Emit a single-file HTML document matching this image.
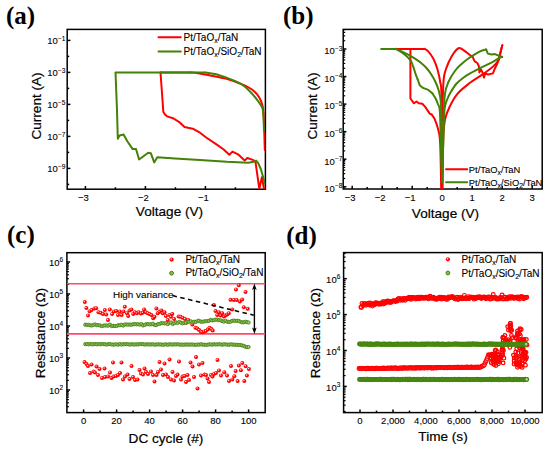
<!DOCTYPE html>
<html><head><meta charset="utf-8"><style>
html,body{margin:0;padding:0;background:#fff;overflow:hidden}
svg{display:block}
text{font-family:"Liberation Sans",sans-serif;stroke:#000;stroke-width:0.1px}
.t{stroke-width:0.2px}
.p{stroke:none}
</style></head><body>
<svg width="550" height="451" viewBox="0 0 550 451">
<defs>
<clipPath id="clipa"><rect x="67.2" y="29.4" width="198.2" height="159.8"/></clipPath>
<clipPath id="clipb"><rect x="343.2" y="29.4" width="199" height="159.6"/></clipPath>
</defs>
<rect width="550" height="451" fill="#fff"/>
<rect x="67.20" y="29.40" width="198.20" height="159.80" fill="none" stroke="#000" stroke-width="1.5"/>
<line x1="85.40" y1="189.20" x2="85.40" y2="186.00" stroke="#000" stroke-width="1.5" />
<text x="83.40" y="200.50" font-size="9.5" text-anchor="middle" fill="#000" >−3</text>
<line x1="145.40" y1="189.20" x2="145.40" y2="186.00" stroke="#000" stroke-width="1.5" />
<text x="143.40" y="200.50" font-size="9.5" text-anchor="middle" fill="#000" >−2</text>
<line x1="205.40" y1="189.20" x2="205.40" y2="186.00" stroke="#000" stroke-width="1.5" />
<text x="203.40" y="200.50" font-size="9.5" text-anchor="middle" fill="#000" >−1</text>
<line x1="115.40" y1="189.20" x2="115.40" y2="187.20" stroke="#000" stroke-width="1.5" />
<line x1="175.40" y1="189.20" x2="175.40" y2="187.20" stroke="#000" stroke-width="1.5" />
<line x1="235.40" y1="189.20" x2="235.40" y2="187.20" stroke="#000" stroke-width="1.5" />
<line x1="67.20" y1="40.40" x2="70.40" y2="40.40" stroke="#000" stroke-width="1.5" />
<text x="65.30" y="44.30" font-size="9.5" text-anchor="end" fill="#000"><tspan>10</tspan><tspan font-size="6.5" dy="-3.8">−1</tspan></text>
<line x1="67.20" y1="72.40" x2="70.40" y2="72.40" stroke="#000" stroke-width="1.5" />
<text x="65.30" y="76.30" font-size="9.5" text-anchor="end" fill="#000"><tspan>10</tspan><tspan font-size="6.5" dy="-3.8">−3</tspan></text>
<line x1="67.20" y1="104.40" x2="70.40" y2="104.40" stroke="#000" stroke-width="1.5" />
<text x="65.30" y="108.30" font-size="9.5" text-anchor="end" fill="#000"><tspan>10</tspan><tspan font-size="6.5" dy="-3.8">−5</tspan></text>
<line x1="67.20" y1="136.40" x2="70.40" y2="136.40" stroke="#000" stroke-width="1.5" />
<text x="65.30" y="140.30" font-size="9.5" text-anchor="end" fill="#000"><tspan>10</tspan><tspan font-size="6.5" dy="-3.8">−7</tspan></text>
<line x1="67.20" y1="168.40" x2="70.40" y2="168.40" stroke="#000" stroke-width="1.5" />
<text x="65.30" y="172.30" font-size="9.5" text-anchor="end" fill="#000"><tspan>10</tspan><tspan font-size="6.5" dy="-3.8">−9</tspan></text>
<line x1="67.20" y1="56.40" x2="69.20" y2="56.40" stroke="#000" stroke-width="1.5" />
<line x1="67.20" y1="88.40" x2="69.20" y2="88.40" stroke="#000" stroke-width="1.5" />
<line x1="67.20" y1="120.40" x2="69.20" y2="120.40" stroke="#000" stroke-width="1.5" />
<line x1="67.20" y1="152.40" x2="69.20" y2="152.40" stroke="#000" stroke-width="1.5" />
<line x1="67.20" y1="184.40" x2="69.20" y2="184.40" stroke="#000" stroke-width="1.5" />
<text x="169.50" y="216.30" font-size="13.6" text-anchor="middle" fill="#000" class="t">Voltage (V)</text>
<text transform="translate(40.9,106) rotate(-90)" class="t" x="0" y="0" font-size="13.6" text-anchor="middle" fill="#000">Current (A)</text>
<text x="6" y="24" class="p" style="font-family:Liberation Serif,serif;font-weight:bold" font-size="25" fill="#000">(a)</text>
<line x1="158.50" y1="37.20" x2="180.80" y2="37.20" stroke="#ff0000" stroke-width="2.0" stroke-linecap="round"/>
<line x1="158.50" y1="51.50" x2="180.80" y2="51.50" stroke="#438206" stroke-width="2.0" stroke-linecap="round"/>
<text x="183.6" y="41.1" font-size="10" fill="#000">Pt/TaO<tspan font-size="7" dy="2">x</tspan><tspan dy="-2">/TaN</tspan></text>
<text x="183.6" y="55.2" font-size="10" fill="#000">Pt/TaO<tspan font-size="7" dy="2">x</tspan><tspan dy="-2">/SiO</tspan><tspan font-size="7" dy="2">2</tspan><tspan dy="-2">/TaN</tspan></text>
<g clip-path="url(#clipa)">
<path d="M264.80,150.00 C264.63,144.67 264.17,125.33 263.80,118.00 C263.43,110.67 263.40,109.50 262.60,106.00 C261.80,102.50 260.77,99.75 259.00,97.00 C257.23,94.25 254.73,91.57 252.00,89.50 C249.27,87.43 246.83,86.38 242.60,84.60 C238.37,82.82 232.03,80.33 226.60,78.80 C221.17,77.27 214.77,76.33 210.00,75.40 C205.23,74.47 201.33,73.68 198.00,73.20 C194.67,72.72 191.33,72.62 190.00,72.50" fill="none" stroke="#ff0000" stroke-width="2.0" stroke-linejoin="round" stroke-linecap="round" />
<polyline points="190.0,72.5 160.5,72.5" fill="none" stroke="#ff0000" stroke-width="2.0" stroke-linejoin="round" stroke-linecap="round" />
<polyline points="160.5,72.5 162.5,100.0 163.3,111.8 165.0,114.5 167.3,116.4 173.6,118.5 180.0,122.7 184.5,127.0 188.0,127.8 192.7,128.7 200.0,132.7 206.2,137.5 215.7,143.9 223.7,149.5 229.3,154.8 232.5,151.6 238.0,154.3 244.7,160.6 247.3,158.0 253.5,160.1 255.6,162.7 259.3,188.8 261.9,177.3 264.0,188.8" fill="none" stroke="#ff0000" stroke-width="2.0" stroke-linejoin="round" stroke-linecap="round" />
<path d="M264.00,131.00 C263.90,128.50 263.70,119.90 263.40,116.00 C263.10,112.10 263.43,110.55 262.20,107.60 C260.97,104.65 258.20,101.15 256.00,98.30 C253.80,95.45 251.23,92.72 249.00,90.50 C246.77,88.28 245.10,86.65 242.60,85.00 C240.10,83.35 236.67,81.83 234.00,80.60 C231.33,79.37 229.77,78.70 226.60,77.60 C223.43,76.50 218.60,74.87 215.00,74.00 C211.40,73.13 206.67,72.67 205.00,72.40" fill="none" stroke="#438206" stroke-width="2.0" stroke-linejoin="round" stroke-linecap="round" />
<polyline points="205.0,72.4 115.5,72.4 117.0,110.0 117.8,138.7 119.6,135.5 123.6,134.5 127.3,141.3 132.7,149.1 136.0,149.0 139.1,159.5 148.2,152.7 150.9,153.3 154.2,162.4 157.3,157.3 175.0,158.6 200.0,160.0 226.9,161.8 248.3,162.7 253.5,161.7 256.1,160.6 258.2,163.2 260.8,169.0 265.0,183.5" fill="none" stroke="#438206" stroke-width="2.0" stroke-linejoin="round" stroke-linecap="round" />
</g>
<rect x="343.20" y="29.40" width="199.00" height="159.60" fill="none" stroke="#000" stroke-width="1.5"/>
<line x1="352.20" y1="189.00" x2="352.20" y2="185.80" stroke="#000" stroke-width="1.5" />
<text x="350.20" y="200.50" font-size="9.5" text-anchor="middle" fill="#000" >−3</text>
<line x1="382.20" y1="189.00" x2="382.20" y2="185.80" stroke="#000" stroke-width="1.5" />
<text x="380.20" y="200.50" font-size="9.5" text-anchor="middle" fill="#000" >−2</text>
<line x1="412.20" y1="189.00" x2="412.20" y2="185.80" stroke="#000" stroke-width="1.5" />
<text x="410.20" y="200.50" font-size="9.5" text-anchor="middle" fill="#000" >−1</text>
<line x1="442.20" y1="189.00" x2="442.20" y2="185.80" stroke="#000" stroke-width="1.5" />
<text x="442.20" y="200.50" font-size="9.5" text-anchor="middle" fill="#000" >0</text>
<line x1="472.20" y1="189.00" x2="472.20" y2="185.80" stroke="#000" stroke-width="1.5" />
<text x="472.20" y="200.50" font-size="9.5" text-anchor="middle" fill="#000" >1</text>
<line x1="502.20" y1="189.00" x2="502.20" y2="185.80" stroke="#000" stroke-width="1.5" />
<text x="502.20" y="200.50" font-size="9.5" text-anchor="middle" fill="#000" >2</text>
<line x1="532.20" y1="189.00" x2="532.20" y2="185.80" stroke="#000" stroke-width="1.5" />
<text x="532.20" y="200.50" font-size="9.5" text-anchor="middle" fill="#000" >3</text>
<line x1="367.20" y1="189.00" x2="367.20" y2="187.00" stroke="#000" stroke-width="1.5" />
<line x1="397.20" y1="189.00" x2="397.20" y2="187.00" stroke="#000" stroke-width="1.5" />
<line x1="427.20" y1="189.00" x2="427.20" y2="187.00" stroke="#000" stroke-width="1.5" />
<line x1="457.20" y1="189.00" x2="457.20" y2="187.00" stroke="#000" stroke-width="1.5" />
<line x1="487.20" y1="189.00" x2="487.20" y2="187.00" stroke="#000" stroke-width="1.5" />
<line x1="517.20" y1="189.00" x2="517.20" y2="187.00" stroke="#000" stroke-width="1.5" />
<line x1="343.20" y1="49.00" x2="346.40" y2="49.00" stroke="#000" stroke-width="1.5" />
<text x="342.30" y="54.30" font-size="9.5" text-anchor="end" fill="#000"><tspan>10</tspan><tspan font-size="6.5" dy="-3.8">−3</tspan></text>
<line x1="343.20" y1="76.55" x2="346.40" y2="76.55" stroke="#000" stroke-width="1.5" />
<text x="342.30" y="81.85" font-size="9.5" text-anchor="end" fill="#000"><tspan>10</tspan><tspan font-size="6.5" dy="-3.8">−4</tspan></text>
<line x1="343.20" y1="104.10" x2="346.40" y2="104.10" stroke="#000" stroke-width="1.5" />
<text x="342.30" y="109.40" font-size="9.5" text-anchor="end" fill="#000"><tspan>10</tspan><tspan font-size="6.5" dy="-3.8">−5</tspan></text>
<line x1="343.20" y1="131.65" x2="346.40" y2="131.65" stroke="#000" stroke-width="1.5" />
<text x="342.30" y="136.95" font-size="9.5" text-anchor="end" fill="#000"><tspan>10</tspan><tspan font-size="6.5" dy="-3.8">−6</tspan></text>
<line x1="343.20" y1="159.20" x2="346.40" y2="159.20" stroke="#000" stroke-width="1.5" />
<text x="342.30" y="164.50" font-size="9.5" text-anchor="end" fill="#000"><tspan>10</tspan><tspan font-size="6.5" dy="-3.8">−7</tspan></text>
<line x1="343.20" y1="186.75" x2="346.40" y2="186.75" stroke="#000" stroke-width="1.5" />
<text x="342.30" y="192.05" font-size="9.5" text-anchor="end" fill="#000"><tspan>10</tspan><tspan font-size="6.5" dy="-3.8">−8</tspan></text>
<line x1="343.20" y1="188.01" x2="345.20" y2="188.01" stroke="#000" stroke-width="1.2" />
<line x1="343.20" y1="178.46" x2="345.20" y2="178.46" stroke="#000" stroke-width="1.2" />
<line x1="343.20" y1="173.61" x2="345.20" y2="173.61" stroke="#000" stroke-width="1.2" />
<line x1="343.20" y1="170.16" x2="345.20" y2="170.16" stroke="#000" stroke-width="1.2" />
<line x1="343.20" y1="167.49" x2="345.20" y2="167.49" stroke="#000" stroke-width="1.2" />
<line x1="343.20" y1="165.31" x2="345.20" y2="165.31" stroke="#000" stroke-width="1.2" />
<line x1="343.20" y1="163.47" x2="345.20" y2="163.47" stroke="#000" stroke-width="1.2" />
<line x1="343.20" y1="161.87" x2="345.20" y2="161.87" stroke="#000" stroke-width="1.2" />
<line x1="343.20" y1="160.46" x2="345.20" y2="160.46" stroke="#000" stroke-width="1.2" />
<line x1="343.20" y1="150.91" x2="345.20" y2="150.91" stroke="#000" stroke-width="1.2" />
<line x1="343.20" y1="146.06" x2="345.20" y2="146.06" stroke="#000" stroke-width="1.2" />
<line x1="343.20" y1="142.61" x2="345.20" y2="142.61" stroke="#000" stroke-width="1.2" />
<line x1="343.20" y1="139.94" x2="345.20" y2="139.94" stroke="#000" stroke-width="1.2" />
<line x1="343.20" y1="137.76" x2="345.20" y2="137.76" stroke="#000" stroke-width="1.2" />
<line x1="343.20" y1="135.92" x2="345.20" y2="135.92" stroke="#000" stroke-width="1.2" />
<line x1="343.20" y1="134.32" x2="345.20" y2="134.32" stroke="#000" stroke-width="1.2" />
<line x1="343.20" y1="132.91" x2="345.20" y2="132.91" stroke="#000" stroke-width="1.2" />
<line x1="343.20" y1="123.36" x2="345.20" y2="123.36" stroke="#000" stroke-width="1.2" />
<line x1="343.20" y1="118.51" x2="345.20" y2="118.51" stroke="#000" stroke-width="1.2" />
<line x1="343.20" y1="115.06" x2="345.20" y2="115.06" stroke="#000" stroke-width="1.2" />
<line x1="343.20" y1="112.39" x2="345.20" y2="112.39" stroke="#000" stroke-width="1.2" />
<line x1="343.20" y1="110.21" x2="345.20" y2="110.21" stroke="#000" stroke-width="1.2" />
<line x1="343.20" y1="108.37" x2="345.20" y2="108.37" stroke="#000" stroke-width="1.2" />
<line x1="343.20" y1="106.77" x2="345.20" y2="106.77" stroke="#000" stroke-width="1.2" />
<line x1="343.20" y1="105.36" x2="345.20" y2="105.36" stroke="#000" stroke-width="1.2" />
<line x1="343.20" y1="95.81" x2="345.20" y2="95.81" stroke="#000" stroke-width="1.2" />
<line x1="343.20" y1="90.96" x2="345.20" y2="90.96" stroke="#000" stroke-width="1.2" />
<line x1="343.20" y1="87.51" x2="345.20" y2="87.51" stroke="#000" stroke-width="1.2" />
<line x1="343.20" y1="84.84" x2="345.20" y2="84.84" stroke="#000" stroke-width="1.2" />
<line x1="343.20" y1="82.66" x2="345.20" y2="82.66" stroke="#000" stroke-width="1.2" />
<line x1="343.20" y1="80.82" x2="345.20" y2="80.82" stroke="#000" stroke-width="1.2" />
<line x1="343.20" y1="79.22" x2="345.20" y2="79.22" stroke="#000" stroke-width="1.2" />
<line x1="343.20" y1="77.81" x2="345.20" y2="77.81" stroke="#000" stroke-width="1.2" />
<line x1="343.20" y1="68.26" x2="345.20" y2="68.26" stroke="#000" stroke-width="1.2" />
<line x1="343.20" y1="63.41" x2="345.20" y2="63.41" stroke="#000" stroke-width="1.2" />
<line x1="343.20" y1="59.96" x2="345.20" y2="59.96" stroke="#000" stroke-width="1.2" />
<line x1="343.20" y1="57.29" x2="345.20" y2="57.29" stroke="#000" stroke-width="1.2" />
<line x1="343.20" y1="55.11" x2="345.20" y2="55.11" stroke="#000" stroke-width="1.2" />
<line x1="343.20" y1="53.27" x2="345.20" y2="53.27" stroke="#000" stroke-width="1.2" />
<line x1="343.20" y1="51.67" x2="345.20" y2="51.67" stroke="#000" stroke-width="1.2" />
<line x1="343.20" y1="50.26" x2="345.20" y2="50.26" stroke="#000" stroke-width="1.2" />
<line x1="343.20" y1="40.71" x2="345.20" y2="40.71" stroke="#000" stroke-width="1.2" />
<line x1="343.20" y1="35.86" x2="345.20" y2="35.86" stroke="#000" stroke-width="1.2" />
<line x1="343.20" y1="32.41" x2="345.20" y2="32.41" stroke="#000" stroke-width="1.2" />
<line x1="343.20" y1="29.74" x2="345.20" y2="29.74" stroke="#000" stroke-width="1.2" />
<text x="445.50" y="217.50" font-size="13.6" text-anchor="middle" fill="#000" class="t">Voltage (V)</text>
<text transform="translate(316.9,106) rotate(-90)" class="t" x="0" y="0" font-size="13.6" text-anchor="middle" fill="#000">Current (A)</text>
<text x="283" y="24" class="p" style="font-family:Liberation Serif,serif;font-weight:bold" font-size="25" fill="#000">(b)</text>
<line x1="446.00" y1="169.20" x2="467.20" y2="169.20" stroke="#ff0000" stroke-width="2.0" stroke-linecap="round"/>
<line x1="446.00" y1="182.30" x2="467.20" y2="182.30" stroke="#438206" stroke-width="2.0" stroke-linecap="round"/>
<text x="468.8" y="172.8" font-size="9.4" fill="#000">Pt/TaO<tspan font-size="7" dy="2">x</tspan><tspan dy="-2">/TaN</tspan></text>
<text x="468.8" y="185.9" font-size="9.4" fill="#000">Pt/TaO<tspan font-size="7" dy="2">x</tspan><tspan dy="-2">/SiO</tspan><tspan font-size="7" dy="2">2</tspan><tspan dy="-2">/TaN</tspan></text>
<g clip-path="url(#clipb)">
<polyline points="396.0,48.9 424.5,48.9" fill="none" stroke="#ff0000" stroke-width="2.0" stroke-linejoin="round" stroke-linecap="round" />
<path d="M424.50,48.90 C425.08,49.28 426.50,49.52 428.00,51.20 C429.50,52.88 431.92,55.95 433.50,59.00 C435.08,62.05 436.38,65.67 437.50,69.50 C438.62,73.33 439.53,77.25 440.20,82.00 C440.87,86.75 441.20,80.17 441.50,98.00 C441.80,115.83 441.92,173.83 442.00,189.00" fill="none" stroke="#ff0000" stroke-width="2.0" stroke-linejoin="round" stroke-linecap="round" />
<polyline points="410.4,48.9 410.4,98.5 414.0,103.3 416.5,101.5 418.8,103.3 422.3,103.8 425.0,106.6 429.9,113.9 431.7,114.5" fill="none" stroke="#ff0000" stroke-width="2.0" stroke-linejoin="round" stroke-linecap="round" />
<path d="M431.70,114.50 C432.22,115.32 433.68,116.75 434.80,119.40 C435.92,122.05 437.50,126.33 438.40,130.40 C439.30,134.47 439.73,134.03 440.20,143.80 C440.67,153.57 441.03,181.47 441.20,189.00" fill="none" stroke="#ff0000" stroke-width="2.0" stroke-linejoin="round" stroke-linecap="round" />
<path d="M442.60,189.00 C442.72,180.45 442.88,149.30 443.30,137.70 C443.72,126.10 444.08,124.48 445.10,119.40 C446.12,114.32 447.32,111.50 449.40,107.20 C451.48,102.90 454.17,97.67 457.60,93.60 C461.03,89.53 466.20,85.77 470.00,82.80 C473.80,79.83 477.45,77.80 480.40,75.80 C483.35,73.80 485.43,72.50 487.70,70.80 C489.97,69.10 492.27,67.33 494.00,65.60 C495.73,63.87 496.72,63.78 498.10,60.40 C499.48,57.02 501.60,47.82 502.30,45.30" fill="none" stroke="#ff0000" stroke-width="2.0" stroke-linejoin="round" stroke-linecap="round" />
<path d="M442.20,120.00 C442.43,113.32 442.82,88.80 443.60,79.90 C444.38,71.00 445.57,70.48 446.90,66.60 C448.23,62.72 450.05,59.37 451.60,56.60 C453.15,53.83 454.88,51.43 456.20,50.00 C457.52,48.57 458.17,47.90 459.50,48.00 C460.83,48.10 462.57,49.52 464.20,50.60 C465.83,51.68 467.90,53.47 469.30,54.50 C470.70,55.53 472.05,56.42 472.60,56.80" fill="none" stroke="#ff0000" stroke-width="2.0" stroke-linejoin="round" stroke-linecap="round" />
<polyline points="472.6,56.8 474.7,61.4 477.3,63.0 478.9,66.1 479.4,72.4 480.9,69.3 482.5,72.4 484.1,77.6 485.1,73.4 488.2,74.5 492.9,73.4 494.5,69.3 497.1,64.0 499.2,58.8 500.7,51.5 502.3,45.3" fill="none" stroke="#ff0000" stroke-width="2.0" stroke-linejoin="round" stroke-linecap="round" />
<polyline points="381.2,48.9 395.9,48.9" fill="none" stroke="#438206" stroke-width="2.0" stroke-linejoin="round" stroke-linecap="round" />
<path d="M395.90,48.90 C396.85,49.30 399.47,50.32 401.60,51.30 C403.73,52.28 406.47,53.58 408.70,54.80 C410.93,56.02 413.03,57.32 415.00,58.60 C416.97,59.88 418.67,61.02 420.50,62.50 C422.33,63.98 424.25,65.58 426.00,67.50 C427.75,69.42 429.42,71.58 431.00,74.00 C432.58,76.42 434.22,79.25 435.50,82.00 C436.78,84.75 437.85,87.50 438.70,90.50 C439.55,93.50 440.17,95.92 440.60,100.00 C441.03,104.08 441.15,106.67 441.30,115.00 C441.45,123.33 441.35,138.83 441.50,150.00 C441.65,161.17 442.08,176.67 442.20,182.00" fill="none" stroke="#438206" stroke-width="2.0" stroke-linejoin="round" stroke-linecap="round" />
<path d="M395.90,48.90 C397.30,49.78 401.87,52.28 404.30,54.20 C406.73,56.12 409.02,58.33 410.50,60.40 C411.98,62.47 412.32,64.23 413.20,66.60 C414.08,68.97 415.05,72.45 415.80,74.60 C416.55,76.75 417.38,78.68 417.70,79.50" fill="none" stroke="#438206" stroke-width="2.0" stroke-linejoin="round" stroke-linecap="round" />
<polyline points="417.7,79.5 419.7,85.2 423.0,87.9 428.3,89.9 432.3,93.2" fill="none" stroke="#438206" stroke-width="2.0" stroke-linejoin="round" stroke-linecap="round" />
<path d="M432.30,93.20 C432.85,94.08 434.67,96.70 435.60,98.50 C436.53,100.30 437.18,101.75 437.90,104.00 C438.62,106.25 439.38,104.33 439.90,112.00 C440.42,119.67 440.62,138.33 441.00,150.00 C441.38,161.67 442.00,176.67 442.20,182.00" fill="none" stroke="#438206" stroke-width="2.0" stroke-linejoin="round" stroke-linecap="round" />
<path d="M442.20,182.00 C442.33,176.67 442.78,160.43 443.00,150.00 C443.22,139.57 443.18,128.73 443.50,119.40 C443.82,110.07 444.08,100.23 444.90,94.00 C445.72,87.77 446.73,85.83 448.40,82.00 C450.07,78.17 452.80,73.92 454.90,71.00 C457.00,68.08 458.75,66.58 461.00,64.50 C463.25,62.42 465.40,60.62 468.40,58.50 C471.40,56.38 476.05,53.30 479.00,51.80 C481.95,50.30 484.92,49.88 486.10,49.50" fill="none" stroke="#438206" stroke-width="2.0" stroke-linejoin="round" stroke-linecap="round" />
<polyline points="486.1,49.5 487.9,53.6 491.4,54.5 495.0,54.1 502.0,57.0" fill="none" stroke="#438206" stroke-width="2.0" stroke-linejoin="round" stroke-linecap="round" />
<path d="M442.20,182.00 C442.33,176.67 442.62,162.00 443.00,150.00 C443.38,138.00 443.73,118.58 444.50,110.00 C445.27,101.42 446.53,101.52 447.60,98.50 C448.67,95.48 449.47,94.32 450.90,91.90 C452.33,89.48 454.18,86.32 456.20,84.00 C458.22,81.68 460.68,79.77 463.00,78.00 C465.32,76.23 466.85,75.25 470.10,73.40 C473.35,71.55 478.70,68.83 482.50,66.90 C486.30,64.97 490.22,63.23 492.90,61.80 C495.58,60.37 497.03,59.13 498.60,58.30 C500.17,57.47 501.68,57.05 502.30,56.80" fill="none" stroke="#438206" stroke-width="2.0" stroke-linejoin="round" stroke-linecap="round" />
</g>
<rect x="66.90" y="252.70" width="198.30" height="159.90" fill="none" stroke="#000" stroke-width="1.5"/>
<line x1="83.60" y1="412.60" x2="83.60" y2="409.40" stroke="#000" stroke-width="1.5" />
<text x="83.60" y="424.30" font-size="9.5" text-anchor="middle" fill="#000" >0</text>
<line x1="116.60" y1="412.60" x2="116.60" y2="409.40" stroke="#000" stroke-width="1.5" />
<text x="116.60" y="424.30" font-size="9.5" text-anchor="middle" fill="#000" >20</text>
<line x1="149.60" y1="412.60" x2="149.60" y2="409.40" stroke="#000" stroke-width="1.5" />
<text x="149.60" y="424.30" font-size="9.5" text-anchor="middle" fill="#000" >40</text>
<line x1="182.60" y1="412.60" x2="182.60" y2="409.40" stroke="#000" stroke-width="1.5" />
<text x="182.60" y="424.30" font-size="9.5" text-anchor="middle" fill="#000" >60</text>
<line x1="215.60" y1="412.60" x2="215.60" y2="409.40" stroke="#000" stroke-width="1.5" />
<text x="215.60" y="424.30" font-size="9.5" text-anchor="middle" fill="#000" >80</text>
<line x1="248.60" y1="412.60" x2="248.60" y2="409.40" stroke="#000" stroke-width="1.5" />
<text x="248.60" y="424.30" font-size="9.5" text-anchor="middle" fill="#000" >100</text>
<line x1="100.10" y1="412.60" x2="100.10" y2="410.60" stroke="#000" stroke-width="1.5" />
<line x1="133.10" y1="412.60" x2="133.10" y2="410.60" stroke="#000" stroke-width="1.5" />
<line x1="166.10" y1="412.60" x2="166.10" y2="410.60" stroke="#000" stroke-width="1.5" />
<line x1="199.10" y1="412.60" x2="199.10" y2="410.60" stroke="#000" stroke-width="1.5" />
<line x1="232.10" y1="412.60" x2="232.10" y2="410.60" stroke="#000" stroke-width="1.5" />
<line x1="66.90" y1="390.00" x2="70.10" y2="390.00" stroke="#000" stroke-width="1.5" />
<text x="63.20" y="394.10" font-size="9.5" text-anchor="end" fill="#000"><tspan>10</tspan><tspan font-size="6.5" dy="-3.8">2</tspan></text>
<line x1="66.90" y1="358.00" x2="70.10" y2="358.00" stroke="#000" stroke-width="1.5" />
<text x="63.20" y="362.10" font-size="9.5" text-anchor="end" fill="#000"><tspan>10</tspan><tspan font-size="6.5" dy="-3.8">3</tspan></text>
<line x1="66.90" y1="326.00" x2="70.10" y2="326.00" stroke="#000" stroke-width="1.5" />
<text x="63.20" y="330.10" font-size="9.5" text-anchor="end" fill="#000"><tspan>10</tspan><tspan font-size="6.5" dy="-3.8">4</tspan></text>
<line x1="66.90" y1="294.00" x2="70.10" y2="294.00" stroke="#000" stroke-width="1.5" />
<text x="63.20" y="298.10" font-size="9.5" text-anchor="end" fill="#000"><tspan>10</tspan><tspan font-size="6.5" dy="-3.8">5</tspan></text>
<line x1="66.90" y1="262.00" x2="70.10" y2="262.00" stroke="#000" stroke-width="1.5" />
<text x="63.20" y="266.10" font-size="9.5" text-anchor="end" fill="#000"><tspan>10</tspan><tspan font-size="6.5" dy="-3.8">6</tspan></text>
<line x1="66.90" y1="406.73" x2="68.90" y2="406.73" stroke="#000" stroke-width="1.2" />
<line x1="66.90" y1="402.73" x2="68.90" y2="402.73" stroke="#000" stroke-width="1.2" />
<line x1="66.90" y1="399.63" x2="68.90" y2="399.63" stroke="#000" stroke-width="1.2" />
<line x1="66.90" y1="397.10" x2="68.90" y2="397.10" stroke="#000" stroke-width="1.2" />
<line x1="66.90" y1="394.96" x2="68.90" y2="394.96" stroke="#000" stroke-width="1.2" />
<line x1="66.90" y1="393.10" x2="68.90" y2="393.10" stroke="#000" stroke-width="1.2" />
<line x1="66.90" y1="391.46" x2="68.90" y2="391.46" stroke="#000" stroke-width="1.2" />
<line x1="66.90" y1="380.37" x2="68.90" y2="380.37" stroke="#000" stroke-width="1.2" />
<line x1="66.90" y1="374.73" x2="68.90" y2="374.73" stroke="#000" stroke-width="1.2" />
<line x1="66.90" y1="370.73" x2="68.90" y2="370.73" stroke="#000" stroke-width="1.2" />
<line x1="66.90" y1="367.63" x2="68.90" y2="367.63" stroke="#000" stroke-width="1.2" />
<line x1="66.90" y1="365.10" x2="68.90" y2="365.10" stroke="#000" stroke-width="1.2" />
<line x1="66.90" y1="362.96" x2="68.90" y2="362.96" stroke="#000" stroke-width="1.2" />
<line x1="66.90" y1="361.10" x2="68.90" y2="361.10" stroke="#000" stroke-width="1.2" />
<line x1="66.90" y1="359.46" x2="68.90" y2="359.46" stroke="#000" stroke-width="1.2" />
<line x1="66.90" y1="348.37" x2="68.90" y2="348.37" stroke="#000" stroke-width="1.2" />
<line x1="66.90" y1="342.73" x2="68.90" y2="342.73" stroke="#000" stroke-width="1.2" />
<line x1="66.90" y1="338.73" x2="68.90" y2="338.73" stroke="#000" stroke-width="1.2" />
<line x1="66.90" y1="335.63" x2="68.90" y2="335.63" stroke="#000" stroke-width="1.2" />
<line x1="66.90" y1="333.10" x2="68.90" y2="333.10" stroke="#000" stroke-width="1.2" />
<line x1="66.90" y1="330.96" x2="68.90" y2="330.96" stroke="#000" stroke-width="1.2" />
<line x1="66.90" y1="329.10" x2="68.90" y2="329.10" stroke="#000" stroke-width="1.2" />
<line x1="66.90" y1="327.46" x2="68.90" y2="327.46" stroke="#000" stroke-width="1.2" />
<line x1="66.90" y1="316.37" x2="68.90" y2="316.37" stroke="#000" stroke-width="1.2" />
<line x1="66.90" y1="310.73" x2="68.90" y2="310.73" stroke="#000" stroke-width="1.2" />
<line x1="66.90" y1="306.73" x2="68.90" y2="306.73" stroke="#000" stroke-width="1.2" />
<line x1="66.90" y1="303.63" x2="68.90" y2="303.63" stroke="#000" stroke-width="1.2" />
<line x1="66.90" y1="301.10" x2="68.90" y2="301.10" stroke="#000" stroke-width="1.2" />
<line x1="66.90" y1="298.96" x2="68.90" y2="298.96" stroke="#000" stroke-width="1.2" />
<line x1="66.90" y1="297.10" x2="68.90" y2="297.10" stroke="#000" stroke-width="1.2" />
<line x1="66.90" y1="295.46" x2="68.90" y2="295.46" stroke="#000" stroke-width="1.2" />
<line x1="66.90" y1="284.37" x2="68.90" y2="284.37" stroke="#000" stroke-width="1.2" />
<line x1="66.90" y1="278.73" x2="68.90" y2="278.73" stroke="#000" stroke-width="1.2" />
<line x1="66.90" y1="274.73" x2="68.90" y2="274.73" stroke="#000" stroke-width="1.2" />
<line x1="66.90" y1="271.63" x2="68.90" y2="271.63" stroke="#000" stroke-width="1.2" />
<line x1="66.90" y1="269.10" x2="68.90" y2="269.10" stroke="#000" stroke-width="1.2" />
<line x1="66.90" y1="266.96" x2="68.90" y2="266.96" stroke="#000" stroke-width="1.2" />
<line x1="66.90" y1="265.10" x2="68.90" y2="265.10" stroke="#000" stroke-width="1.2" />
<line x1="66.90" y1="263.46" x2="68.90" y2="263.46" stroke="#000" stroke-width="1.2" />
<text x="166.00" y="443.30" font-size="13.6" text-anchor="middle" fill="#000" class="t">DC cycle (#)</text>
<text transform="translate(44.9,333) rotate(-90)" class="t" x="0" y="0" font-size="13.6" text-anchor="middle" fill="#000">Resistance (Ω)</text>
<text x="7" y="242.8" class="p" style="font-family:Liberation Serif,serif;font-weight:bold" font-size="25" fill="#000">(c)</text>
<circle cx="171.60" cy="259.60" r="2.1" fill="#ff0000"/>
<circle cx="171.20" cy="259.10" r="0.80" fill="#fff" opacity="0.85"/>
<circle cx="171.6" cy="273.2" r="1.9" fill="#8dbb55" stroke="#40800a" stroke-width="1.0"/>
<text x="185.4" y="262.8" font-size="10" fill="#000">Pt/TaO<tspan font-size="7" dy="2">x</tspan><tspan dy="-2">/TaN</tspan></text>
<text x="185.4" y="276.3" font-size="10" fill="#000">Pt/TaO<tspan font-size="7" dy="2">x</tspan><tspan dy="-2">/SiO</tspan><tspan font-size="7" dy="2">2</tspan><tspan dy="-2">/TaN</tspan></text>
<line x1="66.90" y1="283.80" x2="265.20" y2="283.80" stroke="#ff4a6a" stroke-width="1.6" />
<line x1="66.90" y1="333.90" x2="265.20" y2="333.90" stroke="#ff4a6a" stroke-width="1.6" />
<circle cx="84.50" cy="362.00" r="2.0" fill="#ff0000"/>
<circle cx="84.10" cy="361.50" r="0.76" fill="#fff" opacity="0.85"/>
<circle cx="86.50" cy="364.00" r="2.0" fill="#ff0000"/>
<circle cx="86.10" cy="363.50" r="0.76" fill="#fff" opacity="0.85"/>
<circle cx="88.00" cy="366.00" r="2.0" fill="#ff0000"/>
<circle cx="87.60" cy="365.50" r="0.76" fill="#fff" opacity="0.85"/>
<circle cx="90.00" cy="373.00" r="2.0" fill="#ff0000"/>
<circle cx="89.60" cy="372.50" r="0.76" fill="#fff" opacity="0.85"/>
<circle cx="91.50" cy="364.50" r="2.0" fill="#ff0000"/>
<circle cx="91.10" cy="364.00" r="0.76" fill="#fff" opacity="0.85"/>
<circle cx="93.50" cy="371.50" r="2.0" fill="#ff0000"/>
<circle cx="93.10" cy="371.00" r="0.76" fill="#fff" opacity="0.85"/>
<circle cx="95.00" cy="372.50" r="2.0" fill="#ff0000"/>
<circle cx="94.60" cy="372.00" r="0.76" fill="#fff" opacity="0.85"/>
<circle cx="96.50" cy="366.50" r="2.0" fill="#ff0000"/>
<circle cx="96.10" cy="366.00" r="0.76" fill="#fff" opacity="0.85"/>
<circle cx="98.00" cy="375.00" r="2.0" fill="#ff0000"/>
<circle cx="97.60" cy="374.50" r="0.76" fill="#fff" opacity="0.85"/>
<circle cx="99.50" cy="369.00" r="2.0" fill="#ff0000"/>
<circle cx="99.10" cy="368.50" r="0.76" fill="#fff" opacity="0.85"/>
<circle cx="102.00" cy="378.00" r="2.0" fill="#ff0000"/>
<circle cx="101.60" cy="377.50" r="0.76" fill="#fff" opacity="0.85"/>
<circle cx="104.50" cy="368.50" r="2.0" fill="#ff0000"/>
<circle cx="104.10" cy="368.00" r="0.76" fill="#fff" opacity="0.85"/>
<circle cx="105.00" cy="377.00" r="2.0" fill="#ff0000"/>
<circle cx="104.60" cy="376.50" r="0.76" fill="#fff" opacity="0.85"/>
<circle cx="108.00" cy="376.50" r="2.0" fill="#ff0000"/>
<circle cx="107.60" cy="376.00" r="0.76" fill="#fff" opacity="0.85"/>
<circle cx="110.00" cy="372.50" r="2.0" fill="#ff0000"/>
<circle cx="109.60" cy="372.00" r="0.76" fill="#fff" opacity="0.85"/>
<circle cx="111.50" cy="378.00" r="2.0" fill="#ff0000"/>
<circle cx="111.10" cy="377.50" r="0.76" fill="#fff" opacity="0.85"/>
<circle cx="113.00" cy="362.50" r="2.0" fill="#ff0000"/>
<circle cx="112.60" cy="362.00" r="0.76" fill="#fff" opacity="0.85"/>
<circle cx="113.50" cy="376.50" r="2.0" fill="#ff0000"/>
<circle cx="113.10" cy="376.00" r="0.76" fill="#fff" opacity="0.85"/>
<circle cx="116.00" cy="376.00" r="2.0" fill="#ff0000"/>
<circle cx="115.60" cy="375.50" r="0.76" fill="#fff" opacity="0.85"/>
<circle cx="118.00" cy="375.00" r="2.0" fill="#ff0000"/>
<circle cx="117.60" cy="374.50" r="0.76" fill="#fff" opacity="0.85"/>
<circle cx="120.00" cy="373.00" r="2.0" fill="#ff0000"/>
<circle cx="119.60" cy="372.50" r="0.76" fill="#fff" opacity="0.85"/>
<circle cx="121.50" cy="362.50" r="2.0" fill="#ff0000"/>
<circle cx="121.10" cy="362.00" r="0.76" fill="#fff" opacity="0.85"/>
<circle cx="123.00" cy="379.50" r="2.0" fill="#ff0000"/>
<circle cx="122.60" cy="379.00" r="0.76" fill="#fff" opacity="0.85"/>
<circle cx="125.00" cy="376.50" r="2.0" fill="#ff0000"/>
<circle cx="124.60" cy="376.00" r="0.76" fill="#fff" opacity="0.85"/>
<circle cx="127.50" cy="374.50" r="2.0" fill="#ff0000"/>
<circle cx="127.10" cy="374.00" r="0.76" fill="#fff" opacity="0.85"/>
<circle cx="129.50" cy="379.00" r="2.0" fill="#ff0000"/>
<circle cx="129.10" cy="378.50" r="0.76" fill="#fff" opacity="0.85"/>
<circle cx="131.50" cy="366.00" r="2.0" fill="#ff0000"/>
<circle cx="131.10" cy="365.50" r="0.76" fill="#fff" opacity="0.85"/>
<circle cx="133.00" cy="377.00" r="2.0" fill="#ff0000"/>
<circle cx="132.60" cy="376.50" r="0.76" fill="#fff" opacity="0.85"/>
<circle cx="135.00" cy="380.00" r="2.0" fill="#ff0000"/>
<circle cx="134.60" cy="379.50" r="0.76" fill="#fff" opacity="0.85"/>
<circle cx="137.50" cy="379.50" r="2.0" fill="#ff0000"/>
<circle cx="137.10" cy="379.00" r="0.76" fill="#fff" opacity="0.85"/>
<circle cx="139.50" cy="370.00" r="2.0" fill="#ff0000"/>
<circle cx="139.10" cy="369.50" r="0.76" fill="#fff" opacity="0.85"/>
<circle cx="141.00" cy="373.50" r="2.0" fill="#ff0000"/>
<circle cx="140.60" cy="373.00" r="0.76" fill="#fff" opacity="0.85"/>
<circle cx="143.00" cy="374.50" r="2.0" fill="#ff0000"/>
<circle cx="142.60" cy="374.00" r="0.76" fill="#fff" opacity="0.85"/>
<circle cx="144.50" cy="368.50" r="2.0" fill="#ff0000"/>
<circle cx="144.10" cy="368.00" r="0.76" fill="#fff" opacity="0.85"/>
<circle cx="146.00" cy="372.00" r="2.0" fill="#ff0000"/>
<circle cx="145.60" cy="371.50" r="0.76" fill="#fff" opacity="0.85"/>
<circle cx="148.00" cy="374.00" r="2.0" fill="#ff0000"/>
<circle cx="147.60" cy="373.50" r="0.76" fill="#fff" opacity="0.85"/>
<circle cx="151.00" cy="371.50" r="2.0" fill="#ff0000"/>
<circle cx="150.60" cy="371.00" r="0.76" fill="#fff" opacity="0.85"/>
<circle cx="153.00" cy="375.00" r="2.0" fill="#ff0000"/>
<circle cx="152.60" cy="374.50" r="0.76" fill="#fff" opacity="0.85"/>
<circle cx="154.50" cy="381.50" r="2.0" fill="#ff0000"/>
<circle cx="154.10" cy="381.00" r="0.76" fill="#fff" opacity="0.85"/>
<circle cx="156.50" cy="375.00" r="2.0" fill="#ff0000"/>
<circle cx="156.10" cy="374.50" r="0.76" fill="#fff" opacity="0.85"/>
<circle cx="158.00" cy="372.00" r="2.0" fill="#ff0000"/>
<circle cx="157.60" cy="371.50" r="0.76" fill="#fff" opacity="0.85"/>
<circle cx="159.50" cy="362.00" r="2.0" fill="#ff0000"/>
<circle cx="159.10" cy="361.50" r="0.76" fill="#fff" opacity="0.85"/>
<circle cx="161.00" cy="369.50" r="2.0" fill="#ff0000"/>
<circle cx="160.60" cy="369.00" r="0.76" fill="#fff" opacity="0.85"/>
<circle cx="163.00" cy="375.00" r="2.0" fill="#ff0000"/>
<circle cx="162.60" cy="374.50" r="0.76" fill="#fff" opacity="0.85"/>
<circle cx="164.50" cy="363.50" r="2.0" fill="#ff0000"/>
<circle cx="164.10" cy="363.00" r="0.76" fill="#fff" opacity="0.85"/>
<circle cx="166.00" cy="374.50" r="2.0" fill="#ff0000"/>
<circle cx="165.60" cy="374.00" r="0.76" fill="#fff" opacity="0.85"/>
<circle cx="168.00" cy="377.00" r="2.0" fill="#ff0000"/>
<circle cx="167.60" cy="376.50" r="0.76" fill="#fff" opacity="0.85"/>
<circle cx="169.50" cy="359.50" r="2.0" fill="#ff0000"/>
<circle cx="169.10" cy="359.00" r="0.76" fill="#fff" opacity="0.85"/>
<circle cx="171.00" cy="379.50" r="2.0" fill="#ff0000"/>
<circle cx="170.60" cy="379.00" r="0.76" fill="#fff" opacity="0.85"/>
<circle cx="172.50" cy="372.00" r="2.0" fill="#ff0000"/>
<circle cx="172.10" cy="371.50" r="0.76" fill="#fff" opacity="0.85"/>
<circle cx="174.00" cy="380.50" r="2.0" fill="#ff0000"/>
<circle cx="173.60" cy="380.00" r="0.76" fill="#fff" opacity="0.85"/>
<circle cx="176.00" cy="376.00" r="2.0" fill="#ff0000"/>
<circle cx="175.60" cy="375.50" r="0.76" fill="#fff" opacity="0.85"/>
<circle cx="177.50" cy="374.50" r="2.0" fill="#ff0000"/>
<circle cx="177.10" cy="374.00" r="0.76" fill="#fff" opacity="0.85"/>
<circle cx="179.00" cy="361.50" r="2.0" fill="#ff0000"/>
<circle cx="178.60" cy="361.00" r="0.76" fill="#fff" opacity="0.85"/>
<circle cx="181.00" cy="379.50" r="2.0" fill="#ff0000"/>
<circle cx="180.60" cy="379.00" r="0.76" fill="#fff" opacity="0.85"/>
<circle cx="182.50" cy="376.50" r="2.0" fill="#ff0000"/>
<circle cx="182.10" cy="376.00" r="0.76" fill="#fff" opacity="0.85"/>
<circle cx="184.50" cy="376.00" r="2.0" fill="#ff0000"/>
<circle cx="184.10" cy="375.50" r="0.76" fill="#fff" opacity="0.85"/>
<circle cx="186.00" cy="382.00" r="2.0" fill="#ff0000"/>
<circle cx="185.60" cy="381.50" r="0.76" fill="#fff" opacity="0.85"/>
<circle cx="187.50" cy="375.00" r="2.0" fill="#ff0000"/>
<circle cx="187.10" cy="374.50" r="0.76" fill="#fff" opacity="0.85"/>
<circle cx="189.00" cy="380.00" r="2.0" fill="#ff0000"/>
<circle cx="188.60" cy="379.50" r="0.76" fill="#fff" opacity="0.85"/>
<circle cx="190.50" cy="362.50" r="2.0" fill="#ff0000"/>
<circle cx="190.10" cy="362.00" r="0.76" fill="#fff" opacity="0.85"/>
<circle cx="192.50" cy="366.50" r="2.0" fill="#ff0000"/>
<circle cx="192.10" cy="366.00" r="0.76" fill="#fff" opacity="0.85"/>
<circle cx="194.00" cy="377.00" r="2.0" fill="#ff0000"/>
<circle cx="193.60" cy="376.50" r="0.76" fill="#fff" opacity="0.85"/>
<circle cx="196.00" cy="357.00" r="2.0" fill="#ff0000"/>
<circle cx="195.60" cy="356.50" r="0.76" fill="#fff" opacity="0.85"/>
<circle cx="197.50" cy="388.50" r="2.0" fill="#ff0000"/>
<circle cx="197.10" cy="388.00" r="0.76" fill="#fff" opacity="0.85"/>
<circle cx="199.00" cy="364.50" r="2.0" fill="#ff0000"/>
<circle cx="198.60" cy="364.00" r="0.76" fill="#fff" opacity="0.85"/>
<circle cx="201.00" cy="375.50" r="2.0" fill="#ff0000"/>
<circle cx="200.60" cy="375.00" r="0.76" fill="#fff" opacity="0.85"/>
<circle cx="202.50" cy="363.00" r="2.0" fill="#ff0000"/>
<circle cx="202.10" cy="362.50" r="0.76" fill="#fff" opacity="0.85"/>
<circle cx="204.50" cy="374.50" r="2.0" fill="#ff0000"/>
<circle cx="204.10" cy="374.00" r="0.76" fill="#fff" opacity="0.85"/>
<circle cx="206.00" cy="375.00" r="2.0" fill="#ff0000"/>
<circle cx="205.60" cy="374.50" r="0.76" fill="#fff" opacity="0.85"/>
<circle cx="207.50" cy="378.50" r="2.0" fill="#ff0000"/>
<circle cx="207.10" cy="378.00" r="0.76" fill="#fff" opacity="0.85"/>
<circle cx="209.00" cy="382.00" r="2.0" fill="#ff0000"/>
<circle cx="208.60" cy="381.50" r="0.76" fill="#fff" opacity="0.85"/>
<circle cx="211.00" cy="375.00" r="2.0" fill="#ff0000"/>
<circle cx="210.60" cy="374.50" r="0.76" fill="#fff" opacity="0.85"/>
<circle cx="212.50" cy="376.50" r="2.0" fill="#ff0000"/>
<circle cx="212.10" cy="376.00" r="0.76" fill="#fff" opacity="0.85"/>
<circle cx="214.00" cy="374.00" r="2.0" fill="#ff0000"/>
<circle cx="213.60" cy="373.50" r="0.76" fill="#fff" opacity="0.85"/>
<circle cx="216.00" cy="373.00" r="2.0" fill="#ff0000"/>
<circle cx="215.60" cy="372.50" r="0.76" fill="#fff" opacity="0.85"/>
<circle cx="217.50" cy="360.00" r="2.0" fill="#ff0000"/>
<circle cx="217.10" cy="359.50" r="0.76" fill="#fff" opacity="0.85"/>
<circle cx="219.00" cy="370.50" r="2.0" fill="#ff0000"/>
<circle cx="218.60" cy="370.00" r="0.76" fill="#fff" opacity="0.85"/>
<circle cx="221.00" cy="375.50" r="2.0" fill="#ff0000"/>
<circle cx="220.60" cy="375.00" r="0.76" fill="#fff" opacity="0.85"/>
<circle cx="224.30" cy="372.20" r="2.0" fill="#ff0000"/>
<circle cx="223.90" cy="371.70" r="0.76" fill="#fff" opacity="0.85"/>
<circle cx="227.00" cy="375.60" r="2.0" fill="#ff0000"/>
<circle cx="226.60" cy="375.10" r="0.76" fill="#fff" opacity="0.85"/>
<circle cx="229.00" cy="380.90" r="2.0" fill="#ff0000"/>
<circle cx="228.60" cy="380.40" r="0.76" fill="#fff" opacity="0.85"/>
<circle cx="231.00" cy="365.90" r="2.0" fill="#ff0000"/>
<circle cx="230.60" cy="365.40" r="0.76" fill="#fff" opacity="0.85"/>
<circle cx="232.30" cy="379.50" r="2.0" fill="#ff0000"/>
<circle cx="231.90" cy="379.00" r="0.76" fill="#fff" opacity="0.85"/>
<circle cx="234.30" cy="376.20" r="2.0" fill="#ff0000"/>
<circle cx="233.90" cy="375.70" r="0.76" fill="#fff" opacity="0.85"/>
<circle cx="235.60" cy="370.90" r="2.0" fill="#ff0000"/>
<circle cx="235.20" cy="370.40" r="0.76" fill="#fff" opacity="0.85"/>
<circle cx="237.60" cy="380.90" r="2.0" fill="#ff0000"/>
<circle cx="237.20" cy="380.40" r="0.76" fill="#fff" opacity="0.85"/>
<circle cx="238.90" cy="365.60" r="2.0" fill="#ff0000"/>
<circle cx="238.50" cy="365.10" r="0.76" fill="#fff" opacity="0.85"/>
<circle cx="240.90" cy="370.20" r="2.0" fill="#ff0000"/>
<circle cx="240.50" cy="369.70" r="0.76" fill="#fff" opacity="0.85"/>
<circle cx="242.30" cy="362.90" r="2.0" fill="#ff0000"/>
<circle cx="241.90" cy="362.40" r="0.76" fill="#fff" opacity="0.85"/>
<circle cx="244.30" cy="380.90" r="2.0" fill="#ff0000"/>
<circle cx="243.90" cy="380.40" r="0.76" fill="#fff" opacity="0.85"/>
<circle cx="245.60" cy="366.30" r="2.0" fill="#ff0000"/>
<circle cx="245.20" cy="365.80" r="0.76" fill="#fff" opacity="0.85"/>
<circle cx="246.90" cy="375.60" r="2.0" fill="#ff0000"/>
<circle cx="246.50" cy="375.10" r="0.76" fill="#fff" opacity="0.85"/>
<circle cx="248.90" cy="368.90" r="2.0" fill="#ff0000"/>
<circle cx="248.50" cy="368.40" r="0.76" fill="#fff" opacity="0.85"/>
<circle cx="84.80" cy="302.10" r="2.0" fill="#ff0000"/>
<circle cx="84.40" cy="301.60" r="0.76" fill="#fff" opacity="0.85"/>
<circle cx="86.40" cy="308.00" r="2.0" fill="#ff0000"/>
<circle cx="86.00" cy="307.50" r="0.76" fill="#fff" opacity="0.85"/>
<circle cx="88.00" cy="315.50" r="2.0" fill="#ff0000"/>
<circle cx="87.60" cy="315.00" r="0.76" fill="#fff" opacity="0.85"/>
<circle cx="89.60" cy="311.20" r="2.0" fill="#ff0000"/>
<circle cx="89.20" cy="310.70" r="0.76" fill="#fff" opacity="0.85"/>
<circle cx="91.60" cy="310.00" r="2.0" fill="#ff0000"/>
<circle cx="91.20" cy="309.50" r="0.76" fill="#fff" opacity="0.85"/>
<circle cx="94.40" cy="308.60" r="2.0" fill="#ff0000"/>
<circle cx="94.00" cy="308.10" r="0.76" fill="#fff" opacity="0.85"/>
<circle cx="96.20" cy="308.20" r="2.0" fill="#ff0000"/>
<circle cx="95.80" cy="307.70" r="0.76" fill="#fff" opacity="0.85"/>
<circle cx="98.50" cy="312.30" r="2.0" fill="#ff0000"/>
<circle cx="98.10" cy="311.80" r="0.76" fill="#fff" opacity="0.85"/>
<circle cx="100.70" cy="312.70" r="2.0" fill="#ff0000"/>
<circle cx="100.30" cy="312.20" r="0.76" fill="#fff" opacity="0.85"/>
<circle cx="103.00" cy="314.10" r="2.0" fill="#ff0000"/>
<circle cx="102.60" cy="313.60" r="0.76" fill="#fff" opacity="0.85"/>
<circle cx="104.80" cy="310.00" r="2.0" fill="#ff0000"/>
<circle cx="104.40" cy="309.50" r="0.76" fill="#fff" opacity="0.85"/>
<circle cx="106.20" cy="314.50" r="2.0" fill="#ff0000"/>
<circle cx="105.80" cy="314.00" r="0.76" fill="#fff" opacity="0.85"/>
<circle cx="108.00" cy="320.00" r="2.0" fill="#ff0000"/>
<circle cx="107.60" cy="319.50" r="0.76" fill="#fff" opacity="0.85"/>
<circle cx="109.80" cy="309.50" r="2.0" fill="#ff0000"/>
<circle cx="109.40" cy="309.00" r="0.76" fill="#fff" opacity="0.85"/>
<circle cx="112.10" cy="314.10" r="2.0" fill="#ff0000"/>
<circle cx="111.70" cy="313.60" r="0.76" fill="#fff" opacity="0.85"/>
<circle cx="113.90" cy="311.40" r="2.0" fill="#ff0000"/>
<circle cx="113.50" cy="310.90" r="0.76" fill="#fff" opacity="0.85"/>
<circle cx="116.20" cy="310.90" r="2.0" fill="#ff0000"/>
<circle cx="115.80" cy="310.40" r="0.76" fill="#fff" opacity="0.85"/>
<circle cx="118.00" cy="315.00" r="2.0" fill="#ff0000"/>
<circle cx="117.60" cy="314.50" r="0.76" fill="#fff" opacity="0.85"/>
<circle cx="119.80" cy="311.40" r="2.0" fill="#ff0000"/>
<circle cx="119.40" cy="310.90" r="0.76" fill="#fff" opacity="0.85"/>
<circle cx="121.60" cy="315.00" r="2.0" fill="#ff0000"/>
<circle cx="121.20" cy="314.50" r="0.76" fill="#fff" opacity="0.85"/>
<circle cx="123.50" cy="311.40" r="2.0" fill="#ff0000"/>
<circle cx="123.10" cy="310.90" r="0.76" fill="#fff" opacity="0.85"/>
<circle cx="124.80" cy="306.80" r="2.0" fill="#ff0000"/>
<circle cx="124.40" cy="306.30" r="0.76" fill="#fff" opacity="0.85"/>
<circle cx="127.00" cy="313.20" r="2.0" fill="#ff0000"/>
<circle cx="126.60" cy="312.70" r="0.76" fill="#fff" opacity="0.85"/>
<circle cx="128.20" cy="315.90" r="2.0" fill="#ff0000"/>
<circle cx="127.80" cy="315.40" r="0.76" fill="#fff" opacity="0.85"/>
<circle cx="129.50" cy="310.50" r="2.0" fill="#ff0000"/>
<circle cx="129.10" cy="310.00" r="0.76" fill="#fff" opacity="0.85"/>
<circle cx="131.40" cy="309.50" r="2.0" fill="#ff0000"/>
<circle cx="131.00" cy="309.00" r="0.76" fill="#fff" opacity="0.85"/>
<circle cx="133.20" cy="314.10" r="2.0" fill="#ff0000"/>
<circle cx="132.80" cy="313.60" r="0.76" fill="#fff" opacity="0.85"/>
<circle cx="135.00" cy="312.30" r="2.0" fill="#ff0000"/>
<circle cx="134.60" cy="311.80" r="0.76" fill="#fff" opacity="0.85"/>
<circle cx="136.80" cy="313.20" r="2.0" fill="#ff0000"/>
<circle cx="136.40" cy="312.70" r="0.76" fill="#fff" opacity="0.85"/>
<circle cx="138.60" cy="312.30" r="2.0" fill="#ff0000"/>
<circle cx="138.20" cy="311.80" r="0.76" fill="#fff" opacity="0.85"/>
<circle cx="140.90" cy="313.60" r="2.0" fill="#ff0000"/>
<circle cx="140.50" cy="313.10" r="0.76" fill="#fff" opacity="0.85"/>
<circle cx="142.70" cy="312.70" r="2.0" fill="#ff0000"/>
<circle cx="142.30" cy="312.20" r="0.76" fill="#fff" opacity="0.85"/>
<circle cx="144.10" cy="309.50" r="2.0" fill="#ff0000"/>
<circle cx="143.70" cy="309.00" r="0.76" fill="#fff" opacity="0.85"/>
<circle cx="145.90" cy="312.30" r="2.0" fill="#ff0000"/>
<circle cx="145.50" cy="311.80" r="0.76" fill="#fff" opacity="0.85"/>
<circle cx="147.70" cy="313.20" r="2.0" fill="#ff0000"/>
<circle cx="147.30" cy="312.70" r="0.76" fill="#fff" opacity="0.85"/>
<circle cx="149.50" cy="314.10" r="2.0" fill="#ff0000"/>
<circle cx="149.10" cy="313.60" r="0.76" fill="#fff" opacity="0.85"/>
<circle cx="151.40" cy="315.00" r="2.0" fill="#ff0000"/>
<circle cx="151.00" cy="314.50" r="0.76" fill="#fff" opacity="0.85"/>
<circle cx="153.20" cy="318.20" r="2.0" fill="#ff0000"/>
<circle cx="152.80" cy="317.70" r="0.76" fill="#fff" opacity="0.85"/>
<circle cx="154.50" cy="316.80" r="2.0" fill="#ff0000"/>
<circle cx="154.10" cy="316.30" r="0.76" fill="#fff" opacity="0.85"/>
<circle cx="156.40" cy="308.60" r="2.0" fill="#ff0000"/>
<circle cx="156.00" cy="308.10" r="0.76" fill="#fff" opacity="0.85"/>
<circle cx="157.70" cy="313.20" r="2.0" fill="#ff0000"/>
<circle cx="157.30" cy="312.70" r="0.76" fill="#fff" opacity="0.85"/>
<circle cx="159.50" cy="311.80" r="2.0" fill="#ff0000"/>
<circle cx="159.10" cy="311.30" r="0.76" fill="#fff" opacity="0.85"/>
<circle cx="161.40" cy="310.50" r="2.0" fill="#ff0000"/>
<circle cx="161.00" cy="310.00" r="0.76" fill="#fff" opacity="0.85"/>
<circle cx="162.70" cy="313.20" r="2.0" fill="#ff0000"/>
<circle cx="162.30" cy="312.70" r="0.76" fill="#fff" opacity="0.85"/>
<circle cx="164.50" cy="312.30" r="2.0" fill="#ff0000"/>
<circle cx="164.10" cy="311.80" r="0.76" fill="#fff" opacity="0.85"/>
<circle cx="165.90" cy="315.90" r="2.0" fill="#ff0000"/>
<circle cx="165.50" cy="315.40" r="0.76" fill="#fff" opacity="0.85"/>
<circle cx="167.70" cy="320.00" r="2.0" fill="#ff0000"/>
<circle cx="167.30" cy="319.50" r="0.76" fill="#fff" opacity="0.85"/>
<circle cx="169.50" cy="315.00" r="2.0" fill="#ff0000"/>
<circle cx="169.10" cy="314.50" r="0.76" fill="#fff" opacity="0.85"/>
<circle cx="170.90" cy="316.80" r="2.0" fill="#ff0000"/>
<circle cx="170.50" cy="316.30" r="0.76" fill="#fff" opacity="0.85"/>
<circle cx="172.30" cy="314.10" r="2.0" fill="#ff0000"/>
<circle cx="171.90" cy="313.60" r="0.76" fill="#fff" opacity="0.85"/>
<circle cx="174.10" cy="319.10" r="2.0" fill="#ff0000"/>
<circle cx="173.70" cy="318.60" r="0.76" fill="#fff" opacity="0.85"/>
<circle cx="178.60" cy="316.40" r="2.0" fill="#ff0000"/>
<circle cx="178.20" cy="315.90" r="0.76" fill="#fff" opacity="0.85"/>
<circle cx="180.50" cy="316.80" r="2.0" fill="#ff0000"/>
<circle cx="180.10" cy="316.30" r="0.76" fill="#fff" opacity="0.85"/>
<circle cx="182.70" cy="317.70" r="2.0" fill="#ff0000"/>
<circle cx="182.30" cy="317.20" r="0.76" fill="#fff" opacity="0.85"/>
<circle cx="185.00" cy="319.10" r="2.0" fill="#ff0000"/>
<circle cx="184.60" cy="318.60" r="0.76" fill="#fff" opacity="0.85"/>
<circle cx="186.40" cy="322.70" r="2.0" fill="#ff0000"/>
<circle cx="186.00" cy="322.20" r="0.76" fill="#fff" opacity="0.85"/>
<circle cx="188.20" cy="320.00" r="2.0" fill="#ff0000"/>
<circle cx="187.80" cy="319.50" r="0.76" fill="#fff" opacity="0.85"/>
<circle cx="192.30" cy="324.50" r="2.0" fill="#ff0000"/>
<circle cx="191.90" cy="324.00" r="0.76" fill="#fff" opacity="0.85"/>
<circle cx="195.50" cy="327.70" r="2.0" fill="#ff0000"/>
<circle cx="195.10" cy="327.20" r="0.76" fill="#fff" opacity="0.85"/>
<circle cx="197.30" cy="328.60" r="2.0" fill="#ff0000"/>
<circle cx="196.90" cy="328.10" r="0.76" fill="#fff" opacity="0.85"/>
<circle cx="199.10" cy="330.00" r="2.0" fill="#ff0000"/>
<circle cx="198.70" cy="329.50" r="0.76" fill="#fff" opacity="0.85"/>
<circle cx="200.90" cy="331.80" r="2.0" fill="#ff0000"/>
<circle cx="200.50" cy="331.30" r="0.76" fill="#fff" opacity="0.85"/>
<circle cx="202.30" cy="332.30" r="2.0" fill="#ff0000"/>
<circle cx="201.90" cy="331.80" r="0.76" fill="#fff" opacity="0.85"/>
<circle cx="204.10" cy="331.40" r="2.0" fill="#ff0000"/>
<circle cx="203.70" cy="330.90" r="0.76" fill="#fff" opacity="0.85"/>
<circle cx="205.90" cy="330.90" r="2.0" fill="#ff0000"/>
<circle cx="205.50" cy="330.40" r="0.76" fill="#fff" opacity="0.85"/>
<circle cx="207.70" cy="329.50" r="2.0" fill="#ff0000"/>
<circle cx="207.30" cy="329.00" r="0.76" fill="#fff" opacity="0.85"/>
<circle cx="209.50" cy="327.70" r="2.0" fill="#ff0000"/>
<circle cx="209.10" cy="327.20" r="0.76" fill="#fff" opacity="0.85"/>
<circle cx="211.40" cy="329.10" r="2.0" fill="#ff0000"/>
<circle cx="211.00" cy="328.60" r="0.76" fill="#fff" opacity="0.85"/>
<circle cx="212.70" cy="330.50" r="2.0" fill="#ff0000"/>
<circle cx="212.30" cy="330.00" r="0.76" fill="#fff" opacity="0.85"/>
<circle cx="213.90" cy="304.90" r="2.0" fill="#ff0000"/>
<circle cx="213.50" cy="304.40" r="0.76" fill="#fff" opacity="0.85"/>
<circle cx="215.50" cy="311.00" r="2.0" fill="#ff0000"/>
<circle cx="215.10" cy="310.50" r="0.76" fill="#fff" opacity="0.85"/>
<circle cx="217.20" cy="314.90" r="2.0" fill="#ff0000"/>
<circle cx="216.80" cy="314.40" r="0.76" fill="#fff" opacity="0.85"/>
<circle cx="218.90" cy="312.20" r="2.0" fill="#ff0000"/>
<circle cx="218.50" cy="311.70" r="0.76" fill="#fff" opacity="0.85"/>
<circle cx="220.50" cy="315.50" r="2.0" fill="#ff0000"/>
<circle cx="220.10" cy="315.00" r="0.76" fill="#fff" opacity="0.85"/>
<circle cx="222.20" cy="313.30" r="2.0" fill="#ff0000"/>
<circle cx="221.80" cy="312.80" r="0.76" fill="#fff" opacity="0.85"/>
<circle cx="223.90" cy="316.60" r="2.0" fill="#ff0000"/>
<circle cx="223.50" cy="316.10" r="0.76" fill="#fff" opacity="0.85"/>
<circle cx="225.50" cy="315.50" r="2.0" fill="#ff0000"/>
<circle cx="225.10" cy="315.00" r="0.76" fill="#fff" opacity="0.85"/>
<circle cx="227.20" cy="314.40" r="2.0" fill="#ff0000"/>
<circle cx="226.80" cy="313.90" r="0.76" fill="#fff" opacity="0.85"/>
<circle cx="228.80" cy="313.30" r="2.0" fill="#ff0000"/>
<circle cx="228.40" cy="312.80" r="0.76" fill="#fff" opacity="0.85"/>
<circle cx="230.50" cy="299.70" r="2.0" fill="#ff0000"/>
<circle cx="230.10" cy="299.20" r="0.76" fill="#fff" opacity="0.85"/>
<circle cx="232.20" cy="309.40" r="2.0" fill="#ff0000"/>
<circle cx="231.80" cy="308.90" r="0.76" fill="#fff" opacity="0.85"/>
<circle cx="233.80" cy="300.00" r="2.0" fill="#ff0000"/>
<circle cx="233.40" cy="299.50" r="0.76" fill="#fff" opacity="0.85"/>
<circle cx="236.00" cy="289.40" r="2.0" fill="#ff0000"/>
<circle cx="235.60" cy="288.90" r="0.76" fill="#fff" opacity="0.85"/>
<circle cx="236.60" cy="300.00" r="2.0" fill="#ff0000"/>
<circle cx="236.20" cy="299.50" r="0.76" fill="#fff" opacity="0.85"/>
<circle cx="238.80" cy="285.30" r="2.0" fill="#ff0000"/>
<circle cx="238.40" cy="284.80" r="0.76" fill="#fff" opacity="0.85"/>
<circle cx="239.90" cy="301.60" r="2.0" fill="#ff0000"/>
<circle cx="239.50" cy="301.10" r="0.76" fill="#fff" opacity="0.85"/>
<circle cx="242.20" cy="299.40" r="2.0" fill="#ff0000"/>
<circle cx="241.80" cy="298.90" r="0.76" fill="#fff" opacity="0.85"/>
<circle cx="243.80" cy="307.20" r="2.0" fill="#ff0000"/>
<circle cx="243.40" cy="306.70" r="0.76" fill="#fff" opacity="0.85"/>
<circle cx="245.50" cy="292.00" r="2.0" fill="#ff0000"/>
<circle cx="245.10" cy="291.50" r="0.76" fill="#fff" opacity="0.85"/>
<circle cx="247.70" cy="308.80" r="2.0" fill="#ff0000"/>
<circle cx="247.30" cy="308.30" r="0.76" fill="#fff" opacity="0.85"/>
<circle cx="85.25" cy="344.18" r="1.6" fill="#a3c878" stroke="#44840c" stroke-width="0.9"/>
<circle cx="86.90" cy="344.06" r="1.6" fill="#a3c878" stroke="#44840c" stroke-width="0.9"/>
<circle cx="88.55" cy="344.41" r="1.6" fill="#a3c878" stroke="#44840c" stroke-width="0.9"/>
<circle cx="90.20" cy="344.01" r="1.6" fill="#a3c878" stroke="#44840c" stroke-width="0.9"/>
<circle cx="91.85" cy="344.34" r="1.6" fill="#a3c878" stroke="#44840c" stroke-width="0.9"/>
<circle cx="93.50" cy="344.22" r="1.6" fill="#a3c878" stroke="#44840c" stroke-width="0.9"/>
<circle cx="95.15" cy="344.01" r="1.6" fill="#a3c878" stroke="#44840c" stroke-width="0.9"/>
<circle cx="96.80" cy="344.33" r="1.6" fill="#a3c878" stroke="#44840c" stroke-width="0.9"/>
<circle cx="98.45" cy="344.00" r="1.6" fill="#a3c878" stroke="#44840c" stroke-width="0.9"/>
<circle cx="100.10" cy="344.28" r="1.6" fill="#a3c878" stroke="#44840c" stroke-width="0.9"/>
<circle cx="101.75" cy="344.03" r="1.6" fill="#a3c878" stroke="#44840c" stroke-width="0.9"/>
<circle cx="103.40" cy="344.05" r="1.6" fill="#a3c878" stroke="#44840c" stroke-width="0.9"/>
<circle cx="105.05" cy="344.29" r="1.6" fill="#a3c878" stroke="#44840c" stroke-width="0.9"/>
<circle cx="106.70" cy="344.57" r="1.6" fill="#a3c878" stroke="#44840c" stroke-width="0.9"/>
<circle cx="108.35" cy="344.08" r="1.6" fill="#a3c878" stroke="#44840c" stroke-width="0.9"/>
<circle cx="110.00" cy="344.16" r="1.6" fill="#a3c878" stroke="#44840c" stroke-width="0.9"/>
<circle cx="111.65" cy="344.44" r="1.6" fill="#a3c878" stroke="#44840c" stroke-width="0.9"/>
<circle cx="113.30" cy="344.67" r="1.6" fill="#a3c878" stroke="#44840c" stroke-width="0.9"/>
<circle cx="114.95" cy="344.41" r="1.6" fill="#a3c878" stroke="#44840c" stroke-width="0.9"/>
<circle cx="116.60" cy="344.29" r="1.6" fill="#a3c878" stroke="#44840c" stroke-width="0.9"/>
<circle cx="118.25" cy="344.70" r="1.6" fill="#a3c878" stroke="#44840c" stroke-width="0.9"/>
<circle cx="119.90" cy="344.05" r="1.6" fill="#a3c878" stroke="#44840c" stroke-width="0.9"/>
<circle cx="121.55" cy="344.62" r="1.6" fill="#a3c878" stroke="#44840c" stroke-width="0.9"/>
<circle cx="123.20" cy="344.23" r="1.6" fill="#a3c878" stroke="#44840c" stroke-width="0.9"/>
<circle cx="124.85" cy="344.13" r="1.6" fill="#a3c878" stroke="#44840c" stroke-width="0.9"/>
<circle cx="126.50" cy="344.11" r="1.6" fill="#a3c878" stroke="#44840c" stroke-width="0.9"/>
<circle cx="128.15" cy="344.25" r="1.6" fill="#a3c878" stroke="#44840c" stroke-width="0.9"/>
<circle cx="129.80" cy="344.61" r="1.6" fill="#a3c878" stroke="#44840c" stroke-width="0.9"/>
<circle cx="131.45" cy="344.17" r="1.6" fill="#a3c878" stroke="#44840c" stroke-width="0.9"/>
<circle cx="133.10" cy="344.45" r="1.6" fill="#a3c878" stroke="#44840c" stroke-width="0.9"/>
<circle cx="134.75" cy="344.50" r="1.6" fill="#a3c878" stroke="#44840c" stroke-width="0.9"/>
<circle cx="136.40" cy="344.31" r="1.6" fill="#a3c878" stroke="#44840c" stroke-width="0.9"/>
<circle cx="138.05" cy="344.44" r="1.6" fill="#a3c878" stroke="#44840c" stroke-width="0.9"/>
<circle cx="139.70" cy="344.10" r="1.6" fill="#a3c878" stroke="#44840c" stroke-width="0.9"/>
<circle cx="141.35" cy="344.10" r="1.6" fill="#a3c878" stroke="#44840c" stroke-width="0.9"/>
<circle cx="143.00" cy="344.21" r="1.6" fill="#a3c878" stroke="#44840c" stroke-width="0.9"/>
<circle cx="144.65" cy="344.54" r="1.6" fill="#a3c878" stroke="#44840c" stroke-width="0.9"/>
<circle cx="146.30" cy="344.37" r="1.6" fill="#a3c878" stroke="#44840c" stroke-width="0.9"/>
<circle cx="147.95" cy="344.29" r="1.6" fill="#a3c878" stroke="#44840c" stroke-width="0.9"/>
<circle cx="149.60" cy="344.49" r="1.6" fill="#a3c878" stroke="#44840c" stroke-width="0.9"/>
<circle cx="151.25" cy="344.40" r="1.6" fill="#a3c878" stroke="#44840c" stroke-width="0.9"/>
<circle cx="152.90" cy="344.29" r="1.6" fill="#a3c878" stroke="#44840c" stroke-width="0.9"/>
<circle cx="154.55" cy="344.64" r="1.6" fill="#a3c878" stroke="#44840c" stroke-width="0.9"/>
<circle cx="156.20" cy="344.58" r="1.6" fill="#a3c878" stroke="#44840c" stroke-width="0.9"/>
<circle cx="157.85" cy="344.26" r="1.6" fill="#a3c878" stroke="#44840c" stroke-width="0.9"/>
<circle cx="159.50" cy="344.50" r="1.6" fill="#a3c878" stroke="#44840c" stroke-width="0.9"/>
<circle cx="161.15" cy="344.47" r="1.6" fill="#a3c878" stroke="#44840c" stroke-width="0.9"/>
<circle cx="162.80" cy="344.72" r="1.6" fill="#a3c878" stroke="#44840c" stroke-width="0.9"/>
<circle cx="164.45" cy="344.62" r="1.6" fill="#a3c878" stroke="#44840c" stroke-width="0.9"/>
<circle cx="166.10" cy="344.31" r="1.6" fill="#a3c878" stroke="#44840c" stroke-width="0.9"/>
<circle cx="167.75" cy="344.80" r="1.6" fill="#a3c878" stroke="#44840c" stroke-width="0.9"/>
<circle cx="169.40" cy="344.20" r="1.6" fill="#a3c878" stroke="#44840c" stroke-width="0.9"/>
<circle cx="171.05" cy="344.41" r="1.6" fill="#a3c878" stroke="#44840c" stroke-width="0.9"/>
<circle cx="172.70" cy="344.65" r="1.6" fill="#a3c878" stroke="#44840c" stroke-width="0.9"/>
<circle cx="174.35" cy="344.23" r="1.6" fill="#a3c878" stroke="#44840c" stroke-width="0.9"/>
<circle cx="176.00" cy="344.47" r="1.6" fill="#a3c878" stroke="#44840c" stroke-width="0.9"/>
<circle cx="177.65" cy="344.16" r="1.6" fill="#a3c878" stroke="#44840c" stroke-width="0.9"/>
<circle cx="179.30" cy="344.60" r="1.6" fill="#a3c878" stroke="#44840c" stroke-width="0.9"/>
<circle cx="180.95" cy="344.67" r="1.6" fill="#a3c878" stroke="#44840c" stroke-width="0.9"/>
<circle cx="182.60" cy="344.54" r="1.6" fill="#a3c878" stroke="#44840c" stroke-width="0.9"/>
<circle cx="184.25" cy="344.76" r="1.6" fill="#a3c878" stroke="#44840c" stroke-width="0.9"/>
<circle cx="185.90" cy="344.37" r="1.6" fill="#a3c878" stroke="#44840c" stroke-width="0.9"/>
<circle cx="187.55" cy="344.64" r="1.6" fill="#a3c878" stroke="#44840c" stroke-width="0.9"/>
<circle cx="189.20" cy="344.57" r="1.6" fill="#a3c878" stroke="#44840c" stroke-width="0.9"/>
<circle cx="190.85" cy="344.56" r="1.6" fill="#a3c878" stroke="#44840c" stroke-width="0.9"/>
<circle cx="192.50" cy="344.48" r="1.6" fill="#a3c878" stroke="#44840c" stroke-width="0.9"/>
<circle cx="194.15" cy="344.75" r="1.6" fill="#a3c878" stroke="#44840c" stroke-width="0.9"/>
<circle cx="195.80" cy="344.83" r="1.6" fill="#a3c878" stroke="#44840c" stroke-width="0.9"/>
<circle cx="197.45" cy="344.50" r="1.6" fill="#a3c878" stroke="#44840c" stroke-width="0.9"/>
<circle cx="199.10" cy="344.64" r="1.6" fill="#a3c878" stroke="#44840c" stroke-width="0.9"/>
<circle cx="200.75" cy="344.22" r="1.6" fill="#a3c878" stroke="#44840c" stroke-width="0.9"/>
<circle cx="202.40" cy="344.67" r="1.6" fill="#a3c878" stroke="#44840c" stroke-width="0.9"/>
<circle cx="204.05" cy="344.64" r="1.6" fill="#a3c878" stroke="#44840c" stroke-width="0.9"/>
<circle cx="205.70" cy="344.88" r="1.6" fill="#a3c878" stroke="#44840c" stroke-width="0.9"/>
<circle cx="207.35" cy="344.76" r="1.6" fill="#a3c878" stroke="#44840c" stroke-width="0.9"/>
<circle cx="209.00" cy="344.39" r="1.6" fill="#a3c878" stroke="#44840c" stroke-width="0.9"/>
<circle cx="210.65" cy="344.47" r="1.6" fill="#a3c878" stroke="#44840c" stroke-width="0.9"/>
<circle cx="212.30" cy="344.67" r="1.6" fill="#a3c878" stroke="#44840c" stroke-width="0.9"/>
<circle cx="213.95" cy="344.22" r="1.6" fill="#a3c878" stroke="#44840c" stroke-width="0.9"/>
<circle cx="215.60" cy="344.53" r="1.6" fill="#a3c878" stroke="#44840c" stroke-width="0.9"/>
<circle cx="217.25" cy="344.33" r="1.6" fill="#a3c878" stroke="#44840c" stroke-width="0.9"/>
<circle cx="218.90" cy="344.29" r="1.6" fill="#a3c878" stroke="#44840c" stroke-width="0.9"/>
<circle cx="220.55" cy="344.26" r="1.6" fill="#a3c878" stroke="#44840c" stroke-width="0.9"/>
<circle cx="222.20" cy="344.76" r="1.6" fill="#a3c878" stroke="#44840c" stroke-width="0.9"/>
<circle cx="223.85" cy="344.31" r="1.6" fill="#a3c878" stroke="#44840c" stroke-width="0.9"/>
<circle cx="225.50" cy="344.40" r="1.6" fill="#a3c878" stroke="#44840c" stroke-width="0.9"/>
<circle cx="227.15" cy="344.50" r="1.6" fill="#a3c878" stroke="#44840c" stroke-width="0.9"/>
<circle cx="228.80" cy="344.84" r="1.6" fill="#a3c878" stroke="#44840c" stroke-width="0.9"/>
<circle cx="230.45" cy="344.29" r="1.6" fill="#a3c878" stroke="#44840c" stroke-width="0.9"/>
<circle cx="232.10" cy="344.55" r="1.6" fill="#a3c878" stroke="#44840c" stroke-width="0.9"/>
<circle cx="233.75" cy="344.63" r="1.6" fill="#a3c878" stroke="#44840c" stroke-width="0.9"/>
<circle cx="235.40" cy="344.86" r="1.6" fill="#a3c878" stroke="#44840c" stroke-width="0.9"/>
<circle cx="237.05" cy="344.82" r="1.6" fill="#a3c878" stroke="#44840c" stroke-width="0.9"/>
<circle cx="238.70" cy="344.91" r="1.6" fill="#a3c878" stroke="#44840c" stroke-width="0.9"/>
<circle cx="240.35" cy="344.93" r="1.6" fill="#a3c878" stroke="#44840c" stroke-width="0.9"/>
<circle cx="242.00" cy="345.45" r="1.6" fill="#a3c878" stroke="#44840c" stroke-width="0.9"/>
<circle cx="243.65" cy="345.84" r="1.6" fill="#a3c878" stroke="#44840c" stroke-width="0.9"/>
<circle cx="245.30" cy="346.64" r="1.6" fill="#a3c878" stroke="#44840c" stroke-width="0.9"/>
<circle cx="246.95" cy="347.12" r="1.6" fill="#a3c878" stroke="#44840c" stroke-width="0.9"/>
<circle cx="248.60" cy="346.99" r="1.6" fill="#a3c878" stroke="#44840c" stroke-width="0.9"/>
<circle cx="85.25" cy="324.72" r="1.6" fill="#a3c878" stroke="#44840c" stroke-width="0.9"/>
<circle cx="86.90" cy="324.83" r="1.6" fill="#a3c878" stroke="#44840c" stroke-width="0.9"/>
<circle cx="88.55" cy="324.83" r="1.6" fill="#a3c878" stroke="#44840c" stroke-width="0.9"/>
<circle cx="90.20" cy="325.29" r="1.6" fill="#a3c878" stroke="#44840c" stroke-width="0.9"/>
<circle cx="91.85" cy="325.48" r="1.6" fill="#a3c878" stroke="#44840c" stroke-width="0.9"/>
<circle cx="93.50" cy="324.90" r="1.6" fill="#a3c878" stroke="#44840c" stroke-width="0.9"/>
<circle cx="95.15" cy="324.44" r="1.6" fill="#a3c878" stroke="#44840c" stroke-width="0.9"/>
<circle cx="96.80" cy="325.19" r="1.6" fill="#a3c878" stroke="#44840c" stroke-width="0.9"/>
<circle cx="98.45" cy="325.10" r="1.6" fill="#a3c878" stroke="#44840c" stroke-width="0.9"/>
<circle cx="100.10" cy="325.46" r="1.6" fill="#a3c878" stroke="#44840c" stroke-width="0.9"/>
<circle cx="101.75" cy="326.16" r="1.6" fill="#a3c878" stroke="#44840c" stroke-width="0.9"/>
<circle cx="103.40" cy="325.70" r="1.6" fill="#a3c878" stroke="#44840c" stroke-width="0.9"/>
<circle cx="105.05" cy="325.39" r="1.6" fill="#a3c878" stroke="#44840c" stroke-width="0.9"/>
<circle cx="106.70" cy="325.57" r="1.6" fill="#a3c878" stroke="#44840c" stroke-width="0.9"/>
<circle cx="108.35" cy="325.68" r="1.6" fill="#a3c878" stroke="#44840c" stroke-width="0.9"/>
<circle cx="110.00" cy="324.57" r="1.6" fill="#a3c878" stroke="#44840c" stroke-width="0.9"/>
<circle cx="111.65" cy="326.10" r="1.6" fill="#a3c878" stroke="#44840c" stroke-width="0.9"/>
<circle cx="113.30" cy="325.89" r="1.6" fill="#a3c878" stroke="#44840c" stroke-width="0.9"/>
<circle cx="114.95" cy="326.06" r="1.6" fill="#a3c878" stroke="#44840c" stroke-width="0.9"/>
<circle cx="116.60" cy="325.93" r="1.6" fill="#a3c878" stroke="#44840c" stroke-width="0.9"/>
<circle cx="118.25" cy="325.20" r="1.6" fill="#a3c878" stroke="#44840c" stroke-width="0.9"/>
<circle cx="119.90" cy="325.22" r="1.6" fill="#a3c878" stroke="#44840c" stroke-width="0.9"/>
<circle cx="121.55" cy="324.65" r="1.6" fill="#a3c878" stroke="#44840c" stroke-width="0.9"/>
<circle cx="123.20" cy="325.56" r="1.6" fill="#a3c878" stroke="#44840c" stroke-width="0.9"/>
<circle cx="124.85" cy="324.48" r="1.6" fill="#a3c878" stroke="#44840c" stroke-width="0.9"/>
<circle cx="126.50" cy="324.45" r="1.6" fill="#a3c878" stroke="#44840c" stroke-width="0.9"/>
<circle cx="128.15" cy="324.66" r="1.6" fill="#a3c878" stroke="#44840c" stroke-width="0.9"/>
<circle cx="129.80" cy="324.53" r="1.6" fill="#a3c878" stroke="#44840c" stroke-width="0.9"/>
<circle cx="131.45" cy="324.81" r="1.6" fill="#a3c878" stroke="#44840c" stroke-width="0.9"/>
<circle cx="133.10" cy="324.25" r="1.6" fill="#a3c878" stroke="#44840c" stroke-width="0.9"/>
<circle cx="134.75" cy="324.11" r="1.6" fill="#a3c878" stroke="#44840c" stroke-width="0.9"/>
<circle cx="136.40" cy="324.33" r="1.6" fill="#a3c878" stroke="#44840c" stroke-width="0.9"/>
<circle cx="138.05" cy="324.20" r="1.6" fill="#a3c878" stroke="#44840c" stroke-width="0.9"/>
<circle cx="139.70" cy="324.63" r="1.6" fill="#a3c878" stroke="#44840c" stroke-width="0.9"/>
<circle cx="141.35" cy="323.98" r="1.6" fill="#a3c878" stroke="#44840c" stroke-width="0.9"/>
<circle cx="143.00" cy="325.46" r="1.6" fill="#a3c878" stroke="#44840c" stroke-width="0.9"/>
<circle cx="144.65" cy="324.95" r="1.6" fill="#a3c878" stroke="#44840c" stroke-width="0.9"/>
<circle cx="146.30" cy="324.07" r="1.6" fill="#a3c878" stroke="#44840c" stroke-width="0.9"/>
<circle cx="147.95" cy="324.21" r="1.6" fill="#a3c878" stroke="#44840c" stroke-width="0.9"/>
<circle cx="149.60" cy="324.34" r="1.6" fill="#a3c878" stroke="#44840c" stroke-width="0.9"/>
<circle cx="151.25" cy="324.28" r="1.6" fill="#a3c878" stroke="#44840c" stroke-width="0.9"/>
<circle cx="152.90" cy="323.75" r="1.6" fill="#a3c878" stroke="#44840c" stroke-width="0.9"/>
<circle cx="154.55" cy="324.96" r="1.6" fill="#a3c878" stroke="#44840c" stroke-width="0.9"/>
<circle cx="156.20" cy="325.12" r="1.6" fill="#a3c878" stroke="#44840c" stroke-width="0.9"/>
<circle cx="157.85" cy="324.07" r="1.6" fill="#a3c878" stroke="#44840c" stroke-width="0.9"/>
<circle cx="159.50" cy="324.00" r="1.6" fill="#a3c878" stroke="#44840c" stroke-width="0.9"/>
<circle cx="161.15" cy="323.19" r="1.6" fill="#a3c878" stroke="#44840c" stroke-width="0.9"/>
<circle cx="162.80" cy="323.12" r="1.6" fill="#a3c878" stroke="#44840c" stroke-width="0.9"/>
<circle cx="164.45" cy="323.45" r="1.6" fill="#a3c878" stroke="#44840c" stroke-width="0.9"/>
<circle cx="166.10" cy="323.21" r="1.6" fill="#a3c878" stroke="#44840c" stroke-width="0.9"/>
<circle cx="167.75" cy="324.13" r="1.6" fill="#a3c878" stroke="#44840c" stroke-width="0.9"/>
<circle cx="169.40" cy="322.83" r="1.6" fill="#a3c878" stroke="#44840c" stroke-width="0.9"/>
<circle cx="171.05" cy="322.47" r="1.6" fill="#a3c878" stroke="#44840c" stroke-width="0.9"/>
<circle cx="172.70" cy="324.02" r="1.6" fill="#a3c878" stroke="#44840c" stroke-width="0.9"/>
<circle cx="174.35" cy="323.15" r="1.6" fill="#a3c878" stroke="#44840c" stroke-width="0.9"/>
<circle cx="176.00" cy="322.34" r="1.6" fill="#a3c878" stroke="#44840c" stroke-width="0.9"/>
<circle cx="177.65" cy="322.94" r="1.6" fill="#a3c878" stroke="#44840c" stroke-width="0.9"/>
<circle cx="179.30" cy="321.90" r="1.6" fill="#a3c878" stroke="#44840c" stroke-width="0.9"/>
<circle cx="180.95" cy="322.68" r="1.6" fill="#a3c878" stroke="#44840c" stroke-width="0.9"/>
<circle cx="182.60" cy="323.38" r="1.6" fill="#a3c878" stroke="#44840c" stroke-width="0.9"/>
<circle cx="184.25" cy="323.06" r="1.6" fill="#a3c878" stroke="#44840c" stroke-width="0.9"/>
<circle cx="185.90" cy="322.64" r="1.6" fill="#a3c878" stroke="#44840c" stroke-width="0.9"/>
<circle cx="187.55" cy="321.74" r="1.6" fill="#a3c878" stroke="#44840c" stroke-width="0.9"/>
<circle cx="189.20" cy="321.82" r="1.6" fill="#a3c878" stroke="#44840c" stroke-width="0.9"/>
<circle cx="190.85" cy="321.33" r="1.6" fill="#a3c878" stroke="#44840c" stroke-width="0.9"/>
<circle cx="192.50" cy="322.28" r="1.6" fill="#a3c878" stroke="#44840c" stroke-width="0.9"/>
<circle cx="194.15" cy="321.71" r="1.6" fill="#a3c878" stroke="#44840c" stroke-width="0.9"/>
<circle cx="195.80" cy="322.01" r="1.6" fill="#a3c878" stroke="#44840c" stroke-width="0.9"/>
<circle cx="197.45" cy="321.06" r="1.6" fill="#a3c878" stroke="#44840c" stroke-width="0.9"/>
<circle cx="199.10" cy="320.73" r="1.6" fill="#a3c878" stroke="#44840c" stroke-width="0.9"/>
<circle cx="200.75" cy="321.65" r="1.6" fill="#a3c878" stroke="#44840c" stroke-width="0.9"/>
<circle cx="202.40" cy="321.82" r="1.6" fill="#a3c878" stroke="#44840c" stroke-width="0.9"/>
<circle cx="204.05" cy="321.44" r="1.6" fill="#a3c878" stroke="#44840c" stroke-width="0.9"/>
<circle cx="205.70" cy="321.22" r="1.6" fill="#a3c878" stroke="#44840c" stroke-width="0.9"/>
<circle cx="207.35" cy="321.10" r="1.6" fill="#a3c878" stroke="#44840c" stroke-width="0.9"/>
<circle cx="209.00" cy="320.82" r="1.6" fill="#a3c878" stroke="#44840c" stroke-width="0.9"/>
<circle cx="210.65" cy="319.83" r="1.6" fill="#a3c878" stroke="#44840c" stroke-width="0.9"/>
<circle cx="212.30" cy="320.41" r="1.6" fill="#a3c878" stroke="#44840c" stroke-width="0.9"/>
<circle cx="213.95" cy="320.18" r="1.6" fill="#a3c878" stroke="#44840c" stroke-width="0.9"/>
<circle cx="215.60" cy="319.65" r="1.6" fill="#a3c878" stroke="#44840c" stroke-width="0.9"/>
<circle cx="217.25" cy="319.70" r="1.6" fill="#a3c878" stroke="#44840c" stroke-width="0.9"/>
<circle cx="218.90" cy="320.21" r="1.6" fill="#a3c878" stroke="#44840c" stroke-width="0.9"/>
<circle cx="220.55" cy="320.24" r="1.6" fill="#a3c878" stroke="#44840c" stroke-width="0.9"/>
<circle cx="222.20" cy="321.07" r="1.6" fill="#a3c878" stroke="#44840c" stroke-width="0.9"/>
<circle cx="223.85" cy="321.61" r="1.6" fill="#a3c878" stroke="#44840c" stroke-width="0.9"/>
<circle cx="225.50" cy="320.75" r="1.6" fill="#a3c878" stroke="#44840c" stroke-width="0.9"/>
<circle cx="227.15" cy="321.69" r="1.6" fill="#a3c878" stroke="#44840c" stroke-width="0.9"/>
<circle cx="228.80" cy="321.84" r="1.6" fill="#a3c878" stroke="#44840c" stroke-width="0.9"/>
<circle cx="230.45" cy="321.84" r="1.6" fill="#a3c878" stroke="#44840c" stroke-width="0.9"/>
<circle cx="232.10" cy="320.86" r="1.6" fill="#a3c878" stroke="#44840c" stroke-width="0.9"/>
<circle cx="233.75" cy="320.68" r="1.6" fill="#a3c878" stroke="#44840c" stroke-width="0.9"/>
<circle cx="235.40" cy="320.78" r="1.6" fill="#a3c878" stroke="#44840c" stroke-width="0.9"/>
<circle cx="237.05" cy="320.81" r="1.6" fill="#a3c878" stroke="#44840c" stroke-width="0.9"/>
<circle cx="238.70" cy="320.90" r="1.6" fill="#a3c878" stroke="#44840c" stroke-width="0.9"/>
<circle cx="240.35" cy="321.74" r="1.6" fill="#a3c878" stroke="#44840c" stroke-width="0.9"/>
<circle cx="242.00" cy="322.32" r="1.6" fill="#a3c878" stroke="#44840c" stroke-width="0.9"/>
<circle cx="243.65" cy="322.30" r="1.6" fill="#a3c878" stroke="#44840c" stroke-width="0.9"/>
<circle cx="245.30" cy="321.73" r="1.6" fill="#a3c878" stroke="#44840c" stroke-width="0.9"/>
<circle cx="246.95" cy="322.12" r="1.6" fill="#a3c878" stroke="#44840c" stroke-width="0.9"/>
<circle cx="248.60" cy="322.47" r="1.6" fill="#a3c878" stroke="#44840c" stroke-width="0.9"/>
<text x="113.00" y="297.80" font-size="9.9" text-anchor="start" fill="#000" >High variance</text>
<line x1="172.50" y1="295.60" x2="253.80" y2="315.20" stroke="#000" stroke-width="1.5" stroke-dasharray="4.5,3.5"/>
<line x1="254.40" y1="287.00" x2="254.40" y2="330.50" stroke="#000" stroke-width="1.4" />
<path d="M254.4,283.6 L252.1,290 L254.4,288.6 L256.7,290 Z" fill="#000"/>
<path d="M254.4,334 L252.1,327.6 L254.4,329 L256.7,327.6 Z" fill="#000"/>
<rect x="343.60" y="252.60" width="198.60" height="160.00" fill="none" stroke="#000" stroke-width="1.5"/>
<line x1="360.00" y1="412.60" x2="360.00" y2="409.40" stroke="#000" stroke-width="1.5" />
<text x="360.00" y="424.30" font-size="9.5" text-anchor="middle" fill="#000" >0</text>
<line x1="393.00" y1="412.60" x2="393.00" y2="409.40" stroke="#000" stroke-width="1.5" />
<text x="393.00" y="424.30" font-size="9.5" text-anchor="middle" fill="#000" >2,000</text>
<line x1="426.00" y1="412.60" x2="426.00" y2="409.40" stroke="#000" stroke-width="1.5" />
<text x="426.00" y="424.30" font-size="9.5" text-anchor="middle" fill="#000" >4,000</text>
<line x1="459.00" y1="412.60" x2="459.00" y2="409.40" stroke="#000" stroke-width="1.5" />
<text x="459.00" y="424.30" font-size="9.5" text-anchor="middle" fill="#000" >6,000</text>
<line x1="492.00" y1="412.60" x2="492.00" y2="409.40" stroke="#000" stroke-width="1.5" />
<text x="492.00" y="424.30" font-size="9.5" text-anchor="middle" fill="#000" >8,000</text>
<line x1="525.00" y1="412.60" x2="525.00" y2="409.40" stroke="#000" stroke-width="1.5" />
<text x="525.00" y="424.30" font-size="9.5" text-anchor="middle" fill="#000" >10,000</text>
<line x1="376.50" y1="412.60" x2="376.50" y2="410.60" stroke="#000" stroke-width="1.5" />
<line x1="409.50" y1="412.60" x2="409.50" y2="410.60" stroke="#000" stroke-width="1.5" />
<line x1="442.50" y1="412.60" x2="442.50" y2="410.60" stroke="#000" stroke-width="1.5" />
<line x1="475.50" y1="412.60" x2="475.50" y2="410.60" stroke="#000" stroke-width="1.5" />
<line x1="508.50" y1="412.60" x2="508.50" y2="410.60" stroke="#000" stroke-width="1.5" />
<line x1="343.60" y1="386.40" x2="346.80" y2="386.40" stroke="#000" stroke-width="1.5" />
<text x="340.30" y="390.50" font-size="9.5" text-anchor="end" fill="#000"><tspan>10</tspan><tspan font-size="6.5" dy="-3.8">3</tspan></text>
<line x1="343.60" y1="350.50" x2="346.80" y2="350.50" stroke="#000" stroke-width="1.5" />
<text x="340.30" y="354.60" font-size="9.5" text-anchor="end" fill="#000"><tspan>10</tspan><tspan font-size="6.5" dy="-3.8">4</tspan></text>
<line x1="343.60" y1="314.60" x2="346.80" y2="314.60" stroke="#000" stroke-width="1.5" />
<text x="340.30" y="318.70" font-size="9.5" text-anchor="end" fill="#000"><tspan>10</tspan><tspan font-size="6.5" dy="-3.8">5</tspan></text>
<line x1="343.60" y1="278.70" x2="346.80" y2="278.70" stroke="#000" stroke-width="1.5" />
<text x="340.30" y="282.80" font-size="9.5" text-anchor="end" fill="#000"><tspan>10</tspan><tspan font-size="6.5" dy="-3.8">6</tspan></text>
<line x1="343.60" y1="411.49" x2="345.60" y2="411.49" stroke="#000" stroke-width="1.2" />
<line x1="343.60" y1="405.17" x2="345.60" y2="405.17" stroke="#000" stroke-width="1.2" />
<line x1="343.60" y1="400.69" x2="345.60" y2="400.69" stroke="#000" stroke-width="1.2" />
<line x1="343.60" y1="397.21" x2="345.60" y2="397.21" stroke="#000" stroke-width="1.2" />
<line x1="343.60" y1="394.36" x2="345.60" y2="394.36" stroke="#000" stroke-width="1.2" />
<line x1="343.60" y1="391.96" x2="345.60" y2="391.96" stroke="#000" stroke-width="1.2" />
<line x1="343.60" y1="389.88" x2="345.60" y2="389.88" stroke="#000" stroke-width="1.2" />
<line x1="343.60" y1="388.04" x2="345.60" y2="388.04" stroke="#000" stroke-width="1.2" />
<line x1="343.60" y1="375.59" x2="345.60" y2="375.59" stroke="#000" stroke-width="1.2" />
<line x1="343.60" y1="369.27" x2="345.60" y2="369.27" stroke="#000" stroke-width="1.2" />
<line x1="343.60" y1="364.79" x2="345.60" y2="364.79" stroke="#000" stroke-width="1.2" />
<line x1="343.60" y1="361.31" x2="345.60" y2="361.31" stroke="#000" stroke-width="1.2" />
<line x1="343.60" y1="358.46" x2="345.60" y2="358.46" stroke="#000" stroke-width="1.2" />
<line x1="343.60" y1="356.06" x2="345.60" y2="356.06" stroke="#000" stroke-width="1.2" />
<line x1="343.60" y1="353.98" x2="345.60" y2="353.98" stroke="#000" stroke-width="1.2" />
<line x1="343.60" y1="352.14" x2="345.60" y2="352.14" stroke="#000" stroke-width="1.2" />
<line x1="343.60" y1="339.69" x2="345.60" y2="339.69" stroke="#000" stroke-width="1.2" />
<line x1="343.60" y1="333.37" x2="345.60" y2="333.37" stroke="#000" stroke-width="1.2" />
<line x1="343.60" y1="328.89" x2="345.60" y2="328.89" stroke="#000" stroke-width="1.2" />
<line x1="343.60" y1="325.41" x2="345.60" y2="325.41" stroke="#000" stroke-width="1.2" />
<line x1="343.60" y1="322.56" x2="345.60" y2="322.56" stroke="#000" stroke-width="1.2" />
<line x1="343.60" y1="320.16" x2="345.60" y2="320.16" stroke="#000" stroke-width="1.2" />
<line x1="343.60" y1="318.08" x2="345.60" y2="318.08" stroke="#000" stroke-width="1.2" />
<line x1="343.60" y1="316.24" x2="345.60" y2="316.24" stroke="#000" stroke-width="1.2" />
<line x1="343.60" y1="303.79" x2="345.60" y2="303.79" stroke="#000" stroke-width="1.2" />
<line x1="343.60" y1="297.47" x2="345.60" y2="297.47" stroke="#000" stroke-width="1.2" />
<line x1="343.60" y1="292.99" x2="345.60" y2="292.99" stroke="#000" stroke-width="1.2" />
<line x1="343.60" y1="289.51" x2="345.60" y2="289.51" stroke="#000" stroke-width="1.2" />
<line x1="343.60" y1="286.66" x2="345.60" y2="286.66" stroke="#000" stroke-width="1.2" />
<line x1="343.60" y1="284.26" x2="345.60" y2="284.26" stroke="#000" stroke-width="1.2" />
<line x1="343.60" y1="282.18" x2="345.60" y2="282.18" stroke="#000" stroke-width="1.2" />
<line x1="343.60" y1="280.34" x2="345.60" y2="280.34" stroke="#000" stroke-width="1.2" />
<line x1="343.60" y1="267.89" x2="345.60" y2="267.89" stroke="#000" stroke-width="1.2" />
<line x1="343.60" y1="261.57" x2="345.60" y2="261.57" stroke="#000" stroke-width="1.2" />
<line x1="343.60" y1="257.09" x2="345.60" y2="257.09" stroke="#000" stroke-width="1.2" />
<line x1="343.60" y1="253.61" x2="345.60" y2="253.61" stroke="#000" stroke-width="1.2" />
<text x="443.00" y="441.30" font-size="13.6" text-anchor="middle" fill="#000" class="t">Time (s)</text>
<text transform="translate(320.4,333) rotate(-90)" class="t" x="0" y="0" font-size="13.6" text-anchor="middle" fill="#000">Resistance (Ω)</text>
<text x="286.2" y="243.5" class="p" style="font-family:Liberation Serif,serif;font-weight:bold" font-size="25" fill="#000">(d)</text>
<circle cx="447.90" cy="259.30" r="2.1" fill="#ff0000"/>
<circle cx="447.50" cy="258.80" r="0.80" fill="#fff" opacity="0.85"/>
<circle cx="447.9" cy="273.0" r="1.9" fill="#8dbb55" stroke="#40800a" stroke-width="1.0"/>
<text x="461.6" y="263.4" font-size="10" fill="#000">Pt/TaO<tspan font-size="7" dy="2">x</tspan><tspan dy="-2">/TaN</tspan></text>
<text x="461.6" y="277.1" font-size="10" fill="#000">Pt/TaO<tspan font-size="7" dy="2">x</tspan><tspan dy="-2">/SiO</tspan><tspan font-size="7" dy="2">2</tspan><tspan dy="-2">/TaN</tspan></text>
<circle cx="362.00" cy="303.50" r="1.9" fill="none" stroke="#ff0000" stroke-width="1.15"/>
<circle cx="362.80" cy="305.43" r="1.9" fill="none" stroke="#ff0000" stroke-width="1.15"/>
<circle cx="363.60" cy="304.98" r="1.9" fill="none" stroke="#ff0000" stroke-width="1.15"/>
<circle cx="364.40" cy="303.56" r="1.9" fill="none" stroke="#ff0000" stroke-width="1.15"/>
<circle cx="365.20" cy="303.87" r="1.9" fill="none" stroke="#ff0000" stroke-width="1.15"/>
<circle cx="366.00" cy="305.34" r="1.9" fill="none" stroke="#ff0000" stroke-width="1.15"/>
<circle cx="366.80" cy="303.92" r="1.9" fill="none" stroke="#ff0000" stroke-width="1.15"/>
<circle cx="367.60" cy="304.64" r="1.9" fill="none" stroke="#ff0000" stroke-width="1.15"/>
<circle cx="368.40" cy="303.14" r="1.9" fill="none" stroke="#ff0000" stroke-width="1.15"/>
<circle cx="369.20" cy="304.95" r="1.9" fill="none" stroke="#ff0000" stroke-width="1.15"/>
<circle cx="370.00" cy="303.07" r="1.9" fill="none" stroke="#ff0000" stroke-width="1.15"/>
<circle cx="370.80" cy="305.02" r="1.9" fill="none" stroke="#ff0000" stroke-width="1.15"/>
<circle cx="371.60" cy="303.45" r="1.9" fill="none" stroke="#ff0000" stroke-width="1.15"/>
<circle cx="372.40" cy="306.08" r="1.9" fill="none" stroke="#ff0000" stroke-width="1.15"/>
<circle cx="373.20" cy="304.05" r="1.9" fill="none" stroke="#ff0000" stroke-width="1.15"/>
<circle cx="374.00" cy="304.67" r="1.9" fill="none" stroke="#ff0000" stroke-width="1.15"/>
<circle cx="374.80" cy="304.47" r="1.9" fill="none" stroke="#ff0000" stroke-width="1.15"/>
<circle cx="375.60" cy="302.82" r="1.9" fill="none" stroke="#ff0000" stroke-width="1.15"/>
<circle cx="376.40" cy="302.96" r="1.9" fill="none" stroke="#ff0000" stroke-width="1.15"/>
<circle cx="377.20" cy="303.61" r="1.9" fill="none" stroke="#ff0000" stroke-width="1.15"/>
<circle cx="378.00" cy="303.15" r="1.9" fill="none" stroke="#ff0000" stroke-width="1.15"/>
<circle cx="378.80" cy="304.27" r="1.9" fill="none" stroke="#ff0000" stroke-width="1.15"/>
<circle cx="379.60" cy="303.13" r="1.9" fill="none" stroke="#ff0000" stroke-width="1.15"/>
<circle cx="380.40" cy="304.11" r="1.9" fill="none" stroke="#ff0000" stroke-width="1.15"/>
<circle cx="381.20" cy="304.01" r="1.9" fill="none" stroke="#ff0000" stroke-width="1.15"/>
<circle cx="382.00" cy="302.96" r="1.9" fill="none" stroke="#ff0000" stroke-width="1.15"/>
<circle cx="382.80" cy="301.60" r="1.9" fill="none" stroke="#ff0000" stroke-width="1.15"/>
<circle cx="383.60" cy="303.94" r="1.9" fill="none" stroke="#ff0000" stroke-width="1.15"/>
<circle cx="384.40" cy="301.71" r="1.9" fill="none" stroke="#ff0000" stroke-width="1.15"/>
<circle cx="385.20" cy="302.91" r="1.9" fill="none" stroke="#ff0000" stroke-width="1.15"/>
<circle cx="386.00" cy="301.82" r="1.9" fill="none" stroke="#ff0000" stroke-width="1.15"/>
<circle cx="386.80" cy="302.25" r="1.9" fill="none" stroke="#ff0000" stroke-width="1.15"/>
<circle cx="387.60" cy="301.04" r="1.9" fill="none" stroke="#ff0000" stroke-width="1.15"/>
<circle cx="388.40" cy="301.25" r="1.9" fill="none" stroke="#ff0000" stroke-width="1.15"/>
<circle cx="389.20" cy="302.38" r="1.9" fill="none" stroke="#ff0000" stroke-width="1.15"/>
<circle cx="390.00" cy="301.75" r="1.9" fill="none" stroke="#ff0000" stroke-width="1.15"/>
<circle cx="390.80" cy="302.43" r="1.9" fill="none" stroke="#ff0000" stroke-width="1.15"/>
<circle cx="391.60" cy="301.55" r="1.9" fill="none" stroke="#ff0000" stroke-width="1.15"/>
<circle cx="392.40" cy="301.15" r="1.9" fill="none" stroke="#ff0000" stroke-width="1.15"/>
<circle cx="393.20" cy="300.85" r="1.9" fill="none" stroke="#ff0000" stroke-width="1.15"/>
<circle cx="394.00" cy="300.75" r="1.9" fill="none" stroke="#ff0000" stroke-width="1.15"/>
<circle cx="394.80" cy="301.12" r="1.9" fill="none" stroke="#ff0000" stroke-width="1.15"/>
<circle cx="395.60" cy="301.54" r="1.9" fill="none" stroke="#ff0000" stroke-width="1.15"/>
<circle cx="396.40" cy="300.46" r="1.9" fill="none" stroke="#ff0000" stroke-width="1.15"/>
<circle cx="397.20" cy="300.98" r="1.9" fill="none" stroke="#ff0000" stroke-width="1.15"/>
<circle cx="398.00" cy="299.09" r="1.9" fill="none" stroke="#ff0000" stroke-width="1.15"/>
<circle cx="398.80" cy="298.81" r="1.9" fill="none" stroke="#ff0000" stroke-width="1.15"/>
<circle cx="399.60" cy="298.66" r="1.9" fill="none" stroke="#ff0000" stroke-width="1.15"/>
<circle cx="400.40" cy="300.24" r="1.9" fill="none" stroke="#ff0000" stroke-width="1.15"/>
<circle cx="401.20" cy="298.65" r="1.9" fill="none" stroke="#ff0000" stroke-width="1.15"/>
<circle cx="402.00" cy="299.78" r="1.9" fill="none" stroke="#ff0000" stroke-width="1.15"/>
<circle cx="402.80" cy="300.24" r="1.9" fill="none" stroke="#ff0000" stroke-width="1.15"/>
<circle cx="403.60" cy="298.57" r="1.9" fill="none" stroke="#ff0000" stroke-width="1.15"/>
<circle cx="404.40" cy="298.92" r="1.9" fill="none" stroke="#ff0000" stroke-width="1.15"/>
<circle cx="405.20" cy="300.26" r="1.9" fill="none" stroke="#ff0000" stroke-width="1.15"/>
<circle cx="406.00" cy="298.19" r="1.9" fill="none" stroke="#ff0000" stroke-width="1.15"/>
<circle cx="406.80" cy="298.96" r="1.9" fill="none" stroke="#ff0000" stroke-width="1.15"/>
<circle cx="407.60" cy="298.11" r="1.9" fill="none" stroke="#ff0000" stroke-width="1.15"/>
<circle cx="408.40" cy="298.63" r="1.9" fill="none" stroke="#ff0000" stroke-width="1.15"/>
<circle cx="409.20" cy="297.24" r="1.9" fill="none" stroke="#ff0000" stroke-width="1.15"/>
<circle cx="410.00" cy="298.90" r="1.9" fill="none" stroke="#ff0000" stroke-width="1.15"/>
<circle cx="410.80" cy="297.52" r="1.9" fill="none" stroke="#ff0000" stroke-width="1.15"/>
<circle cx="411.60" cy="299.23" r="1.9" fill="none" stroke="#ff0000" stroke-width="1.15"/>
<circle cx="412.40" cy="297.56" r="1.9" fill="none" stroke="#ff0000" stroke-width="1.15"/>
<circle cx="413.20" cy="297.37" r="1.9" fill="none" stroke="#ff0000" stroke-width="1.15"/>
<circle cx="414.00" cy="297.89" r="1.9" fill="none" stroke="#ff0000" stroke-width="1.15"/>
<circle cx="414.80" cy="298.22" r="1.9" fill="none" stroke="#ff0000" stroke-width="1.15"/>
<circle cx="415.60" cy="299.14" r="1.9" fill="none" stroke="#ff0000" stroke-width="1.15"/>
<circle cx="416.40" cy="297.50" r="1.9" fill="none" stroke="#ff0000" stroke-width="1.15"/>
<circle cx="417.20" cy="298.48" r="1.9" fill="none" stroke="#ff0000" stroke-width="1.15"/>
<circle cx="418.00" cy="297.29" r="1.9" fill="none" stroke="#ff0000" stroke-width="1.15"/>
<circle cx="418.80" cy="298.70" r="1.9" fill="none" stroke="#ff0000" stroke-width="1.15"/>
<circle cx="419.60" cy="297.19" r="1.9" fill="none" stroke="#ff0000" stroke-width="1.15"/>
<circle cx="420.40" cy="298.52" r="1.9" fill="none" stroke="#ff0000" stroke-width="1.15"/>
<circle cx="421.20" cy="297.20" r="1.9" fill="none" stroke="#ff0000" stroke-width="1.15"/>
<circle cx="422.00" cy="297.15" r="1.9" fill="none" stroke="#ff0000" stroke-width="1.15"/>
<circle cx="422.80" cy="298.08" r="1.9" fill="none" stroke="#ff0000" stroke-width="1.15"/>
<circle cx="423.60" cy="298.31" r="1.9" fill="none" stroke="#ff0000" stroke-width="1.15"/>
<circle cx="424.40" cy="297.63" r="1.9" fill="none" stroke="#ff0000" stroke-width="1.15"/>
<circle cx="425.20" cy="298.25" r="1.9" fill="none" stroke="#ff0000" stroke-width="1.15"/>
<circle cx="426.00" cy="297.24" r="1.9" fill="none" stroke="#ff0000" stroke-width="1.15"/>
<circle cx="426.80" cy="297.10" r="1.9" fill="none" stroke="#ff0000" stroke-width="1.15"/>
<circle cx="427.60" cy="297.72" r="1.9" fill="none" stroke="#ff0000" stroke-width="1.15"/>
<circle cx="428.40" cy="298.79" r="1.9" fill="none" stroke="#ff0000" stroke-width="1.15"/>
<circle cx="429.20" cy="298.17" r="1.9" fill="none" stroke="#ff0000" stroke-width="1.15"/>
<circle cx="430.00" cy="296.24" r="1.9" fill="none" stroke="#ff0000" stroke-width="1.15"/>
<circle cx="430.80" cy="297.00" r="1.9" fill="none" stroke="#ff0000" stroke-width="1.15"/>
<circle cx="431.60" cy="298.28" r="1.9" fill="none" stroke="#ff0000" stroke-width="1.15"/>
<circle cx="432.40" cy="298.09" r="1.9" fill="none" stroke="#ff0000" stroke-width="1.15"/>
<circle cx="433.20" cy="297.21" r="1.9" fill="none" stroke="#ff0000" stroke-width="1.15"/>
<circle cx="434.00" cy="297.98" r="1.9" fill="none" stroke="#ff0000" stroke-width="1.15"/>
<circle cx="434.80" cy="298.95" r="1.9" fill="none" stroke="#ff0000" stroke-width="1.15"/>
<circle cx="435.60" cy="298.16" r="1.9" fill="none" stroke="#ff0000" stroke-width="1.15"/>
<circle cx="436.40" cy="299.30" r="1.9" fill="none" stroke="#ff0000" stroke-width="1.15"/>
<circle cx="437.20" cy="298.93" r="1.9" fill="none" stroke="#ff0000" stroke-width="1.15"/>
<circle cx="438.00" cy="298.46" r="1.9" fill="none" stroke="#ff0000" stroke-width="1.15"/>
<circle cx="438.80" cy="297.76" r="1.9" fill="none" stroke="#ff0000" stroke-width="1.15"/>
<circle cx="439.60" cy="297.24" r="1.9" fill="none" stroke="#ff0000" stroke-width="1.15"/>
<circle cx="440.40" cy="298.70" r="1.9" fill="none" stroke="#ff0000" stroke-width="1.15"/>
<circle cx="441.20" cy="297.31" r="1.9" fill="none" stroke="#ff0000" stroke-width="1.15"/>
<circle cx="442.00" cy="298.94" r="1.9" fill="none" stroke="#ff0000" stroke-width="1.15"/>
<circle cx="442.80" cy="298.52" r="1.9" fill="none" stroke="#ff0000" stroke-width="1.15"/>
<circle cx="443.60" cy="297.49" r="1.9" fill="none" stroke="#ff0000" stroke-width="1.15"/>
<circle cx="444.40" cy="298.01" r="1.9" fill="none" stroke="#ff0000" stroke-width="1.15"/>
<circle cx="445.20" cy="297.98" r="1.9" fill="none" stroke="#ff0000" stroke-width="1.15"/>
<circle cx="446.00" cy="299.21" r="1.9" fill="none" stroke="#ff0000" stroke-width="1.15"/>
<circle cx="446.80" cy="298.21" r="1.9" fill="none" stroke="#ff0000" stroke-width="1.15"/>
<circle cx="447.60" cy="299.21" r="1.9" fill="none" stroke="#ff0000" stroke-width="1.15"/>
<circle cx="448.40" cy="296.95" r="1.9" fill="none" stroke="#ff0000" stroke-width="1.15"/>
<circle cx="449.20" cy="298.03" r="1.9" fill="none" stroke="#ff0000" stroke-width="1.15"/>
<circle cx="450.00" cy="297.37" r="1.9" fill="none" stroke="#ff0000" stroke-width="1.15"/>
<circle cx="450.80" cy="296.90" r="1.9" fill="none" stroke="#ff0000" stroke-width="1.15"/>
<circle cx="451.60" cy="297.10" r="1.9" fill="none" stroke="#ff0000" stroke-width="1.15"/>
<circle cx="452.40" cy="296.47" r="1.9" fill="none" stroke="#ff0000" stroke-width="1.15"/>
<circle cx="453.20" cy="297.43" r="1.9" fill="none" stroke="#ff0000" stroke-width="1.15"/>
<circle cx="454.00" cy="298.14" r="1.9" fill="none" stroke="#ff0000" stroke-width="1.15"/>
<circle cx="454.80" cy="298.45" r="1.9" fill="none" stroke="#ff0000" stroke-width="1.15"/>
<circle cx="455.60" cy="298.98" r="1.9" fill="none" stroke="#ff0000" stroke-width="1.15"/>
<circle cx="456.40" cy="297.65" r="1.9" fill="none" stroke="#ff0000" stroke-width="1.15"/>
<circle cx="457.20" cy="297.22" r="1.9" fill="none" stroke="#ff0000" stroke-width="1.15"/>
<circle cx="458.00" cy="299.59" r="1.9" fill="none" stroke="#ff0000" stroke-width="1.15"/>
<circle cx="458.80" cy="299.00" r="1.9" fill="none" stroke="#ff0000" stroke-width="1.15"/>
<circle cx="459.60" cy="298.61" r="1.9" fill="none" stroke="#ff0000" stroke-width="1.15"/>
<circle cx="460.40" cy="297.18" r="1.9" fill="none" stroke="#ff0000" stroke-width="1.15"/>
<circle cx="461.20" cy="298.06" r="1.9" fill="none" stroke="#ff0000" stroke-width="1.15"/>
<circle cx="462.00" cy="298.77" r="1.9" fill="none" stroke="#ff0000" stroke-width="1.15"/>
<circle cx="462.80" cy="298.24" r="1.9" fill="none" stroke="#ff0000" stroke-width="1.15"/>
<circle cx="463.60" cy="298.48" r="1.9" fill="none" stroke="#ff0000" stroke-width="1.15"/>
<circle cx="464.40" cy="295.42" r="1.9" fill="none" stroke="#ff0000" stroke-width="1.15"/>
<circle cx="465.20" cy="297.70" r="1.9" fill="none" stroke="#ff0000" stroke-width="1.15"/>
<circle cx="466.00" cy="298.83" r="1.9" fill="none" stroke="#ff0000" stroke-width="1.15"/>
<circle cx="466.80" cy="298.33" r="1.9" fill="none" stroke="#ff0000" stroke-width="1.15"/>
<circle cx="467.60" cy="298.46" r="1.9" fill="none" stroke="#ff0000" stroke-width="1.15"/>
<circle cx="468.40" cy="296.83" r="1.9" fill="none" stroke="#ff0000" stroke-width="1.15"/>
<circle cx="469.20" cy="298.61" r="1.9" fill="none" stroke="#ff0000" stroke-width="1.15"/>
<circle cx="470.00" cy="298.10" r="1.9" fill="none" stroke="#ff0000" stroke-width="1.15"/>
<circle cx="470.80" cy="296.97" r="1.9" fill="none" stroke="#ff0000" stroke-width="1.15"/>
<circle cx="471.60" cy="297.41" r="1.9" fill="none" stroke="#ff0000" stroke-width="1.15"/>
<circle cx="472.40" cy="297.44" r="1.9" fill="none" stroke="#ff0000" stroke-width="1.15"/>
<circle cx="473.20" cy="297.29" r="1.9" fill="none" stroke="#ff0000" stroke-width="1.15"/>
<circle cx="474.00" cy="299.14" r="1.9" fill="none" stroke="#ff0000" stroke-width="1.15"/>
<circle cx="474.80" cy="297.71" r="1.9" fill="none" stroke="#ff0000" stroke-width="1.15"/>
<circle cx="475.60" cy="298.43" r="1.9" fill="none" stroke="#ff0000" stroke-width="1.15"/>
<circle cx="476.40" cy="298.27" r="1.9" fill="none" stroke="#ff0000" stroke-width="1.15"/>
<circle cx="477.20" cy="296.97" r="1.9" fill="none" stroke="#ff0000" stroke-width="1.15"/>
<circle cx="478.00" cy="297.39" r="1.9" fill="none" stroke="#ff0000" stroke-width="1.15"/>
<circle cx="478.80" cy="297.51" r="1.9" fill="none" stroke="#ff0000" stroke-width="1.15"/>
<circle cx="479.60" cy="296.81" r="1.9" fill="none" stroke="#ff0000" stroke-width="1.15"/>
<circle cx="480.40" cy="297.42" r="1.9" fill="none" stroke="#ff0000" stroke-width="1.15"/>
<circle cx="481.20" cy="298.43" r="1.9" fill="none" stroke="#ff0000" stroke-width="1.15"/>
<circle cx="482.00" cy="297.47" r="1.9" fill="none" stroke="#ff0000" stroke-width="1.15"/>
<circle cx="482.80" cy="297.88" r="1.9" fill="none" stroke="#ff0000" stroke-width="1.15"/>
<circle cx="483.60" cy="297.05" r="1.9" fill="none" stroke="#ff0000" stroke-width="1.15"/>
<circle cx="484.40" cy="297.24" r="1.9" fill="none" stroke="#ff0000" stroke-width="1.15"/>
<circle cx="485.20" cy="297.26" r="1.9" fill="none" stroke="#ff0000" stroke-width="1.15"/>
<circle cx="486.00" cy="298.72" r="1.9" fill="none" stroke="#ff0000" stroke-width="1.15"/>
<circle cx="486.80" cy="297.83" r="1.9" fill="none" stroke="#ff0000" stroke-width="1.15"/>
<circle cx="487.60" cy="297.25" r="1.9" fill="none" stroke="#ff0000" stroke-width="1.15"/>
<circle cx="488.40" cy="297.25" r="1.9" fill="none" stroke="#ff0000" stroke-width="1.15"/>
<circle cx="489.20" cy="297.08" r="1.9" fill="none" stroke="#ff0000" stroke-width="1.15"/>
<circle cx="490.00" cy="299.02" r="1.9" fill="none" stroke="#ff0000" stroke-width="1.15"/>
<circle cx="490.80" cy="298.70" r="1.9" fill="none" stroke="#ff0000" stroke-width="1.15"/>
<circle cx="491.60" cy="298.86" r="1.9" fill="none" stroke="#ff0000" stroke-width="1.15"/>
<circle cx="492.40" cy="297.28" r="1.9" fill="none" stroke="#ff0000" stroke-width="1.15"/>
<circle cx="493.20" cy="294.55" r="1.9" fill="none" stroke="#ff0000" stroke-width="1.15"/>
<circle cx="494.00" cy="297.90" r="1.9" fill="none" stroke="#ff0000" stroke-width="1.15"/>
<circle cx="494.80" cy="297.45" r="1.9" fill="none" stroke="#ff0000" stroke-width="1.15"/>
<circle cx="495.60" cy="297.54" r="1.9" fill="none" stroke="#ff0000" stroke-width="1.15"/>
<circle cx="496.40" cy="298.94" r="1.9" fill="none" stroke="#ff0000" stroke-width="1.15"/>
<circle cx="497.20" cy="298.73" r="1.9" fill="none" stroke="#ff0000" stroke-width="1.15"/>
<circle cx="498.00" cy="298.93" r="1.9" fill="none" stroke="#ff0000" stroke-width="1.15"/>
<circle cx="498.80" cy="298.87" r="1.9" fill="none" stroke="#ff0000" stroke-width="1.15"/>
<circle cx="499.60" cy="297.60" r="1.9" fill="none" stroke="#ff0000" stroke-width="1.15"/>
<circle cx="500.40" cy="299.10" r="1.9" fill="none" stroke="#ff0000" stroke-width="1.15"/>
<circle cx="501.20" cy="297.56" r="1.9" fill="none" stroke="#ff0000" stroke-width="1.15"/>
<circle cx="502.00" cy="295.09" r="1.9" fill="none" stroke="#ff0000" stroke-width="1.15"/>
<circle cx="502.80" cy="298.69" r="1.9" fill="none" stroke="#ff0000" stroke-width="1.15"/>
<circle cx="503.60" cy="298.93" r="1.9" fill="none" stroke="#ff0000" stroke-width="1.15"/>
<circle cx="504.40" cy="297.32" r="1.9" fill="none" stroke="#ff0000" stroke-width="1.15"/>
<circle cx="505.20" cy="297.14" r="1.9" fill="none" stroke="#ff0000" stroke-width="1.15"/>
<circle cx="506.00" cy="298.97" r="1.9" fill="none" stroke="#ff0000" stroke-width="1.15"/>
<circle cx="506.80" cy="298.62" r="1.9" fill="none" stroke="#ff0000" stroke-width="1.15"/>
<circle cx="507.60" cy="298.86" r="1.9" fill="none" stroke="#ff0000" stroke-width="1.15"/>
<circle cx="508.40" cy="297.99" r="1.9" fill="none" stroke="#ff0000" stroke-width="1.15"/>
<circle cx="509.20" cy="296.79" r="1.9" fill="none" stroke="#ff0000" stroke-width="1.15"/>
<circle cx="510.00" cy="297.75" r="1.9" fill="none" stroke="#ff0000" stroke-width="1.15"/>
<circle cx="510.80" cy="298.21" r="1.9" fill="none" stroke="#ff0000" stroke-width="1.15"/>
<circle cx="511.60" cy="296.78" r="1.9" fill="none" stroke="#ff0000" stroke-width="1.15"/>
<circle cx="512.40" cy="296.96" r="1.9" fill="none" stroke="#ff0000" stroke-width="1.15"/>
<circle cx="513.20" cy="297.48" r="1.9" fill="none" stroke="#ff0000" stroke-width="1.15"/>
<circle cx="514.00" cy="298.42" r="1.9" fill="none" stroke="#ff0000" stroke-width="1.15"/>
<circle cx="514.80" cy="297.27" r="1.9" fill="none" stroke="#ff0000" stroke-width="1.15"/>
<circle cx="515.60" cy="297.36" r="1.9" fill="none" stroke="#ff0000" stroke-width="1.15"/>
<circle cx="516.40" cy="297.59" r="1.9" fill="none" stroke="#ff0000" stroke-width="1.15"/>
<circle cx="517.20" cy="297.02" r="1.9" fill="none" stroke="#ff0000" stroke-width="1.15"/>
<circle cx="518.00" cy="298.81" r="1.9" fill="none" stroke="#ff0000" stroke-width="1.15"/>
<circle cx="518.80" cy="297.16" r="1.9" fill="none" stroke="#ff0000" stroke-width="1.15"/>
<circle cx="519.60" cy="299.02" r="1.9" fill="none" stroke="#ff0000" stroke-width="1.15"/>
<circle cx="520.40" cy="296.96" r="1.9" fill="none" stroke="#ff0000" stroke-width="1.15"/>
<circle cx="521.20" cy="296.84" r="1.9" fill="none" stroke="#ff0000" stroke-width="1.15"/>
<circle cx="522.00" cy="296.84" r="1.9" fill="none" stroke="#ff0000" stroke-width="1.15"/>
<circle cx="522.80" cy="297.24" r="1.9" fill="none" stroke="#ff0000" stroke-width="1.15"/>
<circle cx="523.60" cy="298.74" r="1.9" fill="none" stroke="#ff0000" stroke-width="1.15"/>
<circle cx="524.40" cy="297.60" r="1.9" fill="none" stroke="#ff0000" stroke-width="1.15"/>
<circle cx="525.20" cy="297.86" r="1.9" fill="none" stroke="#ff0000" stroke-width="1.15"/>
<circle cx="526.00" cy="297.42" r="1.9" fill="none" stroke="#ff0000" stroke-width="1.15"/>
<circle cx="526.80" cy="297.27" r="1.9" fill="none" stroke="#ff0000" stroke-width="1.15"/>
<circle cx="361.2" cy="307.2" r="1.9" fill="none" stroke="#ff0000" stroke-width="1.5"/>
<circle cx="359.00" cy="368.38" r="1.9" fill="#ff9aa4" stroke="#ff0000" stroke-width="1.1"/>
<circle cx="359.70" cy="368.59" r="1.9" fill="#ff9aa4" stroke="#ff0000" stroke-width="1.1"/>
<circle cx="360.40" cy="368.66" r="1.9" fill="#ff9aa4" stroke="#ff0000" stroke-width="1.1"/>
<circle cx="361.10" cy="368.79" r="1.9" fill="#ff9aa4" stroke="#ff0000" stroke-width="1.1"/>
<circle cx="361.80" cy="368.40" r="1.9" fill="#ff9aa4" stroke="#ff0000" stroke-width="1.1"/>
<circle cx="362.50" cy="368.42" r="1.9" fill="#ff9aa4" stroke="#ff0000" stroke-width="1.1"/>
<circle cx="363.20" cy="368.40" r="1.9" fill="#ff9aa4" stroke="#ff0000" stroke-width="1.1"/>
<circle cx="363.90" cy="368.48" r="1.9" fill="#ff9aa4" stroke="#ff0000" stroke-width="1.1"/>
<circle cx="364.60" cy="368.50" r="1.9" fill="#ff9aa4" stroke="#ff0000" stroke-width="1.1"/>
<circle cx="365.30" cy="368.80" r="1.9" fill="#ff9aa4" stroke="#ff0000" stroke-width="1.1"/>
<circle cx="366.00" cy="368.73" r="1.9" fill="#ff9aa4" stroke="#ff0000" stroke-width="1.1"/>
<circle cx="366.70" cy="368.73" r="1.9" fill="#ff9aa4" stroke="#ff0000" stroke-width="1.1"/>
<circle cx="367.40" cy="368.22" r="1.9" fill="#ff9aa4" stroke="#ff0000" stroke-width="1.1"/>
<circle cx="368.10" cy="368.21" r="1.9" fill="#ff9aa4" stroke="#ff0000" stroke-width="1.1"/>
<circle cx="368.80" cy="368.61" r="1.9" fill="#ff9aa4" stroke="#ff0000" stroke-width="1.1"/>
<circle cx="369.50" cy="368.72" r="1.9" fill="#ff9aa4" stroke="#ff0000" stroke-width="1.1"/>
<circle cx="370.20" cy="368.45" r="1.9" fill="#ff9aa4" stroke="#ff0000" stroke-width="1.1"/>
<circle cx="370.90" cy="368.51" r="1.9" fill="#ff9aa4" stroke="#ff0000" stroke-width="1.1"/>
<circle cx="371.60" cy="368.15" r="1.9" fill="#ff9aa4" stroke="#ff0000" stroke-width="1.1"/>
<circle cx="372.30" cy="368.38" r="1.9" fill="#ff9aa4" stroke="#ff0000" stroke-width="1.1"/>
<circle cx="373.00" cy="368.69" r="1.9" fill="#ff9aa4" stroke="#ff0000" stroke-width="1.1"/>
<circle cx="373.70" cy="368.63" r="1.9" fill="#ff9aa4" stroke="#ff0000" stroke-width="1.1"/>
<circle cx="374.40" cy="368.64" r="1.9" fill="#ff9aa4" stroke="#ff0000" stroke-width="1.1"/>
<circle cx="375.10" cy="368.70" r="1.9" fill="#ff9aa4" stroke="#ff0000" stroke-width="1.1"/>
<circle cx="375.80" cy="368.25" r="1.9" fill="#ff9aa4" stroke="#ff0000" stroke-width="1.1"/>
<circle cx="376.50" cy="368.16" r="1.9" fill="#ff9aa4" stroke="#ff0000" stroke-width="1.1"/>
<circle cx="377.20" cy="368.18" r="1.9" fill="#ff9aa4" stroke="#ff0000" stroke-width="1.1"/>
<circle cx="377.90" cy="368.39" r="1.9" fill="#ff9aa4" stroke="#ff0000" stroke-width="1.1"/>
<circle cx="378.60" cy="368.48" r="1.9" fill="#ff9aa4" stroke="#ff0000" stroke-width="1.1"/>
<circle cx="379.30" cy="368.63" r="1.9" fill="#ff9aa4" stroke="#ff0000" stroke-width="1.1"/>
<circle cx="380.00" cy="368.49" r="1.9" fill="#ff9aa4" stroke="#ff0000" stroke-width="1.1"/>
<circle cx="380.70" cy="368.44" r="1.9" fill="#ff9aa4" stroke="#ff0000" stroke-width="1.1"/>
<circle cx="381.40" cy="368.50" r="1.9" fill="#ff9aa4" stroke="#ff0000" stroke-width="1.1"/>
<circle cx="382.10" cy="368.31" r="1.9" fill="#ff9aa4" stroke="#ff0000" stroke-width="1.1"/>
<circle cx="382.80" cy="368.36" r="1.9" fill="#ff9aa4" stroke="#ff0000" stroke-width="1.1"/>
<circle cx="383.50" cy="368.04" r="1.9" fill="#ff9aa4" stroke="#ff0000" stroke-width="1.1"/>
<circle cx="384.20" cy="368.48" r="1.9" fill="#ff9aa4" stroke="#ff0000" stroke-width="1.1"/>
<circle cx="384.90" cy="368.14" r="1.9" fill="#ff9aa4" stroke="#ff0000" stroke-width="1.1"/>
<circle cx="385.60" cy="368.54" r="1.9" fill="#ff9aa4" stroke="#ff0000" stroke-width="1.1"/>
<circle cx="386.30" cy="368.37" r="1.9" fill="#ff9aa4" stroke="#ff0000" stroke-width="1.1"/>
<circle cx="387.00" cy="368.16" r="1.9" fill="#ff9aa4" stroke="#ff0000" stroke-width="1.1"/>
<circle cx="387.70" cy="368.04" r="1.9" fill="#ff9aa4" stroke="#ff0000" stroke-width="1.1"/>
<circle cx="388.40" cy="368.11" r="1.9" fill="#ff9aa4" stroke="#ff0000" stroke-width="1.1"/>
<circle cx="389.10" cy="368.33" r="1.9" fill="#ff9aa4" stroke="#ff0000" stroke-width="1.1"/>
<circle cx="389.80" cy="368.36" r="1.9" fill="#ff9aa4" stroke="#ff0000" stroke-width="1.1"/>
<circle cx="390.50" cy="368.00" r="1.9" fill="#ff9aa4" stroke="#ff0000" stroke-width="1.1"/>
<circle cx="391.20" cy="367.97" r="1.9" fill="#ff9aa4" stroke="#ff0000" stroke-width="1.1"/>
<circle cx="391.90" cy="368.23" r="1.9" fill="#ff9aa4" stroke="#ff0000" stroke-width="1.1"/>
<circle cx="392.60" cy="368.26" r="1.9" fill="#ff9aa4" stroke="#ff0000" stroke-width="1.1"/>
<circle cx="393.30" cy="368.14" r="1.9" fill="#ff9aa4" stroke="#ff0000" stroke-width="1.1"/>
<circle cx="394.00" cy="368.03" r="1.9" fill="#ff9aa4" stroke="#ff0000" stroke-width="1.1"/>
<circle cx="394.70" cy="368.25" r="1.9" fill="#ff9aa4" stroke="#ff0000" stroke-width="1.1"/>
<circle cx="395.40" cy="367.89" r="1.9" fill="#ff9aa4" stroke="#ff0000" stroke-width="1.1"/>
<circle cx="396.10" cy="368.05" r="1.9" fill="#ff9aa4" stroke="#ff0000" stroke-width="1.1"/>
<circle cx="396.80" cy="368.14" r="1.9" fill="#ff9aa4" stroke="#ff0000" stroke-width="1.1"/>
<circle cx="397.50" cy="368.43" r="1.9" fill="#ff9aa4" stroke="#ff0000" stroke-width="1.1"/>
<circle cx="398.20" cy="368.23" r="1.9" fill="#ff9aa4" stroke="#ff0000" stroke-width="1.1"/>
<circle cx="398.90" cy="368.37" r="1.9" fill="#ff9aa4" stroke="#ff0000" stroke-width="1.1"/>
<circle cx="399.60" cy="368.12" r="1.9" fill="#ff9aa4" stroke="#ff0000" stroke-width="1.1"/>
<circle cx="400.30" cy="367.96" r="1.9" fill="#ff9aa4" stroke="#ff0000" stroke-width="1.1"/>
<circle cx="401.00" cy="367.96" r="1.9" fill="#ff9aa4" stroke="#ff0000" stroke-width="1.1"/>
<circle cx="401.70" cy="368.38" r="1.9" fill="#ff9aa4" stroke="#ff0000" stroke-width="1.1"/>
<circle cx="402.40" cy="368.22" r="1.9" fill="#ff9aa4" stroke="#ff0000" stroke-width="1.1"/>
<circle cx="403.10" cy="367.97" r="1.9" fill="#ff9aa4" stroke="#ff0000" stroke-width="1.1"/>
<circle cx="403.80" cy="367.79" r="1.9" fill="#ff9aa4" stroke="#ff0000" stroke-width="1.1"/>
<circle cx="404.50" cy="368.07" r="1.9" fill="#ff9aa4" stroke="#ff0000" stroke-width="1.1"/>
<circle cx="405.20" cy="368.17" r="1.9" fill="#ff9aa4" stroke="#ff0000" stroke-width="1.1"/>
<circle cx="405.90" cy="368.01" r="1.9" fill="#ff9aa4" stroke="#ff0000" stroke-width="1.1"/>
<circle cx="406.60" cy="367.90" r="1.9" fill="#ff9aa4" stroke="#ff0000" stroke-width="1.1"/>
<circle cx="407.30" cy="368.14" r="1.9" fill="#ff9aa4" stroke="#ff0000" stroke-width="1.1"/>
<circle cx="408.00" cy="368.29" r="1.9" fill="#ff9aa4" stroke="#ff0000" stroke-width="1.1"/>
<circle cx="408.70" cy="367.86" r="1.9" fill="#ff9aa4" stroke="#ff0000" stroke-width="1.1"/>
<circle cx="409.40" cy="367.74" r="1.9" fill="#ff9aa4" stroke="#ff0000" stroke-width="1.1"/>
<circle cx="410.10" cy="367.91" r="1.9" fill="#ff9aa4" stroke="#ff0000" stroke-width="1.1"/>
<circle cx="410.80" cy="367.95" r="1.9" fill="#ff9aa4" stroke="#ff0000" stroke-width="1.1"/>
<circle cx="411.50" cy="368.10" r="1.9" fill="#ff9aa4" stroke="#ff0000" stroke-width="1.1"/>
<circle cx="412.20" cy="367.80" r="1.9" fill="#ff9aa4" stroke="#ff0000" stroke-width="1.1"/>
<circle cx="412.90" cy="368.15" r="1.9" fill="#ff9aa4" stroke="#ff0000" stroke-width="1.1"/>
<circle cx="413.60" cy="368.11" r="1.9" fill="#ff9aa4" stroke="#ff0000" stroke-width="1.1"/>
<circle cx="414.30" cy="367.96" r="1.9" fill="#ff9aa4" stroke="#ff0000" stroke-width="1.1"/>
<circle cx="415.00" cy="367.78" r="1.9" fill="#ff9aa4" stroke="#ff0000" stroke-width="1.1"/>
<circle cx="415.70" cy="368.23" r="1.9" fill="#ff9aa4" stroke="#ff0000" stroke-width="1.1"/>
<circle cx="416.40" cy="367.82" r="1.9" fill="#ff9aa4" stroke="#ff0000" stroke-width="1.1"/>
<circle cx="417.10" cy="368.12" r="1.9" fill="#ff9aa4" stroke="#ff0000" stroke-width="1.1"/>
<circle cx="417.80" cy="367.76" r="1.9" fill="#ff9aa4" stroke="#ff0000" stroke-width="1.1"/>
<circle cx="418.50" cy="367.74" r="1.9" fill="#ff9aa4" stroke="#ff0000" stroke-width="1.1"/>
<circle cx="419.20" cy="368.06" r="1.9" fill="#ff9aa4" stroke="#ff0000" stroke-width="1.1"/>
<circle cx="419.90" cy="367.77" r="1.9" fill="#ff9aa4" stroke="#ff0000" stroke-width="1.1"/>
<circle cx="420.60" cy="368.16" r="1.9" fill="#ff9aa4" stroke="#ff0000" stroke-width="1.1"/>
<circle cx="421.30" cy="367.88" r="1.9" fill="#ff9aa4" stroke="#ff0000" stroke-width="1.1"/>
<circle cx="422.00" cy="367.68" r="1.9" fill="#ff9aa4" stroke="#ff0000" stroke-width="1.1"/>
<circle cx="422.70" cy="367.70" r="1.9" fill="#ff9aa4" stroke="#ff0000" stroke-width="1.1"/>
<circle cx="423.40" cy="367.81" r="1.9" fill="#ff9aa4" stroke="#ff0000" stroke-width="1.1"/>
<circle cx="424.10" cy="367.95" r="1.9" fill="#ff9aa4" stroke="#ff0000" stroke-width="1.1"/>
<circle cx="424.80" cy="368.11" r="1.9" fill="#ff9aa4" stroke="#ff0000" stroke-width="1.1"/>
<circle cx="425.50" cy="367.62" r="1.9" fill="#ff9aa4" stroke="#ff0000" stroke-width="1.1"/>
<circle cx="426.20" cy="367.76" r="1.9" fill="#ff9aa4" stroke="#ff0000" stroke-width="1.1"/>
<circle cx="426.90" cy="367.64" r="1.9" fill="#ff9aa4" stroke="#ff0000" stroke-width="1.1"/>
<circle cx="427.60" cy="368.09" r="1.9" fill="#ff9aa4" stroke="#ff0000" stroke-width="1.1"/>
<circle cx="428.30" cy="367.58" r="1.9" fill="#ff9aa4" stroke="#ff0000" stroke-width="1.1"/>
<circle cx="429.00" cy="367.52" r="1.9" fill="#ff9aa4" stroke="#ff0000" stroke-width="1.1"/>
<circle cx="429.70" cy="367.52" r="1.9" fill="#ff9aa4" stroke="#ff0000" stroke-width="1.1"/>
<circle cx="430.40" cy="367.71" r="1.9" fill="#ff9aa4" stroke="#ff0000" stroke-width="1.1"/>
<circle cx="431.10" cy="368.00" r="1.9" fill="#ff9aa4" stroke="#ff0000" stroke-width="1.1"/>
<circle cx="431.80" cy="367.99" r="1.9" fill="#ff9aa4" stroke="#ff0000" stroke-width="1.1"/>
<circle cx="432.50" cy="367.89" r="1.9" fill="#ff9aa4" stroke="#ff0000" stroke-width="1.1"/>
<circle cx="433.20" cy="368.04" r="1.9" fill="#ff9aa4" stroke="#ff0000" stroke-width="1.1"/>
<circle cx="433.90" cy="367.99" r="1.9" fill="#ff9aa4" stroke="#ff0000" stroke-width="1.1"/>
<circle cx="434.60" cy="367.62" r="1.9" fill="#ff9aa4" stroke="#ff0000" stroke-width="1.1"/>
<circle cx="435.30" cy="367.53" r="1.9" fill="#ff9aa4" stroke="#ff0000" stroke-width="1.1"/>
<circle cx="436.00" cy="367.97" r="1.9" fill="#ff9aa4" stroke="#ff0000" stroke-width="1.1"/>
<circle cx="436.70" cy="367.85" r="1.9" fill="#ff9aa4" stroke="#ff0000" stroke-width="1.1"/>
<circle cx="437.40" cy="367.41" r="1.9" fill="#ff9aa4" stroke="#ff0000" stroke-width="1.1"/>
<circle cx="438.10" cy="367.78" r="1.9" fill="#ff9aa4" stroke="#ff0000" stroke-width="1.1"/>
<circle cx="438.80" cy="367.60" r="1.9" fill="#ff9aa4" stroke="#ff0000" stroke-width="1.1"/>
<circle cx="439.50" cy="367.59" r="1.9" fill="#ff9aa4" stroke="#ff0000" stroke-width="1.1"/>
<circle cx="440.20" cy="367.56" r="1.9" fill="#ff9aa4" stroke="#ff0000" stroke-width="1.1"/>
<circle cx="440.90" cy="367.45" r="1.9" fill="#ff9aa4" stroke="#ff0000" stroke-width="1.1"/>
<circle cx="441.60" cy="367.35" r="1.9" fill="#ff9aa4" stroke="#ff0000" stroke-width="1.1"/>
<circle cx="442.30" cy="367.50" r="1.9" fill="#ff9aa4" stroke="#ff0000" stroke-width="1.1"/>
<circle cx="443.00" cy="367.54" r="1.9" fill="#ff9aa4" stroke="#ff0000" stroke-width="1.1"/>
<circle cx="443.70" cy="367.89" r="1.9" fill="#ff9aa4" stroke="#ff0000" stroke-width="1.1"/>
<circle cx="444.40" cy="367.39" r="1.9" fill="#ff9aa4" stroke="#ff0000" stroke-width="1.1"/>
<circle cx="445.10" cy="367.88" r="1.9" fill="#ff9aa4" stroke="#ff0000" stroke-width="1.1"/>
<circle cx="445.80" cy="367.42" r="1.9" fill="#ff9aa4" stroke="#ff0000" stroke-width="1.1"/>
<circle cx="446.50" cy="367.50" r="1.9" fill="#ff9aa4" stroke="#ff0000" stroke-width="1.1"/>
<circle cx="447.20" cy="367.77" r="1.9" fill="#ff9aa4" stroke="#ff0000" stroke-width="1.1"/>
<circle cx="447.90" cy="367.76" r="1.9" fill="#ff9aa4" stroke="#ff0000" stroke-width="1.1"/>
<circle cx="448.60" cy="367.52" r="1.9" fill="#ff9aa4" stroke="#ff0000" stroke-width="1.1"/>
<circle cx="449.30" cy="367.28" r="1.9" fill="#ff9aa4" stroke="#ff0000" stroke-width="1.1"/>
<circle cx="450.00" cy="367.53" r="1.9" fill="#ff9aa4" stroke="#ff0000" stroke-width="1.1"/>
<circle cx="450.70" cy="367.46" r="1.9" fill="#ff9aa4" stroke="#ff0000" stroke-width="1.1"/>
<circle cx="451.40" cy="367.78" r="1.9" fill="#ff9aa4" stroke="#ff0000" stroke-width="1.1"/>
<circle cx="452.10" cy="367.34" r="1.9" fill="#ff9aa4" stroke="#ff0000" stroke-width="1.1"/>
<circle cx="452.80" cy="367.43" r="1.9" fill="#ff9aa4" stroke="#ff0000" stroke-width="1.1"/>
<circle cx="453.50" cy="367.74" r="1.9" fill="#ff9aa4" stroke="#ff0000" stroke-width="1.1"/>
<circle cx="454.20" cy="367.22" r="1.9" fill="#ff9aa4" stroke="#ff0000" stroke-width="1.1"/>
<circle cx="454.90" cy="367.44" r="1.9" fill="#ff9aa4" stroke="#ff0000" stroke-width="1.1"/>
<circle cx="455.60" cy="367.67" r="1.9" fill="#ff9aa4" stroke="#ff0000" stroke-width="1.1"/>
<circle cx="456.30" cy="367.63" r="1.9" fill="#ff9aa4" stroke="#ff0000" stroke-width="1.1"/>
<circle cx="457.00" cy="367.19" r="1.9" fill="#ff9aa4" stroke="#ff0000" stroke-width="1.1"/>
<circle cx="457.70" cy="367.18" r="1.9" fill="#ff9aa4" stroke="#ff0000" stroke-width="1.1"/>
<circle cx="458.40" cy="367.19" r="1.9" fill="#ff9aa4" stroke="#ff0000" stroke-width="1.1"/>
<circle cx="459.10" cy="367.69" r="1.9" fill="#ff9aa4" stroke="#ff0000" stroke-width="1.1"/>
<circle cx="459.80" cy="367.29" r="1.9" fill="#ff9aa4" stroke="#ff0000" stroke-width="1.1"/>
<circle cx="460.50" cy="367.57" r="1.9" fill="#ff9aa4" stroke="#ff0000" stroke-width="1.1"/>
<circle cx="461.20" cy="367.66" r="1.9" fill="#ff9aa4" stroke="#ff0000" stroke-width="1.1"/>
<circle cx="461.90" cy="367.31" r="1.9" fill="#ff9aa4" stroke="#ff0000" stroke-width="1.1"/>
<circle cx="462.60" cy="367.26" r="1.9" fill="#ff9aa4" stroke="#ff0000" stroke-width="1.1"/>
<circle cx="463.30" cy="367.67" r="1.9" fill="#ff9aa4" stroke="#ff0000" stroke-width="1.1"/>
<circle cx="464.00" cy="367.46" r="1.9" fill="#ff9aa4" stroke="#ff0000" stroke-width="1.1"/>
<circle cx="464.70" cy="367.23" r="1.9" fill="#ff9aa4" stroke="#ff0000" stroke-width="1.1"/>
<circle cx="465.40" cy="367.50" r="1.9" fill="#ff9aa4" stroke="#ff0000" stroke-width="1.1"/>
<circle cx="466.10" cy="367.25" r="1.9" fill="#ff9aa4" stroke="#ff0000" stroke-width="1.1"/>
<circle cx="466.80" cy="367.22" r="1.9" fill="#ff9aa4" stroke="#ff0000" stroke-width="1.1"/>
<circle cx="467.50" cy="367.05" r="1.9" fill="#ff9aa4" stroke="#ff0000" stroke-width="1.1"/>
<circle cx="468.20" cy="367.49" r="1.9" fill="#ff9aa4" stroke="#ff0000" stroke-width="1.1"/>
<circle cx="468.90" cy="367.58" r="1.9" fill="#ff9aa4" stroke="#ff0000" stroke-width="1.1"/>
<circle cx="469.60" cy="367.40" r="1.9" fill="#ff9aa4" stroke="#ff0000" stroke-width="1.1"/>
<circle cx="470.30" cy="367.58" r="1.9" fill="#ff9aa4" stroke="#ff0000" stroke-width="1.1"/>
<circle cx="471.00" cy="367.02" r="1.9" fill="#ff9aa4" stroke="#ff0000" stroke-width="1.1"/>
<circle cx="471.70" cy="367.14" r="1.9" fill="#ff9aa4" stroke="#ff0000" stroke-width="1.1"/>
<circle cx="472.40" cy="367.27" r="1.9" fill="#ff9aa4" stroke="#ff0000" stroke-width="1.1"/>
<circle cx="473.10" cy="367.55" r="1.9" fill="#ff9aa4" stroke="#ff0000" stroke-width="1.1"/>
<circle cx="473.80" cy="367.54" r="1.9" fill="#ff9aa4" stroke="#ff0000" stroke-width="1.1"/>
<circle cx="474.50" cy="367.20" r="1.9" fill="#ff9aa4" stroke="#ff0000" stroke-width="1.1"/>
<circle cx="475.20" cy="367.11" r="1.9" fill="#ff9aa4" stroke="#ff0000" stroke-width="1.1"/>
<circle cx="475.90" cy="367.21" r="1.9" fill="#ff9aa4" stroke="#ff0000" stroke-width="1.1"/>
<circle cx="476.60" cy="367.24" r="1.9" fill="#ff9aa4" stroke="#ff0000" stroke-width="1.1"/>
<circle cx="477.30" cy="367.49" r="1.9" fill="#ff9aa4" stroke="#ff0000" stroke-width="1.1"/>
<circle cx="478.00" cy="367.03" r="1.9" fill="#ff9aa4" stroke="#ff0000" stroke-width="1.1"/>
<circle cx="478.70" cy="367.40" r="1.9" fill="#ff9aa4" stroke="#ff0000" stroke-width="1.1"/>
<circle cx="479.40" cy="367.35" r="1.9" fill="#ff9aa4" stroke="#ff0000" stroke-width="1.1"/>
<circle cx="480.10" cy="367.35" r="1.9" fill="#ff9aa4" stroke="#ff0000" stroke-width="1.1"/>
<circle cx="480.80" cy="367.02" r="1.9" fill="#ff9aa4" stroke="#ff0000" stroke-width="1.1"/>
<circle cx="481.50" cy="366.63" r="1.9" fill="#ff9aa4" stroke="#ff0000" stroke-width="1.1"/>
<circle cx="482.20" cy="366.16" r="1.9" fill="#ff9aa4" stroke="#ff0000" stroke-width="1.1"/>
<circle cx="482.90" cy="365.86" r="1.9" fill="#ff9aa4" stroke="#ff0000" stroke-width="1.1"/>
<circle cx="483.60" cy="365.59" r="1.9" fill="#ff9aa4" stroke="#ff0000" stroke-width="1.1"/>
<circle cx="484.30" cy="365.02" r="1.9" fill="#ff9aa4" stroke="#ff0000" stroke-width="1.1"/>
<circle cx="485.00" cy="363.08" r="1.9" fill="#ff9aa4" stroke="#ff0000" stroke-width="1.1"/>
<circle cx="485.70" cy="361.64" r="1.9" fill="#ff9aa4" stroke="#ff0000" stroke-width="1.1"/>
<circle cx="486.40" cy="360.45" r="1.9" fill="#ff9aa4" stroke="#ff0000" stroke-width="1.1"/>
<circle cx="487.10" cy="358.58" r="1.9" fill="#ff9aa4" stroke="#ff0000" stroke-width="1.1"/>
<circle cx="487.80" cy="356.61" r="1.9" fill="#ff9aa4" stroke="#ff0000" stroke-width="1.1"/>
<circle cx="488.50" cy="354.72" r="1.9" fill="#ff9aa4" stroke="#ff0000" stroke-width="1.1"/>
<circle cx="489.20" cy="355.19" r="1.9" fill="#ff9aa4" stroke="#ff0000" stroke-width="1.1"/>
<circle cx="489.90" cy="355.21" r="1.9" fill="#ff9aa4" stroke="#ff0000" stroke-width="1.1"/>
<circle cx="490.60" cy="355.75" r="1.9" fill="#ff9aa4" stroke="#ff0000" stroke-width="1.1"/>
<circle cx="491.30" cy="355.85" r="1.9" fill="#ff9aa4" stroke="#ff0000" stroke-width="1.1"/>
<circle cx="492.00" cy="356.07" r="1.9" fill="#ff9aa4" stroke="#ff0000" stroke-width="1.1"/>
<circle cx="492.70" cy="355.79" r="1.9" fill="#ff9aa4" stroke="#ff0000" stroke-width="1.1"/>
<circle cx="493.40" cy="356.42" r="1.9" fill="#ff9aa4" stroke="#ff0000" stroke-width="1.1"/>
<circle cx="494.10" cy="357.59" r="1.9" fill="#ff9aa4" stroke="#ff0000" stroke-width="1.1"/>
<circle cx="494.80" cy="359.00" r="1.9" fill="#ff9aa4" stroke="#ff0000" stroke-width="1.1"/>
<circle cx="495.50" cy="360.29" r="1.9" fill="#ff9aa4" stroke="#ff0000" stroke-width="1.1"/>
<circle cx="496.20" cy="361.30" r="1.9" fill="#ff9aa4" stroke="#ff0000" stroke-width="1.1"/>
<circle cx="496.90" cy="360.77" r="1.9" fill="#ff9aa4" stroke="#ff0000" stroke-width="1.1"/>
<circle cx="497.60" cy="360.22" r="1.9" fill="#ff9aa4" stroke="#ff0000" stroke-width="1.1"/>
<circle cx="498.30" cy="359.68" r="1.9" fill="#ff9aa4" stroke="#ff0000" stroke-width="1.1"/>
<circle cx="499.00" cy="359.05" r="1.9" fill="#ff9aa4" stroke="#ff0000" stroke-width="1.1"/>
<circle cx="499.70" cy="358.43" r="1.9" fill="#ff9aa4" stroke="#ff0000" stroke-width="1.1"/>
<circle cx="500.40" cy="357.41" r="1.9" fill="#ff9aa4" stroke="#ff0000" stroke-width="1.1"/>
<circle cx="501.10" cy="355.90" r="1.9" fill="#ff9aa4" stroke="#ff0000" stroke-width="1.1"/>
<circle cx="501.80" cy="354.17" r="1.9" fill="#ff9aa4" stroke="#ff0000" stroke-width="1.1"/>
<circle cx="502.50" cy="353.20" r="1.9" fill="#ff9aa4" stroke="#ff0000" stroke-width="1.1"/>
<circle cx="498.39" cy="354.34" r="1.8" fill="none" stroke="#ff0000" stroke-width="1.25"/>
<circle cx="509.89" cy="347.23" r="1.8" fill="none" stroke="#ff0000" stroke-width="1.25"/>
<circle cx="495.21" cy="357.48" r="1.8" fill="none" stroke="#ff0000" stroke-width="1.25"/>
<circle cx="510.57" cy="323.30" r="1.8" fill="none" stroke="#ff0000" stroke-width="1.25"/>
<circle cx="494.27" cy="364.80" r="1.8" fill="none" stroke="#ff0000" stroke-width="1.25"/>
<circle cx="503.12" cy="362.89" r="1.8" fill="none" stroke="#ff0000" stroke-width="1.25"/>
<circle cx="498.38" cy="360.04" r="1.8" fill="none" stroke="#ff0000" stroke-width="1.25"/>
<circle cx="503.49" cy="350.50" r="1.8" fill="none" stroke="#ff0000" stroke-width="1.25"/>
<circle cx="497.36" cy="351.69" r="1.8" fill="none" stroke="#ff0000" stroke-width="1.25"/>
<circle cx="494.58" cy="356.89" r="1.8" fill="none" stroke="#ff0000" stroke-width="1.25"/>
<circle cx="502.38" cy="349.94" r="1.8" fill="none" stroke="#ff0000" stroke-width="1.25"/>
<circle cx="505.65" cy="339.74" r="1.8" fill="none" stroke="#ff0000" stroke-width="1.25"/>
<circle cx="511.45" cy="335.40" r="1.8" fill="none" stroke="#ff0000" stroke-width="1.25"/>
<circle cx="502.75" cy="337.39" r="1.8" fill="none" stroke="#ff0000" stroke-width="1.25"/>
<circle cx="499.37" cy="359.96" r="1.8" fill="none" stroke="#ff0000" stroke-width="1.25"/>
<circle cx="512.42" cy="337.69" r="1.8" fill="none" stroke="#ff0000" stroke-width="1.25"/>
<circle cx="494.44" cy="353.90" r="1.8" fill="none" stroke="#ff0000" stroke-width="1.25"/>
<circle cx="510.29" cy="340.36" r="1.8" fill="none" stroke="#ff0000" stroke-width="1.25"/>
<circle cx="508.46" cy="339.58" r="1.8" fill="none" stroke="#ff0000" stroke-width="1.25"/>
<circle cx="509.86" cy="342.01" r="1.8" fill="none" stroke="#ff0000" stroke-width="1.25"/>
<circle cx="502.41" cy="350.01" r="1.8" fill="none" stroke="#ff0000" stroke-width="1.25"/>
<circle cx="510.47" cy="325.46" r="1.8" fill="none" stroke="#ff0000" stroke-width="1.25"/>
<circle cx="504.00" cy="338.00" r="1.8" fill="none" stroke="#ff0000" stroke-width="1.25"/>
<circle cx="510.82" cy="326.34" r="1.8" fill="none" stroke="#ff0000" stroke-width="1.25"/>
<circle cx="501.04" cy="357.31" r="1.8" fill="none" stroke="#ff0000" stroke-width="1.25"/>
<circle cx="511.75" cy="330.28" r="1.8" fill="none" stroke="#ff0000" stroke-width="1.25"/>
<circle cx="492.85" cy="363.47" r="1.8" fill="none" stroke="#ff0000" stroke-width="1.25"/>
<circle cx="491.20" cy="362.71" r="1.8" fill="none" stroke="#ff0000" stroke-width="1.25"/>
<circle cx="498.73" cy="361.74" r="1.8" fill="none" stroke="#ff0000" stroke-width="1.25"/>
<circle cx="503.96" cy="358.19" r="1.8" fill="none" stroke="#ff0000" stroke-width="1.25"/>
<circle cx="493.61" cy="356.47" r="1.8" fill="none" stroke="#ff0000" stroke-width="1.25"/>
<circle cx="498.99" cy="344.55" r="1.8" fill="none" stroke="#ff0000" stroke-width="1.25"/>
<circle cx="495.56" cy="353.76" r="1.8" fill="none" stroke="#ff0000" stroke-width="1.25"/>
<circle cx="510.19" cy="323.33" r="1.8" fill="none" stroke="#ff0000" stroke-width="1.25"/>
<circle cx="502.65" cy="355.21" r="1.8" fill="none" stroke="#ff0000" stroke-width="1.25"/>
<circle cx="490.86" cy="358.80" r="1.8" fill="none" stroke="#ff0000" stroke-width="1.25"/>
<circle cx="502.38" cy="349.40" r="1.8" fill="none" stroke="#ff0000" stroke-width="1.25"/>
<circle cx="503.11" cy="340.45" r="1.8" fill="none" stroke="#ff0000" stroke-width="1.25"/>
<circle cx="504.82" cy="341.38" r="1.8" fill="none" stroke="#ff0000" stroke-width="1.25"/>
<circle cx="503.93" cy="343.28" r="1.8" fill="none" stroke="#ff0000" stroke-width="1.25"/>
<circle cx="495.29" cy="355.48" r="1.8" fill="none" stroke="#ff0000" stroke-width="1.25"/>
<circle cx="507.55" cy="341.89" r="1.8" fill="none" stroke="#ff0000" stroke-width="1.25"/>
<circle cx="499.94" cy="344.20" r="1.8" fill="none" stroke="#ff0000" stroke-width="1.25"/>
<circle cx="491.85" cy="354.14" r="1.8" fill="none" stroke="#ff0000" stroke-width="1.25"/>
<circle cx="507.50" cy="344.26" r="1.8" fill="none" stroke="#ff0000" stroke-width="1.25"/>
<circle cx="498.50" cy="363.81" r="1.8" fill="none" stroke="#ff0000" stroke-width="1.25"/>
<circle cx="493.06" cy="359.64" r="1.8" fill="none" stroke="#ff0000" stroke-width="1.25"/>
<circle cx="508.34" cy="330.12" r="1.8" fill="none" stroke="#ff0000" stroke-width="1.25"/>
<circle cx="493.72" cy="356.58" r="1.8" fill="none" stroke="#ff0000" stroke-width="1.25"/>
<circle cx="497.90" cy="355.15" r="1.8" fill="none" stroke="#ff0000" stroke-width="1.25"/>
<circle cx="493.57" cy="361.40" r="1.8" fill="none" stroke="#ff0000" stroke-width="1.25"/>
<circle cx="496.19" cy="357.80" r="1.8" fill="none" stroke="#ff0000" stroke-width="1.25"/>
<circle cx="510.70" cy="330.77" r="1.8" fill="none" stroke="#ff0000" stroke-width="1.25"/>
<circle cx="510.15" cy="329.01" r="1.8" fill="none" stroke="#ff0000" stroke-width="1.25"/>
<circle cx="507.66" cy="326.62" r="1.8" fill="none" stroke="#ff0000" stroke-width="1.25"/>
<circle cx="501.94" cy="349.82" r="1.8" fill="none" stroke="#ff0000" stroke-width="1.25"/>
<circle cx="498.10" cy="360.35" r="1.8" fill="none" stroke="#ff0000" stroke-width="1.25"/>
<circle cx="502.49" cy="347.31" r="1.8" fill="none" stroke="#ff0000" stroke-width="1.25"/>
<circle cx="509.86" cy="326.16" r="1.8" fill="none" stroke="#ff0000" stroke-width="1.25"/>
<circle cx="498.87" cy="357.00" r="1.8" fill="none" stroke="#ff0000" stroke-width="1.25"/>
<circle cx="495.96" cy="365.58" r="1.8" fill="none" stroke="#ff0000" stroke-width="1.25"/>
<circle cx="502.99" cy="337.53" r="1.8" fill="none" stroke="#ff0000" stroke-width="1.25"/>
<circle cx="507.20" cy="341.18" r="1.8" fill="none" stroke="#ff0000" stroke-width="1.25"/>
<circle cx="493.98" cy="354.59" r="1.8" fill="none" stroke="#ff0000" stroke-width="1.25"/>
<circle cx="491.09" cy="357.98" r="1.8" fill="none" stroke="#ff0000" stroke-width="1.25"/>
<circle cx="495.71" cy="349.95" r="1.8" fill="none" stroke="#ff0000" stroke-width="1.25"/>
<circle cx="504.93" cy="335.41" r="1.8" fill="none" stroke="#ff0000" stroke-width="1.25"/>
<circle cx="499.73" cy="344.31" r="1.8" fill="none" stroke="#ff0000" stroke-width="1.25"/>
<circle cx="510.15" cy="327.38" r="1.8" fill="none" stroke="#ff0000" stroke-width="1.25"/>
<circle cx="495.11" cy="350.56" r="1.8" fill="none" stroke="#ff0000" stroke-width="1.25"/>
<circle cx="518.01" cy="333.94" r="1.8" fill="none" stroke="#ff0000" stroke-width="1.25"/>
<circle cx="521.32" cy="350.43" r="1.8" fill="none" stroke="#ff0000" stroke-width="1.25"/>
<circle cx="515.78" cy="352.00" r="1.8" fill="none" stroke="#ff0000" stroke-width="1.25"/>
<circle cx="519.73" cy="329.89" r="1.8" fill="none" stroke="#ff0000" stroke-width="1.25"/>
<circle cx="522.12" cy="363.18" r="1.8" fill="none" stroke="#ff0000" stroke-width="1.25"/>
<circle cx="524.22" cy="341.97" r="1.8" fill="none" stroke="#ff0000" stroke-width="1.25"/>
<circle cx="522.22" cy="349.22" r="1.8" fill="none" stroke="#ff0000" stroke-width="1.25"/>
<circle cx="517.91" cy="352.98" r="1.8" fill="none" stroke="#ff0000" stroke-width="1.25"/>
<circle cx="519.28" cy="366.16" r="1.8" fill="none" stroke="#ff0000" stroke-width="1.25"/>
<circle cx="520.56" cy="342.15" r="1.8" fill="none" stroke="#ff0000" stroke-width="1.25"/>
<circle cx="520.84" cy="366.33" r="1.8" fill="none" stroke="#ff0000" stroke-width="1.25"/>
<circle cx="521.68" cy="346.71" r="1.8" fill="none" stroke="#ff0000" stroke-width="1.25"/>
<circle cx="522.17" cy="360.56" r="1.8" fill="none" stroke="#ff0000" stroke-width="1.25"/>
<circle cx="515.35" cy="337.78" r="1.8" fill="none" stroke="#ff0000" stroke-width="1.25"/>
<circle cx="525.78" cy="359.19" r="1.8" fill="none" stroke="#ff0000" stroke-width="1.25"/>
<circle cx="525.13" cy="357.48" r="1.8" fill="none" stroke="#ff0000" stroke-width="1.25"/>
<circle cx="519.59" cy="357.33" r="1.8" fill="none" stroke="#ff0000" stroke-width="1.25"/>
<circle cx="519.41" cy="334.01" r="1.8" fill="none" stroke="#ff0000" stroke-width="1.25"/>
<circle cx="523.74" cy="355.22" r="1.8" fill="none" stroke="#ff0000" stroke-width="1.25"/>
<circle cx="525.14" cy="355.97" r="1.8" fill="none" stroke="#ff0000" stroke-width="1.25"/>
<circle cx="516.68" cy="348.83" r="1.8" fill="none" stroke="#ff0000" stroke-width="1.25"/>
<circle cx="519.17" cy="359.44" r="1.8" fill="none" stroke="#ff0000" stroke-width="1.25"/>
<circle cx="520.44" cy="335.79" r="1.8" fill="none" stroke="#ff0000" stroke-width="1.25"/>
<circle cx="522.17" cy="367.42" r="1.8" fill="none" stroke="#ff0000" stroke-width="1.25"/>
<circle cx="515.97" cy="363.58" r="1.8" fill="none" stroke="#ff0000" stroke-width="1.25"/>
<circle cx="516.25" cy="357.42" r="1.8" fill="none" stroke="#ff0000" stroke-width="1.25"/>
<circle cx="526.59" cy="357.53" r="1.8" fill="none" stroke="#ff0000" stroke-width="1.25"/>
<circle cx="517.57" cy="363.58" r="1.8" fill="none" stroke="#ff0000" stroke-width="1.25"/>
<circle cx="517.60" cy="334.61" r="1.8" fill="none" stroke="#ff0000" stroke-width="1.25"/>
<circle cx="526.05" cy="352.31" r="1.8" fill="none" stroke="#ff0000" stroke-width="1.25"/>
<circle cx="522.92" cy="353.87" r="1.8" fill="none" stroke="#ff0000" stroke-width="1.25"/>
<circle cx="527.09" cy="345.02" r="1.8" fill="none" stroke="#ff0000" stroke-width="1.25"/>
<circle cx="525.06" cy="355.33" r="1.8" fill="none" stroke="#ff0000" stroke-width="1.25"/>
<circle cx="525.32" cy="343.56" r="1.8" fill="none" stroke="#ff0000" stroke-width="1.25"/>
<circle cx="523.38" cy="349.58" r="1.8" fill="none" stroke="#ff0000" stroke-width="1.25"/>
<circle cx="517.29" cy="333.38" r="1.8" fill="none" stroke="#ff0000" stroke-width="1.25"/>
<circle cx="526.36" cy="339.39" r="1.8" fill="none" stroke="#ff0000" stroke-width="1.25"/>
<circle cx="513.41" cy="355.11" r="1.8" fill="none" stroke="#ff0000" stroke-width="1.25"/>
<circle cx="522.05" cy="355.30" r="1.8" fill="none" stroke="#ff0000" stroke-width="1.25"/>
<circle cx="521.42" cy="340.23" r="1.8" fill="none" stroke="#ff0000" stroke-width="1.25"/>
<circle cx="524.74" cy="360.84" r="1.8" fill="none" stroke="#ff0000" stroke-width="1.25"/>
<circle cx="525.47" cy="365.13" r="1.8" fill="none" stroke="#ff0000" stroke-width="1.25"/>
<circle cx="524.66" cy="352.46" r="1.8" fill="none" stroke="#ff0000" stroke-width="1.25"/>
<circle cx="524.85" cy="352.35" r="1.8" fill="none" stroke="#ff0000" stroke-width="1.25"/>
<circle cx="514.23" cy="358.03" r="1.8" fill="none" stroke="#ff0000" stroke-width="1.25"/>
<circle cx="515.79" cy="338.23" r="1.8" fill="none" stroke="#ff0000" stroke-width="1.25"/>
<circle cx="516.55" cy="336.57" r="1.8" fill="none" stroke="#ff0000" stroke-width="1.25"/>
<circle cx="523.25" cy="340.43" r="1.8" fill="none" stroke="#ff0000" stroke-width="1.25"/>
<circle cx="517.48" cy="367.37" r="1.8" fill="none" stroke="#ff0000" stroke-width="1.25"/>
<circle cx="520.15" cy="362.28" r="1.8" fill="none" stroke="#ff0000" stroke-width="1.25"/>
<circle cx="518.83" cy="343.53" r="1.8" fill="none" stroke="#ff0000" stroke-width="1.25"/>
<circle cx="524.09" cy="339.47" r="1.8" fill="none" stroke="#ff0000" stroke-width="1.25"/>
<circle cx="523.09" cy="348.11" r="1.8" fill="none" stroke="#ff0000" stroke-width="1.25"/>
<circle cx="515.96" cy="362.77" r="1.8" fill="none" stroke="#ff0000" stroke-width="1.25"/>
<circle cx="514.13" cy="360.86" r="1.8" fill="none" stroke="#ff0000" stroke-width="1.25"/>
<circle cx="515.75" cy="358.25" r="1.8" fill="none" stroke="#ff0000" stroke-width="1.25"/>
<circle cx="519.97" cy="346.02" r="1.8" fill="none" stroke="#ff0000" stroke-width="1.25"/>
<circle cx="520.02" cy="339.49" r="1.8" fill="none" stroke="#ff0000" stroke-width="1.25"/>
<circle cx="515.93" cy="355.42" r="1.8" fill="none" stroke="#ff0000" stroke-width="1.25"/>
<circle cx="520.08" cy="328.77" r="1.8" fill="none" stroke="#ff0000" stroke-width="1.25"/>
<circle cx="524.30" cy="355.31" r="1.8" fill="none" stroke="#ff0000" stroke-width="1.25"/>
<circle cx="524.29" cy="352.18" r="1.8" fill="none" stroke="#ff0000" stroke-width="1.25"/>
<circle cx="517.99" cy="341.94" r="1.8" fill="none" stroke="#ff0000" stroke-width="1.25"/>
<circle cx="518.56" cy="364.05" r="1.8" fill="none" stroke="#ff0000" stroke-width="1.25"/>
<circle cx="514.06" cy="363.96" r="1.8" fill="none" stroke="#ff0000" stroke-width="1.25"/>
<circle cx="516.64" cy="364.53" r="1.8" fill="none" stroke="#ff0000" stroke-width="1.25"/>
<circle cx="520.12" cy="340.94" r="1.8" fill="none" stroke="#ff0000" stroke-width="1.25"/>
<circle cx="519.53" cy="347.83" r="1.8" fill="none" stroke="#ff0000" stroke-width="1.25"/>
<circle cx="523.82" cy="357.84" r="1.8" fill="none" stroke="#ff0000" stroke-width="1.25"/>
<circle cx="522.24" cy="339.55" r="1.8" fill="none" stroke="#ff0000" stroke-width="1.25"/>
<circle cx="517.57" cy="330.82" r="1.8" fill="none" stroke="#ff0000" stroke-width="1.25"/>
<circle cx="525.11" cy="353.73" r="1.8" fill="none" stroke="#ff0000" stroke-width="1.25"/>
<circle cx="519.21" cy="358.76" r="1.8" fill="none" stroke="#ff0000" stroke-width="1.25"/>
<circle cx="521.26" cy="329.50" r="1.8" fill="none" stroke="#ff0000" stroke-width="1.25"/>
<circle cx="519.55" cy="363.81" r="1.8" fill="none" stroke="#ff0000" stroke-width="1.25"/>
<circle cx="359.50" cy="344.07" r="1.9" fill="#93bf5e" stroke="#44840c" stroke-width="1.1"/>
<circle cx="360.20" cy="344.05" r="1.9" fill="#93bf5e" stroke="#44840c" stroke-width="1.1"/>
<circle cx="360.90" cy="344.10" r="1.9" fill="#93bf5e" stroke="#44840c" stroke-width="1.1"/>
<circle cx="361.60" cy="344.30" r="1.9" fill="#93bf5e" stroke="#44840c" stroke-width="1.1"/>
<circle cx="362.30" cy="344.37" r="1.9" fill="#93bf5e" stroke="#44840c" stroke-width="1.1"/>
<circle cx="363.00" cy="344.03" r="1.9" fill="#93bf5e" stroke="#44840c" stroke-width="1.1"/>
<circle cx="363.70" cy="344.03" r="1.9" fill="#93bf5e" stroke="#44840c" stroke-width="1.1"/>
<circle cx="364.40" cy="344.07" r="1.9" fill="#93bf5e" stroke="#44840c" stroke-width="1.1"/>
<circle cx="365.10" cy="344.11" r="1.9" fill="#93bf5e" stroke="#44840c" stroke-width="1.1"/>
<circle cx="365.80" cy="344.21" r="1.9" fill="#93bf5e" stroke="#44840c" stroke-width="1.1"/>
<circle cx="366.50" cy="344.03" r="1.9" fill="#93bf5e" stroke="#44840c" stroke-width="1.1"/>
<circle cx="367.20" cy="344.11" r="1.9" fill="#93bf5e" stroke="#44840c" stroke-width="1.1"/>
<circle cx="367.90" cy="344.04" r="1.9" fill="#93bf5e" stroke="#44840c" stroke-width="1.1"/>
<circle cx="368.60" cy="344.44" r="1.9" fill="#93bf5e" stroke="#44840c" stroke-width="1.1"/>
<circle cx="369.30" cy="344.31" r="1.9" fill="#93bf5e" stroke="#44840c" stroke-width="1.1"/>
<circle cx="370.00" cy="344.00" r="1.9" fill="#93bf5e" stroke="#44840c" stroke-width="1.1"/>
<circle cx="370.70" cy="344.43" r="1.9" fill="#93bf5e" stroke="#44840c" stroke-width="1.1"/>
<circle cx="371.40" cy="344.00" r="1.9" fill="#93bf5e" stroke="#44840c" stroke-width="1.1"/>
<circle cx="372.10" cy="344.14" r="1.9" fill="#93bf5e" stroke="#44840c" stroke-width="1.1"/>
<circle cx="372.80" cy="344.44" r="1.9" fill="#93bf5e" stroke="#44840c" stroke-width="1.1"/>
<circle cx="373.50" cy="344.35" r="1.9" fill="#93bf5e" stroke="#44840c" stroke-width="1.1"/>
<circle cx="374.20" cy="344.32" r="1.9" fill="#93bf5e" stroke="#44840c" stroke-width="1.1"/>
<circle cx="374.90" cy="344.17" r="1.9" fill="#93bf5e" stroke="#44840c" stroke-width="1.1"/>
<circle cx="375.60" cy="344.05" r="1.9" fill="#93bf5e" stroke="#44840c" stroke-width="1.1"/>
<circle cx="376.30" cy="344.27" r="1.9" fill="#93bf5e" stroke="#44840c" stroke-width="1.1"/>
<circle cx="377.00" cy="344.00" r="1.9" fill="#93bf5e" stroke="#44840c" stroke-width="1.1"/>
<circle cx="377.70" cy="344.05" r="1.9" fill="#93bf5e" stroke="#44840c" stroke-width="1.1"/>
<circle cx="378.40" cy="344.14" r="1.9" fill="#93bf5e" stroke="#44840c" stroke-width="1.1"/>
<circle cx="379.10" cy="343.97" r="1.9" fill="#93bf5e" stroke="#44840c" stroke-width="1.1"/>
<circle cx="379.80" cy="344.15" r="1.9" fill="#93bf5e" stroke="#44840c" stroke-width="1.1"/>
<circle cx="380.50" cy="344.35" r="1.9" fill="#93bf5e" stroke="#44840c" stroke-width="1.1"/>
<circle cx="381.20" cy="344.30" r="1.9" fill="#93bf5e" stroke="#44840c" stroke-width="1.1"/>
<circle cx="381.90" cy="344.20" r="1.9" fill="#93bf5e" stroke="#44840c" stroke-width="1.1"/>
<circle cx="382.60" cy="344.27" r="1.9" fill="#93bf5e" stroke="#44840c" stroke-width="1.1"/>
<circle cx="383.30" cy="344.18" r="1.9" fill="#93bf5e" stroke="#44840c" stroke-width="1.1"/>
<circle cx="384.00" cy="344.02" r="1.9" fill="#93bf5e" stroke="#44840c" stroke-width="1.1"/>
<circle cx="384.70" cy="344.25" r="1.9" fill="#93bf5e" stroke="#44840c" stroke-width="1.1"/>
<circle cx="385.40" cy="344.15" r="1.9" fill="#93bf5e" stroke="#44840c" stroke-width="1.1"/>
<circle cx="386.10" cy="344.32" r="1.9" fill="#93bf5e" stroke="#44840c" stroke-width="1.1"/>
<circle cx="386.80" cy="344.40" r="1.9" fill="#93bf5e" stroke="#44840c" stroke-width="1.1"/>
<circle cx="387.50" cy="344.17" r="1.9" fill="#93bf5e" stroke="#44840c" stroke-width="1.1"/>
<circle cx="388.20" cy="344.24" r="1.9" fill="#93bf5e" stroke="#44840c" stroke-width="1.1"/>
<circle cx="388.90" cy="344.32" r="1.9" fill="#93bf5e" stroke="#44840c" stroke-width="1.1"/>
<circle cx="389.60" cy="344.16" r="1.9" fill="#93bf5e" stroke="#44840c" stroke-width="1.1"/>
<circle cx="390.30" cy="344.06" r="1.9" fill="#93bf5e" stroke="#44840c" stroke-width="1.1"/>
<circle cx="391.00" cy="344.31" r="1.9" fill="#93bf5e" stroke="#44840c" stroke-width="1.1"/>
<circle cx="391.70" cy="344.39" r="1.9" fill="#93bf5e" stroke="#44840c" stroke-width="1.1"/>
<circle cx="392.40" cy="344.34" r="1.9" fill="#93bf5e" stroke="#44840c" stroke-width="1.1"/>
<circle cx="393.10" cy="344.30" r="1.9" fill="#93bf5e" stroke="#44840c" stroke-width="1.1"/>
<circle cx="393.80" cy="344.38" r="1.9" fill="#93bf5e" stroke="#44840c" stroke-width="1.1"/>
<circle cx="394.50" cy="344.29" r="1.9" fill="#93bf5e" stroke="#44840c" stroke-width="1.1"/>
<circle cx="395.20" cy="344.27" r="1.9" fill="#93bf5e" stroke="#44840c" stroke-width="1.1"/>
<circle cx="395.90" cy="344.18" r="1.9" fill="#93bf5e" stroke="#44840c" stroke-width="1.1"/>
<circle cx="396.60" cy="344.11" r="1.9" fill="#93bf5e" stroke="#44840c" stroke-width="1.1"/>
<circle cx="397.30" cy="344.26" r="1.9" fill="#93bf5e" stroke="#44840c" stroke-width="1.1"/>
<circle cx="398.00" cy="344.00" r="1.9" fill="#93bf5e" stroke="#44840c" stroke-width="1.1"/>
<circle cx="398.70" cy="344.16" r="1.9" fill="#93bf5e" stroke="#44840c" stroke-width="1.1"/>
<circle cx="399.40" cy="344.34" r="1.9" fill="#93bf5e" stroke="#44840c" stroke-width="1.1"/>
<circle cx="400.10" cy="344.31" r="1.9" fill="#93bf5e" stroke="#44840c" stroke-width="1.1"/>
<circle cx="400.80" cy="344.26" r="1.9" fill="#93bf5e" stroke="#44840c" stroke-width="1.1"/>
<circle cx="401.50" cy="344.08" r="1.9" fill="#93bf5e" stroke="#44840c" stroke-width="1.1"/>
<circle cx="402.20" cy="344.16" r="1.9" fill="#93bf5e" stroke="#44840c" stroke-width="1.1"/>
<circle cx="402.90" cy="344.18" r="1.9" fill="#93bf5e" stroke="#44840c" stroke-width="1.1"/>
<circle cx="403.60" cy="344.26" r="1.9" fill="#93bf5e" stroke="#44840c" stroke-width="1.1"/>
<circle cx="404.30" cy="344.15" r="1.9" fill="#93bf5e" stroke="#44840c" stroke-width="1.1"/>
<circle cx="405.00" cy="344.29" r="1.9" fill="#93bf5e" stroke="#44840c" stroke-width="1.1"/>
<circle cx="405.70" cy="344.42" r="1.9" fill="#93bf5e" stroke="#44840c" stroke-width="1.1"/>
<circle cx="406.40" cy="344.04" r="1.9" fill="#93bf5e" stroke="#44840c" stroke-width="1.1"/>
<circle cx="407.10" cy="344.28" r="1.9" fill="#93bf5e" stroke="#44840c" stroke-width="1.1"/>
<circle cx="407.80" cy="344.34" r="1.9" fill="#93bf5e" stroke="#44840c" stroke-width="1.1"/>
<circle cx="408.50" cy="344.14" r="1.9" fill="#93bf5e" stroke="#44840c" stroke-width="1.1"/>
<circle cx="409.20" cy="344.19" r="1.9" fill="#93bf5e" stroke="#44840c" stroke-width="1.1"/>
<circle cx="409.90" cy="344.44" r="1.9" fill="#93bf5e" stroke="#44840c" stroke-width="1.1"/>
<circle cx="410.60" cy="343.97" r="1.9" fill="#93bf5e" stroke="#44840c" stroke-width="1.1"/>
<circle cx="411.30" cy="344.22" r="1.9" fill="#93bf5e" stroke="#44840c" stroke-width="1.1"/>
<circle cx="412.00" cy="344.03" r="1.9" fill="#93bf5e" stroke="#44840c" stroke-width="1.1"/>
<circle cx="412.70" cy="344.34" r="1.9" fill="#93bf5e" stroke="#44840c" stroke-width="1.1"/>
<circle cx="413.40" cy="344.42" r="1.9" fill="#93bf5e" stroke="#44840c" stroke-width="1.1"/>
<circle cx="414.10" cy="344.21" r="1.9" fill="#93bf5e" stroke="#44840c" stroke-width="1.1"/>
<circle cx="414.80" cy="344.00" r="1.9" fill="#93bf5e" stroke="#44840c" stroke-width="1.1"/>
<circle cx="415.50" cy="344.24" r="1.9" fill="#93bf5e" stroke="#44840c" stroke-width="1.1"/>
<circle cx="416.20" cy="344.22" r="1.9" fill="#93bf5e" stroke="#44840c" stroke-width="1.1"/>
<circle cx="416.90" cy="344.31" r="1.9" fill="#93bf5e" stroke="#44840c" stroke-width="1.1"/>
<circle cx="417.60" cy="344.21" r="1.9" fill="#93bf5e" stroke="#44840c" stroke-width="1.1"/>
<circle cx="418.30" cy="344.27" r="1.9" fill="#93bf5e" stroke="#44840c" stroke-width="1.1"/>
<circle cx="419.00" cy="344.36" r="1.9" fill="#93bf5e" stroke="#44840c" stroke-width="1.1"/>
<circle cx="419.70" cy="344.21" r="1.9" fill="#93bf5e" stroke="#44840c" stroke-width="1.1"/>
<circle cx="420.40" cy="344.16" r="1.9" fill="#93bf5e" stroke="#44840c" stroke-width="1.1"/>
<circle cx="421.10" cy="344.42" r="1.9" fill="#93bf5e" stroke="#44840c" stroke-width="1.1"/>
<circle cx="421.80" cy="344.06" r="1.9" fill="#93bf5e" stroke="#44840c" stroke-width="1.1"/>
<circle cx="422.50" cy="344.29" r="1.9" fill="#93bf5e" stroke="#44840c" stroke-width="1.1"/>
<circle cx="423.20" cy="344.15" r="1.9" fill="#93bf5e" stroke="#44840c" stroke-width="1.1"/>
<circle cx="423.90" cy="344.33" r="1.9" fill="#93bf5e" stroke="#44840c" stroke-width="1.1"/>
<circle cx="424.60" cy="344.01" r="1.9" fill="#93bf5e" stroke="#44840c" stroke-width="1.1"/>
<circle cx="425.30" cy="344.44" r="1.9" fill="#93bf5e" stroke="#44840c" stroke-width="1.1"/>
<circle cx="426.00" cy="344.13" r="1.9" fill="#93bf5e" stroke="#44840c" stroke-width="1.1"/>
<circle cx="426.70" cy="343.98" r="1.9" fill="#93bf5e" stroke="#44840c" stroke-width="1.1"/>
<circle cx="427.40" cy="344.09" r="1.9" fill="#93bf5e" stroke="#44840c" stroke-width="1.1"/>
<circle cx="428.10" cy="344.15" r="1.9" fill="#93bf5e" stroke="#44840c" stroke-width="1.1"/>
<circle cx="428.80" cy="343.96" r="1.9" fill="#93bf5e" stroke="#44840c" stroke-width="1.1"/>
<circle cx="429.50" cy="344.16" r="1.9" fill="#93bf5e" stroke="#44840c" stroke-width="1.1"/>
<circle cx="430.20" cy="344.16" r="1.9" fill="#93bf5e" stroke="#44840c" stroke-width="1.1"/>
<circle cx="430.90" cy="344.30" r="1.9" fill="#93bf5e" stroke="#44840c" stroke-width="1.1"/>
<circle cx="431.60" cy="344.13" r="1.9" fill="#93bf5e" stroke="#44840c" stroke-width="1.1"/>
<circle cx="432.30" cy="344.08" r="1.9" fill="#93bf5e" stroke="#44840c" stroke-width="1.1"/>
<circle cx="433.00" cy="344.06" r="1.9" fill="#93bf5e" stroke="#44840c" stroke-width="1.1"/>
<circle cx="433.70" cy="344.32" r="1.9" fill="#93bf5e" stroke="#44840c" stroke-width="1.1"/>
<circle cx="434.40" cy="344.42" r="1.9" fill="#93bf5e" stroke="#44840c" stroke-width="1.1"/>
<circle cx="435.10" cy="344.21" r="1.9" fill="#93bf5e" stroke="#44840c" stroke-width="1.1"/>
<circle cx="435.80" cy="344.06" r="1.9" fill="#93bf5e" stroke="#44840c" stroke-width="1.1"/>
<circle cx="436.50" cy="344.35" r="1.9" fill="#93bf5e" stroke="#44840c" stroke-width="1.1"/>
<circle cx="437.20" cy="344.15" r="1.9" fill="#93bf5e" stroke="#44840c" stroke-width="1.1"/>
<circle cx="437.90" cy="344.06" r="1.9" fill="#93bf5e" stroke="#44840c" stroke-width="1.1"/>
<circle cx="438.60" cy="344.01" r="1.9" fill="#93bf5e" stroke="#44840c" stroke-width="1.1"/>
<circle cx="439.30" cy="344.34" r="1.9" fill="#93bf5e" stroke="#44840c" stroke-width="1.1"/>
<circle cx="440.00" cy="344.35" r="1.9" fill="#93bf5e" stroke="#44840c" stroke-width="1.1"/>
<circle cx="440.70" cy="344.27" r="1.9" fill="#93bf5e" stroke="#44840c" stroke-width="1.1"/>
<circle cx="441.40" cy="344.18" r="1.9" fill="#93bf5e" stroke="#44840c" stroke-width="1.1"/>
<circle cx="442.10" cy="344.23" r="1.9" fill="#93bf5e" stroke="#44840c" stroke-width="1.1"/>
<circle cx="442.80" cy="344.06" r="1.9" fill="#93bf5e" stroke="#44840c" stroke-width="1.1"/>
<circle cx="443.50" cy="344.43" r="1.9" fill="#93bf5e" stroke="#44840c" stroke-width="1.1"/>
<circle cx="444.20" cy="344.13" r="1.9" fill="#93bf5e" stroke="#44840c" stroke-width="1.1"/>
<circle cx="444.90" cy="344.27" r="1.9" fill="#93bf5e" stroke="#44840c" stroke-width="1.1"/>
<circle cx="445.60" cy="344.36" r="1.9" fill="#93bf5e" stroke="#44840c" stroke-width="1.1"/>
<circle cx="446.30" cy="344.36" r="1.9" fill="#93bf5e" stroke="#44840c" stroke-width="1.1"/>
<circle cx="447.00" cy="344.18" r="1.9" fill="#93bf5e" stroke="#44840c" stroke-width="1.1"/>
<circle cx="447.70" cy="344.10" r="1.9" fill="#93bf5e" stroke="#44840c" stroke-width="1.1"/>
<circle cx="448.40" cy="344.22" r="1.9" fill="#93bf5e" stroke="#44840c" stroke-width="1.1"/>
<circle cx="449.10" cy="344.01" r="1.9" fill="#93bf5e" stroke="#44840c" stroke-width="1.1"/>
<circle cx="449.80" cy="344.37" r="1.9" fill="#93bf5e" stroke="#44840c" stroke-width="1.1"/>
<circle cx="450.50" cy="344.13" r="1.9" fill="#93bf5e" stroke="#44840c" stroke-width="1.1"/>
<circle cx="451.20" cy="344.38" r="1.9" fill="#93bf5e" stroke="#44840c" stroke-width="1.1"/>
<circle cx="451.90" cy="344.08" r="1.9" fill="#93bf5e" stroke="#44840c" stroke-width="1.1"/>
<circle cx="452.60" cy="344.14" r="1.9" fill="#93bf5e" stroke="#44840c" stroke-width="1.1"/>
<circle cx="453.30" cy="344.08" r="1.9" fill="#93bf5e" stroke="#44840c" stroke-width="1.1"/>
<circle cx="454.00" cy="344.16" r="1.9" fill="#93bf5e" stroke="#44840c" stroke-width="1.1"/>
<circle cx="454.70" cy="344.04" r="1.9" fill="#93bf5e" stroke="#44840c" stroke-width="1.1"/>
<circle cx="455.40" cy="343.95" r="1.9" fill="#93bf5e" stroke="#44840c" stroke-width="1.1"/>
<circle cx="456.10" cy="344.31" r="1.9" fill="#93bf5e" stroke="#44840c" stroke-width="1.1"/>
<circle cx="456.80" cy="344.09" r="1.9" fill="#93bf5e" stroke="#44840c" stroke-width="1.1"/>
<circle cx="457.50" cy="344.07" r="1.9" fill="#93bf5e" stroke="#44840c" stroke-width="1.1"/>
<circle cx="458.20" cy="344.10" r="1.9" fill="#93bf5e" stroke="#44840c" stroke-width="1.1"/>
<circle cx="458.90" cy="344.19" r="1.9" fill="#93bf5e" stroke="#44840c" stroke-width="1.1"/>
<circle cx="459.60" cy="344.16" r="1.9" fill="#93bf5e" stroke="#44840c" stroke-width="1.1"/>
<circle cx="460.30" cy="344.27" r="1.9" fill="#93bf5e" stroke="#44840c" stroke-width="1.1"/>
<circle cx="461.00" cy="344.28" r="1.9" fill="#93bf5e" stroke="#44840c" stroke-width="1.1"/>
<circle cx="461.70" cy="344.13" r="1.9" fill="#93bf5e" stroke="#44840c" stroke-width="1.1"/>
<circle cx="462.40" cy="344.41" r="1.9" fill="#93bf5e" stroke="#44840c" stroke-width="1.1"/>
<circle cx="463.10" cy="344.38" r="1.9" fill="#93bf5e" stroke="#44840c" stroke-width="1.1"/>
<circle cx="463.80" cy="343.98" r="1.9" fill="#93bf5e" stroke="#44840c" stroke-width="1.1"/>
<circle cx="464.50" cy="344.36" r="1.9" fill="#93bf5e" stroke="#44840c" stroke-width="1.1"/>
<circle cx="465.20" cy="344.40" r="1.9" fill="#93bf5e" stroke="#44840c" stroke-width="1.1"/>
<circle cx="465.90" cy="344.34" r="1.9" fill="#93bf5e" stroke="#44840c" stroke-width="1.1"/>
<circle cx="466.60" cy="344.02" r="1.9" fill="#93bf5e" stroke="#44840c" stroke-width="1.1"/>
<circle cx="467.30" cy="344.37" r="1.9" fill="#93bf5e" stroke="#44840c" stroke-width="1.1"/>
<circle cx="468.00" cy="344.27" r="1.9" fill="#93bf5e" stroke="#44840c" stroke-width="1.1"/>
<circle cx="468.70" cy="343.96" r="1.9" fill="#93bf5e" stroke="#44840c" stroke-width="1.1"/>
<circle cx="469.40" cy="343.96" r="1.9" fill="#93bf5e" stroke="#44840c" stroke-width="1.1"/>
<circle cx="470.10" cy="344.43" r="1.9" fill="#93bf5e" stroke="#44840c" stroke-width="1.1"/>
<circle cx="470.80" cy="344.28" r="1.9" fill="#93bf5e" stroke="#44840c" stroke-width="1.1"/>
<circle cx="471.50" cy="344.08" r="1.9" fill="#93bf5e" stroke="#44840c" stroke-width="1.1"/>
<circle cx="472.20" cy="344.00" r="1.9" fill="#93bf5e" stroke="#44840c" stroke-width="1.1"/>
<circle cx="472.90" cy="344.02" r="1.9" fill="#93bf5e" stroke="#44840c" stroke-width="1.1"/>
<circle cx="473.60" cy="344.07" r="1.9" fill="#93bf5e" stroke="#44840c" stroke-width="1.1"/>
<circle cx="474.30" cy="344.34" r="1.9" fill="#93bf5e" stroke="#44840c" stroke-width="1.1"/>
<circle cx="475.00" cy="344.12" r="1.9" fill="#93bf5e" stroke="#44840c" stroke-width="1.1"/>
<circle cx="475.70" cy="344.03" r="1.9" fill="#93bf5e" stroke="#44840c" stroke-width="1.1"/>
<circle cx="476.40" cy="344.40" r="1.9" fill="#93bf5e" stroke="#44840c" stroke-width="1.1"/>
<circle cx="477.10" cy="344.35" r="1.9" fill="#93bf5e" stroke="#44840c" stroke-width="1.1"/>
<circle cx="477.80" cy="344.03" r="1.9" fill="#93bf5e" stroke="#44840c" stroke-width="1.1"/>
<circle cx="478.50" cy="344.40" r="1.9" fill="#93bf5e" stroke="#44840c" stroke-width="1.1"/>
<circle cx="479.20" cy="344.25" r="1.9" fill="#93bf5e" stroke="#44840c" stroke-width="1.1"/>
<circle cx="479.90" cy="344.34" r="1.9" fill="#93bf5e" stroke="#44840c" stroke-width="1.1"/>
<circle cx="480.60" cy="344.28" r="1.9" fill="#93bf5e" stroke="#44840c" stroke-width="1.1"/>
<circle cx="481.30" cy="344.40" r="1.9" fill="#93bf5e" stroke="#44840c" stroke-width="1.1"/>
<circle cx="482.00" cy="344.34" r="1.9" fill="#93bf5e" stroke="#44840c" stroke-width="1.1"/>
<circle cx="482.70" cy="344.37" r="1.9" fill="#93bf5e" stroke="#44840c" stroke-width="1.1"/>
<circle cx="483.40" cy="344.05" r="1.9" fill="#93bf5e" stroke="#44840c" stroke-width="1.1"/>
<circle cx="484.10" cy="344.30" r="1.9" fill="#93bf5e" stroke="#44840c" stroke-width="1.1"/>
<circle cx="484.80" cy="344.22" r="1.9" fill="#93bf5e" stroke="#44840c" stroke-width="1.1"/>
<circle cx="485.50" cy="344.32" r="1.9" fill="#93bf5e" stroke="#44840c" stroke-width="1.1"/>
<circle cx="486.20" cy="344.17" r="1.9" fill="#93bf5e" stroke="#44840c" stroke-width="1.1"/>
<circle cx="486.90" cy="344.39" r="1.9" fill="#93bf5e" stroke="#44840c" stroke-width="1.1"/>
<circle cx="487.60" cy="344.23" r="1.9" fill="#93bf5e" stroke="#44840c" stroke-width="1.1"/>
<circle cx="488.30" cy="344.08" r="1.9" fill="#93bf5e" stroke="#44840c" stroke-width="1.1"/>
<circle cx="489.00" cy="344.07" r="1.9" fill="#93bf5e" stroke="#44840c" stroke-width="1.1"/>
<circle cx="489.70" cy="344.02" r="1.9" fill="#93bf5e" stroke="#44840c" stroke-width="1.1"/>
<circle cx="490.40" cy="344.20" r="1.9" fill="#93bf5e" stroke="#44840c" stroke-width="1.1"/>
<circle cx="491.10" cy="343.98" r="1.9" fill="#93bf5e" stroke="#44840c" stroke-width="1.1"/>
<circle cx="491.80" cy="344.18" r="1.9" fill="#93bf5e" stroke="#44840c" stroke-width="1.1"/>
<circle cx="492.50" cy="344.02" r="1.9" fill="#93bf5e" stroke="#44840c" stroke-width="1.1"/>
<circle cx="493.20" cy="344.20" r="1.9" fill="#93bf5e" stroke="#44840c" stroke-width="1.1"/>
<circle cx="493.90" cy="344.20" r="1.9" fill="#93bf5e" stroke="#44840c" stroke-width="1.1"/>
<circle cx="494.60" cy="344.22" r="1.9" fill="#93bf5e" stroke="#44840c" stroke-width="1.1"/>
<circle cx="495.30" cy="344.38" r="1.9" fill="#93bf5e" stroke="#44840c" stroke-width="1.1"/>
<circle cx="496.00" cy="343.95" r="1.9" fill="#93bf5e" stroke="#44840c" stroke-width="1.1"/>
<circle cx="496.70" cy="344.37" r="1.9" fill="#93bf5e" stroke="#44840c" stroke-width="1.1"/>
<circle cx="497.40" cy="344.18" r="1.9" fill="#93bf5e" stroke="#44840c" stroke-width="1.1"/>
<circle cx="498.10" cy="344.23" r="1.9" fill="#93bf5e" stroke="#44840c" stroke-width="1.1"/>
<circle cx="498.80" cy="344.28" r="1.9" fill="#93bf5e" stroke="#44840c" stroke-width="1.1"/>
<circle cx="499.50" cy="344.37" r="1.9" fill="#93bf5e" stroke="#44840c" stroke-width="1.1"/>
<circle cx="500.20" cy="344.14" r="1.9" fill="#93bf5e" stroke="#44840c" stroke-width="1.1"/>
<circle cx="500.90" cy="344.16" r="1.9" fill="#93bf5e" stroke="#44840c" stroke-width="1.1"/>
<circle cx="501.60" cy="344.43" r="1.9" fill="#93bf5e" stroke="#44840c" stroke-width="1.1"/>
<circle cx="502.30" cy="343.99" r="1.9" fill="#93bf5e" stroke="#44840c" stroke-width="1.1"/>
<circle cx="503.00" cy="344.27" r="1.9" fill="#93bf5e" stroke="#44840c" stroke-width="1.1"/>
<circle cx="503.70" cy="344.27" r="1.9" fill="#93bf5e" stroke="#44840c" stroke-width="1.1"/>
<circle cx="504.40" cy="343.96" r="1.9" fill="#93bf5e" stroke="#44840c" stroke-width="1.1"/>
<circle cx="505.10" cy="344.25" r="1.9" fill="#93bf5e" stroke="#44840c" stroke-width="1.1"/>
<circle cx="505.80" cy="344.29" r="1.9" fill="#93bf5e" stroke="#44840c" stroke-width="1.1"/>
<circle cx="506.50" cy="344.42" r="1.9" fill="#93bf5e" stroke="#44840c" stroke-width="1.1"/>
<circle cx="507.20" cy="344.12" r="1.9" fill="#93bf5e" stroke="#44840c" stroke-width="1.1"/>
<circle cx="507.90" cy="344.44" r="1.9" fill="#93bf5e" stroke="#44840c" stroke-width="1.1"/>
<circle cx="508.60" cy="344.21" r="1.9" fill="#93bf5e" stroke="#44840c" stroke-width="1.1"/>
<circle cx="509.30" cy="344.19" r="1.9" fill="#93bf5e" stroke="#44840c" stroke-width="1.1"/>
<circle cx="510.00" cy="344.40" r="1.9" fill="#93bf5e" stroke="#44840c" stroke-width="1.1"/>
<circle cx="510.70" cy="343.97" r="1.9" fill="#93bf5e" stroke="#44840c" stroke-width="1.1"/>
<circle cx="511.40" cy="344.31" r="1.9" fill="#93bf5e" stroke="#44840c" stroke-width="1.1"/>
<circle cx="512.10" cy="344.26" r="1.9" fill="#93bf5e" stroke="#44840c" stroke-width="1.1"/>
<circle cx="512.80" cy="344.12" r="1.9" fill="#93bf5e" stroke="#44840c" stroke-width="1.1"/>
<circle cx="513.50" cy="344.38" r="1.9" fill="#93bf5e" stroke="#44840c" stroke-width="1.1"/>
<circle cx="514.20" cy="344.13" r="1.9" fill="#93bf5e" stroke="#44840c" stroke-width="1.1"/>
<circle cx="514.90" cy="344.19" r="1.9" fill="#93bf5e" stroke="#44840c" stroke-width="1.1"/>
<circle cx="515.60" cy="344.21" r="1.9" fill="#93bf5e" stroke="#44840c" stroke-width="1.1"/>
<circle cx="516.30" cy="344.34" r="1.9" fill="#93bf5e" stroke="#44840c" stroke-width="1.1"/>
<circle cx="517.00" cy="344.06" r="1.9" fill="#93bf5e" stroke="#44840c" stroke-width="1.1"/>
<circle cx="517.70" cy="344.17" r="1.9" fill="#93bf5e" stroke="#44840c" stroke-width="1.1"/>
<circle cx="518.40" cy="344.16" r="1.9" fill="#93bf5e" stroke="#44840c" stroke-width="1.1"/>
<circle cx="519.10" cy="344.23" r="1.9" fill="#93bf5e" stroke="#44840c" stroke-width="1.1"/>
<circle cx="519.80" cy="344.36" r="1.9" fill="#93bf5e" stroke="#44840c" stroke-width="1.1"/>
<circle cx="520.50" cy="344.10" r="1.9" fill="#93bf5e" stroke="#44840c" stroke-width="1.1"/>
<circle cx="521.20" cy="344.36" r="1.9" fill="#93bf5e" stroke="#44840c" stroke-width="1.1"/>
<circle cx="521.90" cy="344.15" r="1.9" fill="#93bf5e" stroke="#44840c" stroke-width="1.1"/>
<circle cx="522.60" cy="344.20" r="1.9" fill="#93bf5e" stroke="#44840c" stroke-width="1.1"/>
<circle cx="523.30" cy="344.09" r="1.9" fill="#93bf5e" stroke="#44840c" stroke-width="1.1"/>
<circle cx="524.00" cy="344.20" r="1.9" fill="#93bf5e" stroke="#44840c" stroke-width="1.1"/>
<circle cx="524.70" cy="344.44" r="1.9" fill="#93bf5e" stroke="#44840c" stroke-width="1.1"/>
<circle cx="525.40" cy="344.28" r="1.9" fill="#93bf5e" stroke="#44840c" stroke-width="1.1"/>
<circle cx="526.10" cy="344.35" r="1.9" fill="#93bf5e" stroke="#44840c" stroke-width="1.1"/>
<circle cx="359.50" cy="379.42" r="1.9" fill="#93bf5e" stroke="#44840c" stroke-width="1.1"/>
<circle cx="360.20" cy="379.41" r="1.9" fill="#93bf5e" stroke="#44840c" stroke-width="1.1"/>
<circle cx="360.90" cy="379.40" r="1.9" fill="#93bf5e" stroke="#44840c" stroke-width="1.1"/>
<circle cx="361.60" cy="379.54" r="1.9" fill="#93bf5e" stroke="#44840c" stroke-width="1.1"/>
<circle cx="362.30" cy="379.57" r="1.9" fill="#93bf5e" stroke="#44840c" stroke-width="1.1"/>
<circle cx="363.00" cy="379.64" r="1.9" fill="#93bf5e" stroke="#44840c" stroke-width="1.1"/>
<circle cx="363.70" cy="379.27" r="1.9" fill="#93bf5e" stroke="#44840c" stroke-width="1.1"/>
<circle cx="364.40" cy="379.61" r="1.9" fill="#93bf5e" stroke="#44840c" stroke-width="1.1"/>
<circle cx="365.10" cy="379.69" r="1.9" fill="#93bf5e" stroke="#44840c" stroke-width="1.1"/>
<circle cx="365.80" cy="379.52" r="1.9" fill="#93bf5e" stroke="#44840c" stroke-width="1.1"/>
<circle cx="366.50" cy="379.27" r="1.9" fill="#93bf5e" stroke="#44840c" stroke-width="1.1"/>
<circle cx="367.20" cy="379.40" r="1.9" fill="#93bf5e" stroke="#44840c" stroke-width="1.1"/>
<circle cx="367.90" cy="379.25" r="1.9" fill="#93bf5e" stroke="#44840c" stroke-width="1.1"/>
<circle cx="368.60" cy="379.34" r="1.9" fill="#93bf5e" stroke="#44840c" stroke-width="1.1"/>
<circle cx="369.30" cy="379.71" r="1.9" fill="#93bf5e" stroke="#44840c" stroke-width="1.1"/>
<circle cx="370.00" cy="379.55" r="1.9" fill="#93bf5e" stroke="#44840c" stroke-width="1.1"/>
<circle cx="370.70" cy="379.58" r="1.9" fill="#93bf5e" stroke="#44840c" stroke-width="1.1"/>
<circle cx="371.40" cy="379.64" r="1.9" fill="#93bf5e" stroke="#44840c" stroke-width="1.1"/>
<circle cx="372.10" cy="379.70" r="1.9" fill="#93bf5e" stroke="#44840c" stroke-width="1.1"/>
<circle cx="372.80" cy="379.56" r="1.9" fill="#93bf5e" stroke="#44840c" stroke-width="1.1"/>
<circle cx="373.50" cy="379.56" r="1.9" fill="#93bf5e" stroke="#44840c" stroke-width="1.1"/>
<circle cx="374.20" cy="379.56" r="1.9" fill="#93bf5e" stroke="#44840c" stroke-width="1.1"/>
<circle cx="374.90" cy="379.60" r="1.9" fill="#93bf5e" stroke="#44840c" stroke-width="1.1"/>
<circle cx="375.60" cy="379.55" r="1.9" fill="#93bf5e" stroke="#44840c" stroke-width="1.1"/>
<circle cx="376.30" cy="379.59" r="1.9" fill="#93bf5e" stroke="#44840c" stroke-width="1.1"/>
<circle cx="377.00" cy="379.36" r="1.9" fill="#93bf5e" stroke="#44840c" stroke-width="1.1"/>
<circle cx="377.70" cy="379.58" r="1.9" fill="#93bf5e" stroke="#44840c" stroke-width="1.1"/>
<circle cx="378.40" cy="379.48" r="1.9" fill="#93bf5e" stroke="#44840c" stroke-width="1.1"/>
<circle cx="379.10" cy="379.63" r="1.9" fill="#93bf5e" stroke="#44840c" stroke-width="1.1"/>
<circle cx="379.80" cy="379.30" r="1.9" fill="#93bf5e" stroke="#44840c" stroke-width="1.1"/>
<circle cx="380.50" cy="379.34" r="1.9" fill="#93bf5e" stroke="#44840c" stroke-width="1.1"/>
<circle cx="381.20" cy="379.27" r="1.9" fill="#93bf5e" stroke="#44840c" stroke-width="1.1"/>
<circle cx="381.90" cy="379.64" r="1.9" fill="#93bf5e" stroke="#44840c" stroke-width="1.1"/>
<circle cx="382.60" cy="379.71" r="1.9" fill="#93bf5e" stroke="#44840c" stroke-width="1.1"/>
<circle cx="383.30" cy="379.58" r="1.9" fill="#93bf5e" stroke="#44840c" stroke-width="1.1"/>
<circle cx="384.00" cy="379.43" r="1.9" fill="#93bf5e" stroke="#44840c" stroke-width="1.1"/>
<circle cx="384.70" cy="379.66" r="1.9" fill="#93bf5e" stroke="#44840c" stroke-width="1.1"/>
<circle cx="385.40" cy="379.64" r="1.9" fill="#93bf5e" stroke="#44840c" stroke-width="1.1"/>
<circle cx="386.10" cy="379.53" r="1.9" fill="#93bf5e" stroke="#44840c" stroke-width="1.1"/>
<circle cx="386.80" cy="379.38" r="1.9" fill="#93bf5e" stroke="#44840c" stroke-width="1.1"/>
<circle cx="387.50" cy="379.40" r="1.9" fill="#93bf5e" stroke="#44840c" stroke-width="1.1"/>
<circle cx="388.20" cy="379.46" r="1.9" fill="#93bf5e" stroke="#44840c" stroke-width="1.1"/>
<circle cx="388.90" cy="379.41" r="1.9" fill="#93bf5e" stroke="#44840c" stroke-width="1.1"/>
<circle cx="389.60" cy="379.47" r="1.9" fill="#93bf5e" stroke="#44840c" stroke-width="1.1"/>
<circle cx="390.30" cy="379.57" r="1.9" fill="#93bf5e" stroke="#44840c" stroke-width="1.1"/>
<circle cx="391.00" cy="379.72" r="1.9" fill="#93bf5e" stroke="#44840c" stroke-width="1.1"/>
<circle cx="391.70" cy="379.28" r="1.9" fill="#93bf5e" stroke="#44840c" stroke-width="1.1"/>
<circle cx="392.40" cy="379.53" r="1.9" fill="#93bf5e" stroke="#44840c" stroke-width="1.1"/>
<circle cx="393.10" cy="379.27" r="1.9" fill="#93bf5e" stroke="#44840c" stroke-width="1.1"/>
<circle cx="393.80" cy="379.31" r="1.9" fill="#93bf5e" stroke="#44840c" stroke-width="1.1"/>
<circle cx="394.50" cy="379.66" r="1.9" fill="#93bf5e" stroke="#44840c" stroke-width="1.1"/>
<circle cx="395.20" cy="379.54" r="1.9" fill="#93bf5e" stroke="#44840c" stroke-width="1.1"/>
<circle cx="395.90" cy="379.71" r="1.9" fill="#93bf5e" stroke="#44840c" stroke-width="1.1"/>
<circle cx="396.60" cy="379.47" r="1.9" fill="#93bf5e" stroke="#44840c" stroke-width="1.1"/>
<circle cx="397.30" cy="379.26" r="1.9" fill="#93bf5e" stroke="#44840c" stroke-width="1.1"/>
<circle cx="398.00" cy="379.44" r="1.9" fill="#93bf5e" stroke="#44840c" stroke-width="1.1"/>
<circle cx="398.70" cy="379.55" r="1.9" fill="#93bf5e" stroke="#44840c" stroke-width="1.1"/>
<circle cx="399.40" cy="379.72" r="1.9" fill="#93bf5e" stroke="#44840c" stroke-width="1.1"/>
<circle cx="400.10" cy="379.74" r="1.9" fill="#93bf5e" stroke="#44840c" stroke-width="1.1"/>
<circle cx="400.80" cy="379.49" r="1.9" fill="#93bf5e" stroke="#44840c" stroke-width="1.1"/>
<circle cx="401.50" cy="379.46" r="1.9" fill="#93bf5e" stroke="#44840c" stroke-width="1.1"/>
<circle cx="402.20" cy="379.30" r="1.9" fill="#93bf5e" stroke="#44840c" stroke-width="1.1"/>
<circle cx="402.90" cy="379.57" r="1.9" fill="#93bf5e" stroke="#44840c" stroke-width="1.1"/>
<circle cx="403.60" cy="379.36" r="1.9" fill="#93bf5e" stroke="#44840c" stroke-width="1.1"/>
<circle cx="404.30" cy="379.33" r="1.9" fill="#93bf5e" stroke="#44840c" stroke-width="1.1"/>
<circle cx="405.00" cy="379.26" r="1.9" fill="#93bf5e" stroke="#44840c" stroke-width="1.1"/>
<circle cx="405.70" cy="379.25" r="1.9" fill="#93bf5e" stroke="#44840c" stroke-width="1.1"/>
<circle cx="406.40" cy="379.59" r="1.9" fill="#93bf5e" stroke="#44840c" stroke-width="1.1"/>
<circle cx="407.10" cy="379.31" r="1.9" fill="#93bf5e" stroke="#44840c" stroke-width="1.1"/>
<circle cx="407.80" cy="379.73" r="1.9" fill="#93bf5e" stroke="#44840c" stroke-width="1.1"/>
<circle cx="408.50" cy="379.29" r="1.9" fill="#93bf5e" stroke="#44840c" stroke-width="1.1"/>
<circle cx="409.20" cy="379.68" r="1.9" fill="#93bf5e" stroke="#44840c" stroke-width="1.1"/>
<circle cx="409.90" cy="379.31" r="1.9" fill="#93bf5e" stroke="#44840c" stroke-width="1.1"/>
<circle cx="410.60" cy="379.26" r="1.9" fill="#93bf5e" stroke="#44840c" stroke-width="1.1"/>
<circle cx="411.30" cy="379.61" r="1.9" fill="#93bf5e" stroke="#44840c" stroke-width="1.1"/>
<circle cx="412.00" cy="379.37" r="1.9" fill="#93bf5e" stroke="#44840c" stroke-width="1.1"/>
<circle cx="412.70" cy="379.62" r="1.9" fill="#93bf5e" stroke="#44840c" stroke-width="1.1"/>
<circle cx="413.40" cy="379.34" r="1.9" fill="#93bf5e" stroke="#44840c" stroke-width="1.1"/>
<circle cx="414.10" cy="379.28" r="1.9" fill="#93bf5e" stroke="#44840c" stroke-width="1.1"/>
<circle cx="414.80" cy="379.64" r="1.9" fill="#93bf5e" stroke="#44840c" stroke-width="1.1"/>
<circle cx="415.50" cy="379.61" r="1.9" fill="#93bf5e" stroke="#44840c" stroke-width="1.1"/>
<circle cx="416.20" cy="379.68" r="1.9" fill="#93bf5e" stroke="#44840c" stroke-width="1.1"/>
<circle cx="416.90" cy="379.61" r="1.9" fill="#93bf5e" stroke="#44840c" stroke-width="1.1"/>
<circle cx="417.60" cy="379.29" r="1.9" fill="#93bf5e" stroke="#44840c" stroke-width="1.1"/>
<circle cx="418.30" cy="379.56" r="1.9" fill="#93bf5e" stroke="#44840c" stroke-width="1.1"/>
<circle cx="419.00" cy="379.60" r="1.9" fill="#93bf5e" stroke="#44840c" stroke-width="1.1"/>
<circle cx="419.70" cy="379.48" r="1.9" fill="#93bf5e" stroke="#44840c" stroke-width="1.1"/>
<circle cx="420.40" cy="379.72" r="1.9" fill="#93bf5e" stroke="#44840c" stroke-width="1.1"/>
<circle cx="421.10" cy="379.38" r="1.9" fill="#93bf5e" stroke="#44840c" stroke-width="1.1"/>
<circle cx="421.80" cy="379.73" r="1.9" fill="#93bf5e" stroke="#44840c" stroke-width="1.1"/>
<circle cx="422.50" cy="379.61" r="1.9" fill="#93bf5e" stroke="#44840c" stroke-width="1.1"/>
<circle cx="423.20" cy="379.26" r="1.9" fill="#93bf5e" stroke="#44840c" stroke-width="1.1"/>
<circle cx="423.90" cy="379.26" r="1.9" fill="#93bf5e" stroke="#44840c" stroke-width="1.1"/>
<circle cx="424.60" cy="379.58" r="1.9" fill="#93bf5e" stroke="#44840c" stroke-width="1.1"/>
<circle cx="425.30" cy="379.66" r="1.9" fill="#93bf5e" stroke="#44840c" stroke-width="1.1"/>
<circle cx="426.00" cy="379.29" r="1.9" fill="#93bf5e" stroke="#44840c" stroke-width="1.1"/>
<circle cx="426.70" cy="379.41" r="1.9" fill="#93bf5e" stroke="#44840c" stroke-width="1.1"/>
<circle cx="427.40" cy="379.61" r="1.9" fill="#93bf5e" stroke="#44840c" stroke-width="1.1"/>
<circle cx="428.10" cy="379.33" r="1.9" fill="#93bf5e" stroke="#44840c" stroke-width="1.1"/>
<circle cx="428.80" cy="379.68" r="1.9" fill="#93bf5e" stroke="#44840c" stroke-width="1.1"/>
<circle cx="429.50" cy="379.49" r="1.9" fill="#93bf5e" stroke="#44840c" stroke-width="1.1"/>
<circle cx="430.20" cy="379.28" r="1.9" fill="#93bf5e" stroke="#44840c" stroke-width="1.1"/>
<circle cx="430.90" cy="379.43" r="1.9" fill="#93bf5e" stroke="#44840c" stroke-width="1.1"/>
<circle cx="431.60" cy="379.54" r="1.9" fill="#93bf5e" stroke="#44840c" stroke-width="1.1"/>
<circle cx="432.30" cy="379.47" r="1.9" fill="#93bf5e" stroke="#44840c" stroke-width="1.1"/>
<circle cx="433.00" cy="379.59" r="1.9" fill="#93bf5e" stroke="#44840c" stroke-width="1.1"/>
<circle cx="433.70" cy="379.32" r="1.9" fill="#93bf5e" stroke="#44840c" stroke-width="1.1"/>
<circle cx="434.40" cy="379.65" r="1.9" fill="#93bf5e" stroke="#44840c" stroke-width="1.1"/>
<circle cx="435.10" cy="379.43" r="1.9" fill="#93bf5e" stroke="#44840c" stroke-width="1.1"/>
<circle cx="435.80" cy="379.57" r="1.9" fill="#93bf5e" stroke="#44840c" stroke-width="1.1"/>
<circle cx="436.50" cy="379.56" r="1.9" fill="#93bf5e" stroke="#44840c" stroke-width="1.1"/>
<circle cx="437.20" cy="379.46" r="1.9" fill="#93bf5e" stroke="#44840c" stroke-width="1.1"/>
<circle cx="437.90" cy="379.44" r="1.9" fill="#93bf5e" stroke="#44840c" stroke-width="1.1"/>
<circle cx="438.60" cy="379.64" r="1.9" fill="#93bf5e" stroke="#44840c" stroke-width="1.1"/>
<circle cx="439.30" cy="379.72" r="1.9" fill="#93bf5e" stroke="#44840c" stroke-width="1.1"/>
<circle cx="440.00" cy="379.64" r="1.9" fill="#93bf5e" stroke="#44840c" stroke-width="1.1"/>
<circle cx="440.70" cy="379.53" r="1.9" fill="#93bf5e" stroke="#44840c" stroke-width="1.1"/>
<circle cx="441.40" cy="379.40" r="1.9" fill="#93bf5e" stroke="#44840c" stroke-width="1.1"/>
<circle cx="442.10" cy="379.28" r="1.9" fill="#93bf5e" stroke="#44840c" stroke-width="1.1"/>
<circle cx="442.80" cy="379.74" r="1.9" fill="#93bf5e" stroke="#44840c" stroke-width="1.1"/>
<circle cx="443.50" cy="379.60" r="1.9" fill="#93bf5e" stroke="#44840c" stroke-width="1.1"/>
<circle cx="444.20" cy="379.66" r="1.9" fill="#93bf5e" stroke="#44840c" stroke-width="1.1"/>
<circle cx="444.90" cy="379.42" r="1.9" fill="#93bf5e" stroke="#44840c" stroke-width="1.1"/>
<circle cx="445.60" cy="379.55" r="1.9" fill="#93bf5e" stroke="#44840c" stroke-width="1.1"/>
<circle cx="446.30" cy="379.74" r="1.9" fill="#93bf5e" stroke="#44840c" stroke-width="1.1"/>
<circle cx="447.00" cy="379.67" r="1.9" fill="#93bf5e" stroke="#44840c" stroke-width="1.1"/>
<circle cx="447.70" cy="379.55" r="1.9" fill="#93bf5e" stroke="#44840c" stroke-width="1.1"/>
<circle cx="448.40" cy="379.40" r="1.9" fill="#93bf5e" stroke="#44840c" stroke-width="1.1"/>
<circle cx="449.10" cy="379.46" r="1.9" fill="#93bf5e" stroke="#44840c" stroke-width="1.1"/>
<circle cx="449.80" cy="379.69" r="1.9" fill="#93bf5e" stroke="#44840c" stroke-width="1.1"/>
<circle cx="450.50" cy="379.44" r="1.9" fill="#93bf5e" stroke="#44840c" stroke-width="1.1"/>
<circle cx="451.20" cy="379.59" r="1.9" fill="#93bf5e" stroke="#44840c" stroke-width="1.1"/>
<circle cx="451.90" cy="379.55" r="1.9" fill="#93bf5e" stroke="#44840c" stroke-width="1.1"/>
<circle cx="452.60" cy="379.70" r="1.9" fill="#93bf5e" stroke="#44840c" stroke-width="1.1"/>
<circle cx="453.30" cy="379.65" r="1.9" fill="#93bf5e" stroke="#44840c" stroke-width="1.1"/>
<circle cx="454.00" cy="379.39" r="1.9" fill="#93bf5e" stroke="#44840c" stroke-width="1.1"/>
<circle cx="454.70" cy="379.25" r="1.9" fill="#93bf5e" stroke="#44840c" stroke-width="1.1"/>
<circle cx="455.40" cy="379.38" r="1.9" fill="#93bf5e" stroke="#44840c" stroke-width="1.1"/>
<circle cx="456.10" cy="379.46" r="1.9" fill="#93bf5e" stroke="#44840c" stroke-width="1.1"/>
<circle cx="456.80" cy="379.54" r="1.9" fill="#93bf5e" stroke="#44840c" stroke-width="1.1"/>
<circle cx="457.50" cy="379.66" r="1.9" fill="#93bf5e" stroke="#44840c" stroke-width="1.1"/>
<circle cx="458.20" cy="379.69" r="1.9" fill="#93bf5e" stroke="#44840c" stroke-width="1.1"/>
<circle cx="458.90" cy="379.27" r="1.9" fill="#93bf5e" stroke="#44840c" stroke-width="1.1"/>
<circle cx="459.60" cy="379.67" r="1.9" fill="#93bf5e" stroke="#44840c" stroke-width="1.1"/>
<circle cx="460.30" cy="379.66" r="1.9" fill="#93bf5e" stroke="#44840c" stroke-width="1.1"/>
<circle cx="461.00" cy="379.68" r="1.9" fill="#93bf5e" stroke="#44840c" stroke-width="1.1"/>
<circle cx="461.70" cy="379.54" r="1.9" fill="#93bf5e" stroke="#44840c" stroke-width="1.1"/>
<circle cx="462.40" cy="379.39" r="1.9" fill="#93bf5e" stroke="#44840c" stroke-width="1.1"/>
<circle cx="463.10" cy="379.68" r="1.9" fill="#93bf5e" stroke="#44840c" stroke-width="1.1"/>
<circle cx="463.80" cy="379.65" r="1.9" fill="#93bf5e" stroke="#44840c" stroke-width="1.1"/>
<circle cx="464.50" cy="379.59" r="1.9" fill="#93bf5e" stroke="#44840c" stroke-width="1.1"/>
<circle cx="465.20" cy="379.71" r="1.9" fill="#93bf5e" stroke="#44840c" stroke-width="1.1"/>
<circle cx="465.90" cy="379.42" r="1.9" fill="#93bf5e" stroke="#44840c" stroke-width="1.1"/>
<circle cx="466.60" cy="379.29" r="1.9" fill="#93bf5e" stroke="#44840c" stroke-width="1.1"/>
<circle cx="467.30" cy="379.53" r="1.9" fill="#93bf5e" stroke="#44840c" stroke-width="1.1"/>
<circle cx="468.00" cy="379.65" r="1.9" fill="#93bf5e" stroke="#44840c" stroke-width="1.1"/>
<circle cx="468.70" cy="379.35" r="1.9" fill="#93bf5e" stroke="#44840c" stroke-width="1.1"/>
<circle cx="469.40" cy="379.63" r="1.9" fill="#93bf5e" stroke="#44840c" stroke-width="1.1"/>
<circle cx="470.10" cy="379.72" r="1.9" fill="#93bf5e" stroke="#44840c" stroke-width="1.1"/>
<circle cx="470.80" cy="379.37" r="1.9" fill="#93bf5e" stroke="#44840c" stroke-width="1.1"/>
<circle cx="471.50" cy="379.55" r="1.9" fill="#93bf5e" stroke="#44840c" stroke-width="1.1"/>
<circle cx="472.20" cy="379.59" r="1.9" fill="#93bf5e" stroke="#44840c" stroke-width="1.1"/>
<circle cx="472.90" cy="379.48" r="1.9" fill="#93bf5e" stroke="#44840c" stroke-width="1.1"/>
<circle cx="473.60" cy="379.35" r="1.9" fill="#93bf5e" stroke="#44840c" stroke-width="1.1"/>
<circle cx="474.30" cy="379.38" r="1.9" fill="#93bf5e" stroke="#44840c" stroke-width="1.1"/>
<circle cx="475.00" cy="379.63" r="1.9" fill="#93bf5e" stroke="#44840c" stroke-width="1.1"/>
<circle cx="475.70" cy="379.65" r="1.9" fill="#93bf5e" stroke="#44840c" stroke-width="1.1"/>
<circle cx="476.40" cy="379.48" r="1.9" fill="#93bf5e" stroke="#44840c" stroke-width="1.1"/>
<circle cx="477.10" cy="379.29" r="1.9" fill="#93bf5e" stroke="#44840c" stroke-width="1.1"/>
<circle cx="477.80" cy="379.65" r="1.9" fill="#93bf5e" stroke="#44840c" stroke-width="1.1"/>
<circle cx="478.50" cy="379.64" r="1.9" fill="#93bf5e" stroke="#44840c" stroke-width="1.1"/>
<circle cx="479.20" cy="379.37" r="1.9" fill="#93bf5e" stroke="#44840c" stroke-width="1.1"/>
<circle cx="479.90" cy="379.54" r="1.9" fill="#93bf5e" stroke="#44840c" stroke-width="1.1"/>
<circle cx="480.60" cy="379.70" r="1.9" fill="#93bf5e" stroke="#44840c" stroke-width="1.1"/>
<circle cx="481.30" cy="379.69" r="1.9" fill="#93bf5e" stroke="#44840c" stroke-width="1.1"/>
<circle cx="482.00" cy="379.51" r="1.9" fill="#93bf5e" stroke="#44840c" stroke-width="1.1"/>
<circle cx="482.70" cy="379.49" r="1.9" fill="#93bf5e" stroke="#44840c" stroke-width="1.1"/>
<circle cx="483.40" cy="379.54" r="1.9" fill="#93bf5e" stroke="#44840c" stroke-width="1.1"/>
<circle cx="484.10" cy="379.34" r="1.9" fill="#93bf5e" stroke="#44840c" stroke-width="1.1"/>
<circle cx="484.80" cy="379.35" r="1.9" fill="#93bf5e" stroke="#44840c" stroke-width="1.1"/>
<circle cx="485.50" cy="379.34" r="1.9" fill="#93bf5e" stroke="#44840c" stroke-width="1.1"/>
<circle cx="486.20" cy="379.60" r="1.9" fill="#93bf5e" stroke="#44840c" stroke-width="1.1"/>
<circle cx="486.90" cy="379.43" r="1.9" fill="#93bf5e" stroke="#44840c" stroke-width="1.1"/>
<circle cx="487.60" cy="379.53" r="1.9" fill="#93bf5e" stroke="#44840c" stroke-width="1.1"/>
<circle cx="488.30" cy="379.45" r="1.9" fill="#93bf5e" stroke="#44840c" stroke-width="1.1"/>
<circle cx="489.00" cy="379.51" r="1.9" fill="#93bf5e" stroke="#44840c" stroke-width="1.1"/>
<circle cx="489.70" cy="379.32" r="1.9" fill="#93bf5e" stroke="#44840c" stroke-width="1.1"/>
<circle cx="490.40" cy="379.27" r="1.9" fill="#93bf5e" stroke="#44840c" stroke-width="1.1"/>
<circle cx="491.10" cy="379.75" r="1.9" fill="#93bf5e" stroke="#44840c" stroke-width="1.1"/>
<circle cx="491.80" cy="379.44" r="1.9" fill="#93bf5e" stroke="#44840c" stroke-width="1.1"/>
<circle cx="492.50" cy="379.30" r="1.9" fill="#93bf5e" stroke="#44840c" stroke-width="1.1"/>
<circle cx="493.20" cy="379.57" r="1.9" fill="#93bf5e" stroke="#44840c" stroke-width="1.1"/>
<circle cx="493.90" cy="379.64" r="1.9" fill="#93bf5e" stroke="#44840c" stroke-width="1.1"/>
<circle cx="494.60" cy="379.33" r="1.9" fill="#93bf5e" stroke="#44840c" stroke-width="1.1"/>
<circle cx="495.30" cy="379.55" r="1.9" fill="#93bf5e" stroke="#44840c" stroke-width="1.1"/>
<circle cx="496.00" cy="379.42" r="1.9" fill="#93bf5e" stroke="#44840c" stroke-width="1.1"/>
<circle cx="496.70" cy="379.51" r="1.9" fill="#93bf5e" stroke="#44840c" stroke-width="1.1"/>
<circle cx="497.40" cy="379.26" r="1.9" fill="#93bf5e" stroke="#44840c" stroke-width="1.1"/>
<circle cx="498.10" cy="379.27" r="1.9" fill="#93bf5e" stroke="#44840c" stroke-width="1.1"/>
<circle cx="498.80" cy="379.75" r="1.9" fill="#93bf5e" stroke="#44840c" stroke-width="1.1"/>
<circle cx="499.50" cy="379.68" r="1.9" fill="#93bf5e" stroke="#44840c" stroke-width="1.1"/>
<circle cx="500.20" cy="379.49" r="1.9" fill="#93bf5e" stroke="#44840c" stroke-width="1.1"/>
<circle cx="500.90" cy="379.53" r="1.9" fill="#93bf5e" stroke="#44840c" stroke-width="1.1"/>
<circle cx="501.60" cy="379.38" r="1.9" fill="#93bf5e" stroke="#44840c" stroke-width="1.1"/>
<circle cx="502.30" cy="379.64" r="1.9" fill="#93bf5e" stroke="#44840c" stroke-width="1.1"/>
<circle cx="503.00" cy="379.46" r="1.9" fill="#93bf5e" stroke="#44840c" stroke-width="1.1"/>
<circle cx="503.70" cy="379.72" r="1.9" fill="#93bf5e" stroke="#44840c" stroke-width="1.1"/>
<circle cx="504.40" cy="379.63" r="1.9" fill="#93bf5e" stroke="#44840c" stroke-width="1.1"/>
<circle cx="505.10" cy="379.66" r="1.9" fill="#93bf5e" stroke="#44840c" stroke-width="1.1"/>
<circle cx="505.80" cy="379.73" r="1.9" fill="#93bf5e" stroke="#44840c" stroke-width="1.1"/>
<circle cx="506.50" cy="379.38" r="1.9" fill="#93bf5e" stroke="#44840c" stroke-width="1.1"/>
<circle cx="507.20" cy="379.27" r="1.9" fill="#93bf5e" stroke="#44840c" stroke-width="1.1"/>
<circle cx="507.90" cy="379.35" r="1.9" fill="#93bf5e" stroke="#44840c" stroke-width="1.1"/>
<circle cx="508.60" cy="379.34" r="1.9" fill="#93bf5e" stroke="#44840c" stroke-width="1.1"/>
<circle cx="509.30" cy="379.29" r="1.9" fill="#93bf5e" stroke="#44840c" stroke-width="1.1"/>
<circle cx="510.00" cy="379.28" r="1.9" fill="#93bf5e" stroke="#44840c" stroke-width="1.1"/>
<circle cx="510.70" cy="379.53" r="1.9" fill="#93bf5e" stroke="#44840c" stroke-width="1.1"/>
<circle cx="511.40" cy="379.69" r="1.9" fill="#93bf5e" stroke="#44840c" stroke-width="1.1"/>
<circle cx="512.10" cy="379.48" r="1.9" fill="#93bf5e" stroke="#44840c" stroke-width="1.1"/>
<circle cx="512.80" cy="379.72" r="1.9" fill="#93bf5e" stroke="#44840c" stroke-width="1.1"/>
<circle cx="513.50" cy="379.70" r="1.9" fill="#93bf5e" stroke="#44840c" stroke-width="1.1"/>
<circle cx="514.20" cy="379.28" r="1.9" fill="#93bf5e" stroke="#44840c" stroke-width="1.1"/>
<circle cx="514.90" cy="379.55" r="1.9" fill="#93bf5e" stroke="#44840c" stroke-width="1.1"/>
<circle cx="515.60" cy="379.45" r="1.9" fill="#93bf5e" stroke="#44840c" stroke-width="1.1"/>
<circle cx="516.30" cy="379.31" r="1.9" fill="#93bf5e" stroke="#44840c" stroke-width="1.1"/>
<circle cx="517.00" cy="379.73" r="1.9" fill="#93bf5e" stroke="#44840c" stroke-width="1.1"/>
<circle cx="517.70" cy="379.38" r="1.9" fill="#93bf5e" stroke="#44840c" stroke-width="1.1"/>
<circle cx="518.40" cy="379.53" r="1.9" fill="#93bf5e" stroke="#44840c" stroke-width="1.1"/>
<circle cx="519.10" cy="379.57" r="1.9" fill="#93bf5e" stroke="#44840c" stroke-width="1.1"/>
<circle cx="519.80" cy="379.73" r="1.9" fill="#93bf5e" stroke="#44840c" stroke-width="1.1"/>
<circle cx="520.50" cy="379.58" r="1.9" fill="#93bf5e" stroke="#44840c" stroke-width="1.1"/>
<circle cx="521.20" cy="379.45" r="1.9" fill="#93bf5e" stroke="#44840c" stroke-width="1.1"/>
<circle cx="521.90" cy="379.47" r="1.9" fill="#93bf5e" stroke="#44840c" stroke-width="1.1"/>
<circle cx="522.60" cy="379.33" r="1.9" fill="#93bf5e" stroke="#44840c" stroke-width="1.1"/>
<circle cx="523.30" cy="379.73" r="1.9" fill="#93bf5e" stroke="#44840c" stroke-width="1.1"/>
<circle cx="524.00" cy="379.75" r="1.9" fill="#93bf5e" stroke="#44840c" stroke-width="1.1"/>
<circle cx="524.70" cy="379.36" r="1.9" fill="#93bf5e" stroke="#44840c" stroke-width="1.1"/>
<circle cx="525.40" cy="379.27" r="1.9" fill="#93bf5e" stroke="#44840c" stroke-width="1.1"/>
<circle cx="526.10" cy="379.38" r="1.9" fill="#93bf5e" stroke="#44840c" stroke-width="1.1"/>
<circle cx="526.80" cy="379.43" r="1.9" fill="#93bf5e" stroke="#44840c" stroke-width="1.1"/>
<circle cx="526" cy="344" r="0.8" fill="#fff" opacity="0.7"/>
<circle cx="526.5" cy="379.5" r="0.8" fill="#fff" opacity="0.7"/>
</svg>
</body></html>
